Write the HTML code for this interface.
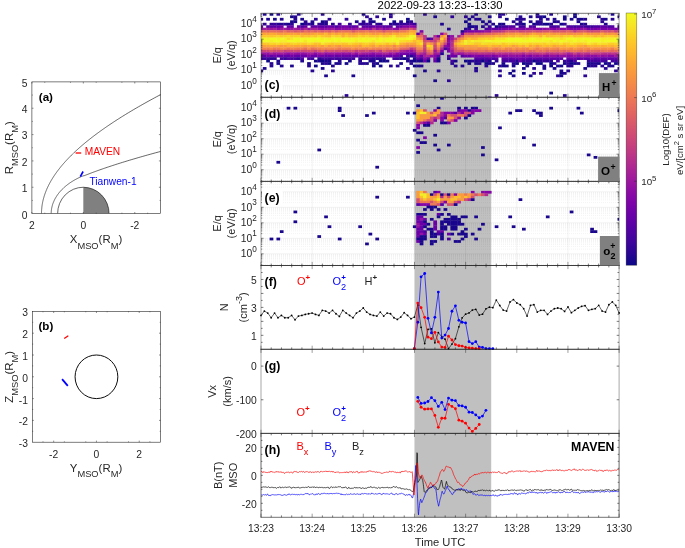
<!DOCTYPE html>
<html><head><meta charset="utf-8"><title>MAVEN 2022-09-23</title>
<style>html,body{margin:0;padding:0;background:#fff}body{width:685px;height:548px;overflow:hidden}svg{display:block}</style>
</head><body>
<svg width="685" height="548" viewBox="0 0 685 548" font-family='"Liberation Sans", Arial, Helvetica, sans-serif'>
<rect width="685" height="548" fill="#fff"/>
<rect x="414.47" y="13.3" width="76.74" height="504.00" fill="#c0c0c0"/>
<path d="M261.0 96.53H619.1M261.0 93.80H619.1M261.0 91.87H619.1M261.0 90.37H619.1M261.0 89.14H619.1M261.0 88.10H619.1M261.0 87.20H619.1M261.0 86.41H619.1M261.0 81.03H619.1M261.0 78.30H619.1M261.0 76.37H619.1M261.0 74.87H619.1M261.0 73.64H619.1M261.0 72.60H619.1M261.0 71.70H619.1M261.0 70.91H619.1M261.0 65.53H619.1M261.0 62.80H619.1M261.0 60.87H619.1M261.0 59.37H619.1M261.0 58.14H619.1M261.0 57.10H619.1M261.0 56.20H619.1M261.0 55.41H619.1M261.0 50.03H619.1M261.0 47.30H619.1M261.0 45.37H619.1M261.0 43.87H619.1M261.0 42.64H619.1M261.0 41.60H619.1M261.0 40.70H619.1M261.0 39.91H619.1M261.0 34.53H619.1M261.0 31.80H619.1M261.0 29.87H619.1M261.0 28.37H619.1M261.0 27.14H619.1M261.0 26.10H619.1M261.0 25.20H619.1M261.0 24.41H619.1M261.0 19.03H619.1M261.0 16.30H619.1M261.0 14.37H619.1" stroke="#000" stroke-opacity="0.10" stroke-width="0.6" stroke-dasharray="0.8 1.2" fill="none"/>
<path d="M312.16 13.3V97.3M363.31 13.3V97.3M414.47 13.3V97.3M465.63 13.3V97.3M516.79 13.3V97.3M567.94 13.3V97.3M261.0 85.70H619.1M261.0 70.20H619.1M261.0 54.70H619.1M261.0 39.20H619.1M261.0 23.70H619.1" stroke="#000" stroke-opacity="0.09" stroke-width="0.6" fill="none"/>
<g><rect x="262.80" y="13.30" width="3.71" height="2.40" fill="#20068f"/><rect x="269.62" y="13.30" width="3.71" height="2.40" fill="#100788"/><rect x="276.44" y="13.30" width="3.71" height="2.40" fill="#2a0593"/><rect x="296.90" y="13.30" width="3.71" height="2.40" fill="#240691"/><rect x="320.78" y="13.30" width="3.71" height="2.40" fill="#2a0593"/><rect x="361.70" y="13.30" width="3.71" height="2.40" fill="#20068f"/><rect x="388.99" y="13.30" width="3.71" height="2.40" fill="#280592"/><rect x="423.09" y="13.30" width="3.71" height="2.40" fill="#2e0595"/><rect x="474.25" y="13.30" width="3.71" height="2.40" fill="#240691"/><rect x="498.12" y="13.30" width="3.71" height="2.40" fill="#1b068d"/><rect x="501.53" y="13.30" width="3.71" height="2.40" fill="#2c0594"/><rect x="535.64" y="13.30" width="3.71" height="2.40" fill="#220690"/><rect x="549.28" y="13.30" width="3.71" height="2.40" fill="#220690"/><rect x="573.15" y="13.30" width="3.71" height="2.40" fill="#16078a"/><rect x="610.67" y="13.30" width="3.71" height="2.40" fill="#1d068e"/><rect x="290.08" y="15.40" width="3.71" height="2.76" fill="#16078a"/><rect x="293.49" y="15.40" width="3.71" height="2.76" fill="#280592"/><rect x="365.11" y="15.40" width="3.71" height="2.76" fill="#2e0595"/><rect x="375.35" y="15.40" width="3.71" height="2.76" fill="#2c0594"/><rect x="388.99" y="15.40" width="3.71" height="2.76" fill="#2e0595"/><rect x="433.32" y="15.40" width="3.71" height="2.76" fill="#1d068e"/><rect x="450.38" y="15.40" width="3.71" height="2.76" fill="#2e0595"/><rect x="464.02" y="15.40" width="3.71" height="2.76" fill="#2e0595"/><rect x="470.84" y="15.40" width="3.71" height="2.76" fill="#240691"/><rect x="487.89" y="15.40" width="3.71" height="2.76" fill="#19068c"/><rect x="498.12" y="15.40" width="3.71" height="2.76" fill="#2c0594"/><rect x="518.59" y="15.40" width="3.71" height="2.76" fill="#220690"/><rect x="528.82" y="15.40" width="3.71" height="2.76" fill="#1d068e"/><rect x="535.64" y="15.40" width="3.71" height="2.76" fill="#2a0593"/><rect x="539.05" y="15.40" width="3.71" height="2.76" fill="#20068f"/><rect x="542.46" y="15.40" width="3.71" height="2.76" fill="#100788"/><rect x="562.92" y="15.40" width="3.71" height="2.76" fill="#16078a"/><rect x="573.15" y="15.40" width="3.71" height="2.76" fill="#130789"/><rect x="597.03" y="15.40" width="3.71" height="2.76" fill="#260591"/><rect x="617.49" y="15.40" width="1.61" height="2.76" fill="#260591"/><rect x="261.00" y="17.86" width="2.10" height="2.76" fill="#2a0593"/><rect x="266.21" y="17.86" width="3.71" height="2.76" fill="#1d068e"/><rect x="273.03" y="17.86" width="3.71" height="2.76" fill="#19068c"/><rect x="279.85" y="17.86" width="3.71" height="2.76" fill="#220690"/><rect x="293.49" y="17.86" width="3.71" height="2.76" fill="#280592"/><rect x="300.32" y="17.86" width="3.71" height="2.76" fill="#1d068e"/><rect x="313.96" y="17.86" width="3.71" height="2.76" fill="#2a0593"/><rect x="327.60" y="17.86" width="3.71" height="2.76" fill="#2c0594"/><rect x="344.65" y="17.86" width="3.71" height="2.76" fill="#2e0595"/><rect x="368.52" y="17.86" width="3.71" height="2.76" fill="#220690"/><rect x="382.17" y="17.86" width="3.71" height="2.76" fill="#1b068d"/><rect x="406.04" y="17.86" width="3.71" height="2.76" fill="#100788"/><rect x="467.43" y="17.86" width="3.71" height="2.76" fill="#130789"/><rect x="474.25" y="17.86" width="3.71" height="2.76" fill="#2a0593"/><rect x="477.66" y="17.86" width="3.71" height="2.76" fill="#1d068e"/><rect x="504.94" y="17.86" width="3.71" height="2.76" fill="#100788"/><rect x="515.18" y="17.86" width="3.71" height="2.76" fill="#1d068e"/><rect x="518.59" y="17.86" width="3.71" height="2.76" fill="#2a0593"/><rect x="522.00" y="17.86" width="3.71" height="2.76" fill="#2c0594"/><rect x="539.05" y="17.86" width="3.71" height="2.76" fill="#240691"/><rect x="545.87" y="17.86" width="3.71" height="2.76" fill="#2e0595"/><rect x="552.69" y="17.86" width="3.71" height="2.76" fill="#20068f"/><rect x="562.92" y="17.86" width="3.71" height="2.76" fill="#16078a"/><rect x="569.74" y="17.86" width="3.71" height="2.76" fill="#19068c"/><rect x="576.56" y="17.86" width="3.71" height="2.76" fill="#1d068e"/><rect x="579.97" y="17.86" width="3.71" height="2.76" fill="#16078a"/><rect x="583.38" y="17.86" width="3.71" height="2.76" fill="#260591"/><rect x="600.44" y="17.86" width="3.71" height="2.76" fill="#260591"/><rect x="603.85" y="17.86" width="3.71" height="2.76" fill="#19068c"/><rect x="610.67" y="17.86" width="3.71" height="2.76" fill="#260591"/><rect x="290.08" y="20.32" width="3.71" height="2.76" fill="#19068c"/><rect x="293.49" y="20.32" width="3.71" height="2.76" fill="#1b068d"/><rect x="303.73" y="20.32" width="3.71" height="2.76" fill="#2a0593"/><rect x="310.55" y="20.32" width="3.71" height="2.76" fill="#20068f"/><rect x="320.78" y="20.32" width="3.71" height="2.76" fill="#16078a"/><rect x="324.19" y="20.32" width="3.71" height="2.76" fill="#280592"/><rect x="354.88" y="20.32" width="3.71" height="2.76" fill="#1b068d"/><rect x="361.70" y="20.32" width="3.71" height="2.76" fill="#2a0593"/><rect x="368.52" y="20.32" width="3.71" height="2.76" fill="#1d068e"/><rect x="371.94" y="20.32" width="3.71" height="2.76" fill="#16078a"/><rect x="392.40" y="20.32" width="3.71" height="2.76" fill="#100788"/><rect x="399.22" y="20.32" width="3.71" height="2.76" fill="#260591"/><rect x="406.04" y="20.32" width="3.71" height="2.76" fill="#19068c"/><rect x="409.45" y="20.32" width="3.71" height="2.76" fill="#280592"/><rect x="464.02" y="20.32" width="3.71" height="2.76" fill="#130789"/><rect x="481.07" y="20.32" width="3.71" height="2.76" fill="#16078a"/><rect x="487.89" y="20.32" width="3.71" height="2.76" fill="#20068f"/><rect x="511.76" y="20.32" width="3.71" height="2.76" fill="#240691"/><rect x="518.59" y="20.32" width="3.71" height="2.76" fill="#2a0593"/><rect x="528.82" y="20.32" width="3.71" height="2.76" fill="#20068f"/><rect x="535.64" y="20.32" width="3.71" height="2.76" fill="#240691"/><rect x="539.05" y="20.32" width="3.71" height="2.76" fill="#280592"/><rect x="552.69" y="20.32" width="3.71" height="2.76" fill="#1b068d"/><rect x="556.10" y="20.32" width="3.71" height="2.76" fill="#240691"/><rect x="576.56" y="20.32" width="3.71" height="2.76" fill="#1d068e"/><rect x="600.44" y="20.32" width="3.71" height="2.76" fill="#2a0593"/><rect x="262.80" y="22.78" width="3.71" height="2.76" fill="#330597"/><rect x="269.62" y="22.78" width="3.71" height="2.76" fill="#330597"/><rect x="273.03" y="22.78" width="3.71" height="2.76" fill="#3a049a"/><rect x="276.44" y="22.78" width="3.71" height="2.76" fill="#260591"/><rect x="279.85" y="22.78" width="3.71" height="2.76" fill="#240691"/><rect x="283.26" y="22.78" width="3.71" height="2.76" fill="#260591"/><rect x="286.67" y="22.78" width="3.71" height="2.76" fill="#19068c"/><rect x="290.08" y="22.78" width="3.71" height="2.76" fill="#2a0593"/><rect x="300.32" y="22.78" width="3.71" height="2.76" fill="#0d0887"/><rect x="303.73" y="22.78" width="3.71" height="2.76" fill="#2a0593"/><rect x="307.14" y="22.78" width="3.71" height="2.76" fill="#2f0596"/><rect x="310.55" y="22.78" width="3.71" height="2.76" fill="#1b068d"/><rect x="317.37" y="22.78" width="3.71" height="2.76" fill="#310597"/><rect x="320.78" y="22.78" width="3.71" height="2.76" fill="#240691"/><rect x="324.19" y="22.78" width="3.71" height="2.76" fill="#20068f"/><rect x="331.01" y="22.78" width="3.71" height="2.76" fill="#260591"/><rect x="337.83" y="22.78" width="3.71" height="2.76" fill="#44039e"/><rect x="348.06" y="22.78" width="3.71" height="2.76" fill="#310597"/><rect x="358.29" y="22.78" width="3.71" height="2.76" fill="#370499"/><rect x="361.70" y="22.78" width="3.71" height="2.76" fill="#2e0595"/><rect x="365.11" y="22.78" width="3.71" height="2.76" fill="#41049d"/><rect x="368.52" y="22.78" width="3.71" height="2.76" fill="#370499"/><rect x="375.35" y="22.78" width="3.71" height="2.76" fill="#2e0595"/><rect x="378.76" y="22.78" width="3.71" height="2.76" fill="#220690"/><rect x="388.99" y="22.78" width="3.71" height="2.76" fill="#260591"/><rect x="392.40" y="22.78" width="3.71" height="2.76" fill="#2a0593"/><rect x="395.81" y="22.78" width="3.71" height="2.76" fill="#280592"/><rect x="399.22" y="22.78" width="3.71" height="2.76" fill="#370499"/><rect x="402.63" y="22.78" width="3.71" height="2.76" fill="#370499"/><rect x="406.04" y="22.78" width="3.71" height="2.76" fill="#3f049c"/><rect x="409.45" y="22.78" width="3.71" height="2.76" fill="#5601a4"/><rect x="412.86" y="22.78" width="3.71" height="2.76" fill="#350498"/><rect x="440.14" y="22.78" width="3.71" height="2.76" fill="#20068f"/><rect x="467.43" y="22.78" width="3.71" height="2.76" fill="#19068c"/><rect x="484.48" y="22.78" width="3.71" height="2.76" fill="#280592"/><rect x="491.30" y="22.78" width="3.71" height="2.76" fill="#20068f"/><rect x="498.12" y="22.78" width="3.71" height="2.76" fill="#16078a"/><rect x="501.53" y="22.78" width="3.71" height="2.76" fill="#1b068d"/><rect x="515.18" y="22.78" width="3.71" height="2.76" fill="#220690"/><rect x="518.59" y="22.78" width="3.71" height="2.76" fill="#2c0594"/><rect x="522.00" y="22.78" width="3.71" height="2.76" fill="#130789"/><rect x="532.23" y="22.78" width="3.71" height="2.76" fill="#130789"/><rect x="535.64" y="22.78" width="3.71" height="2.76" fill="#260591"/><rect x="539.05" y="22.78" width="3.71" height="2.76" fill="#2a0593"/><rect x="542.46" y="22.78" width="3.71" height="2.76" fill="#16078a"/><rect x="545.87" y="22.78" width="3.71" height="2.76" fill="#100788"/><rect x="549.28" y="22.78" width="3.71" height="2.76" fill="#260591"/><rect x="559.51" y="22.78" width="3.71" height="2.76" fill="#130789"/><rect x="562.92" y="22.78" width="3.71" height="2.76" fill="#2e0595"/><rect x="579.97" y="22.78" width="3.71" height="2.76" fill="#1d068e"/><rect x="583.38" y="22.78" width="3.71" height="2.76" fill="#260591"/><rect x="603.85" y="22.78" width="3.71" height="2.76" fill="#20068f"/><rect x="261.00" y="25.24" width="2.10" height="2.76" fill="#5e01a6"/><rect x="266.21" y="25.24" width="3.71" height="2.76" fill="#4c02a1"/><rect x="269.62" y="25.24" width="3.71" height="2.76" fill="#5901a5"/><rect x="273.03" y="25.24" width="3.71" height="2.76" fill="#5302a3"/><rect x="276.44" y="25.24" width="3.71" height="2.76" fill="#5b01a5"/><rect x="279.85" y="25.24" width="3.71" height="2.76" fill="#7201a8"/><rect x="286.67" y="25.24" width="3.71" height="2.76" fill="#6400a7"/><rect x="290.08" y="25.24" width="3.71" height="2.76" fill="#5c01a6"/><rect x="296.90" y="25.24" width="3.71" height="2.76" fill="#6600a7"/><rect x="300.32" y="25.24" width="3.71" height="2.76" fill="#4e02a2"/><rect x="303.73" y="25.24" width="3.71" height="2.76" fill="#6600a7"/><rect x="310.55" y="25.24" width="3.71" height="2.76" fill="#5e01a6"/><rect x="313.96" y="25.24" width="3.71" height="2.76" fill="#6001a6"/><rect x="317.37" y="25.24" width="3.71" height="2.76" fill="#6001a6"/><rect x="320.78" y="25.24" width="3.71" height="2.76" fill="#5801a4"/><rect x="324.19" y="25.24" width="3.71" height="2.76" fill="#5b01a5"/><rect x="327.60" y="25.24" width="3.71" height="2.76" fill="#6c00a8"/><rect x="331.01" y="25.24" width="3.71" height="2.76" fill="#6100a7"/><rect x="334.42" y="25.24" width="3.71" height="2.76" fill="#4e02a2"/><rect x="337.83" y="25.24" width="3.71" height="2.76" fill="#6900a8"/><rect x="341.24" y="25.24" width="3.71" height="2.76" fill="#6a00a8"/><rect x="344.65" y="25.24" width="3.71" height="2.76" fill="#7401a8"/><rect x="348.06" y="25.24" width="3.71" height="2.76" fill="#5901a5"/><rect x="351.47" y="25.24" width="3.71" height="2.76" fill="#5601a4"/><rect x="354.88" y="25.24" width="3.71" height="2.76" fill="#6900a8"/><rect x="361.70" y="25.24" width="3.71" height="2.76" fill="#5b01a5"/><rect x="365.11" y="25.24" width="3.71" height="2.76" fill="#5302a3"/><rect x="368.52" y="25.24" width="3.71" height="2.76" fill="#5502a4"/><rect x="371.94" y="25.24" width="3.71" height="2.76" fill="#6600a7"/><rect x="375.35" y="25.24" width="3.71" height="2.76" fill="#6700a8"/><rect x="378.76" y="25.24" width="3.71" height="2.76" fill="#6e00a8"/><rect x="382.17" y="25.24" width="3.71" height="2.76" fill="#5302a3"/><rect x="385.58" y="25.24" width="3.71" height="2.76" fill="#5901a5"/><rect x="388.99" y="25.24" width="3.71" height="2.76" fill="#5901a5"/><rect x="395.81" y="25.24" width="3.71" height="2.76" fill="#5b01a5"/><rect x="399.22" y="25.24" width="3.71" height="2.76" fill="#6300a7"/><rect x="402.63" y="25.24" width="3.71" height="2.76" fill="#8305a7"/><rect x="406.04" y="25.24" width="3.71" height="2.76" fill="#7d03a8"/><rect x="409.45" y="25.24" width="3.71" height="2.76" fill="#8b0aa5"/><rect x="412.86" y="25.24" width="3.71" height="2.76" fill="#8004a8"/><rect x="467.43" y="25.24" width="3.71" height="2.76" fill="#100788"/><rect x="470.84" y="25.24" width="3.71" height="2.76" fill="#19068c"/><rect x="474.25" y="25.24" width="3.71" height="2.76" fill="#20068f"/><rect x="481.07" y="25.24" width="3.71" height="2.76" fill="#240691"/><rect x="487.89" y="25.24" width="3.71" height="2.76" fill="#370499"/><rect x="494.71" y="25.24" width="3.71" height="2.76" fill="#130789"/><rect x="498.12" y="25.24" width="3.71" height="2.76" fill="#310597"/><rect x="501.53" y="25.24" width="3.71" height="2.76" fill="#3e049c"/><rect x="504.94" y="25.24" width="3.71" height="2.76" fill="#41049d"/><rect x="508.35" y="25.24" width="3.71" height="2.76" fill="#5102a3"/><rect x="511.76" y="25.24" width="3.71" height="2.76" fill="#4b03a1"/><rect x="518.59" y="25.24" width="3.71" height="2.76" fill="#3e049c"/><rect x="522.00" y="25.24" width="3.71" height="2.76" fill="#48039f"/><rect x="528.82" y="25.24" width="3.71" height="2.76" fill="#4903a0"/><rect x="532.23" y="25.24" width="3.71" height="2.76" fill="#48039f"/><rect x="549.28" y="25.24" width="3.71" height="2.76" fill="#46039f"/><rect x="552.69" y="25.24" width="3.71" height="2.76" fill="#43039e"/><rect x="556.10" y="25.24" width="3.71" height="2.76" fill="#46039f"/><rect x="566.33" y="25.24" width="3.71" height="2.76" fill="#46039f"/><rect x="569.74" y="25.24" width="3.71" height="2.76" fill="#4e02a2"/><rect x="573.15" y="25.24" width="3.71" height="2.76" fill="#3c049b"/><rect x="576.56" y="25.24" width="3.71" height="2.76" fill="#4b03a1"/><rect x="579.97" y="25.24" width="3.71" height="2.76" fill="#4c02a1"/><rect x="583.38" y="25.24" width="3.71" height="2.76" fill="#41049d"/><rect x="586.80" y="25.24" width="3.71" height="2.76" fill="#370499"/><rect x="590.21" y="25.24" width="3.71" height="2.76" fill="#38049a"/><rect x="593.62" y="25.24" width="3.71" height="2.76" fill="#4c02a1"/><rect x="597.03" y="25.24" width="3.71" height="2.76" fill="#46039f"/><rect x="600.44" y="25.24" width="3.71" height="2.76" fill="#6001a6"/><rect x="603.85" y="25.24" width="3.71" height="2.76" fill="#6100a7"/><rect x="607.26" y="25.24" width="3.71" height="2.76" fill="#41049d"/><rect x="610.67" y="25.24" width="3.71" height="2.76" fill="#5102a3"/><rect x="617.49" y="25.24" width="1.61" height="2.76" fill="#46039f"/><rect x="261.00" y="27.70" width="2.10" height="2.76" fill="#910ea3"/><rect x="262.80" y="27.70" width="3.71" height="2.76" fill="#a31e9a"/><rect x="266.21" y="27.70" width="3.71" height="2.76" fill="#a01a9c"/><rect x="269.62" y="27.70" width="3.71" height="2.76" fill="#9a169f"/><rect x="273.03" y="27.70" width="3.71" height="2.76" fill="#a21d9a"/><rect x="276.44" y="27.70" width="3.71" height="2.76" fill="#8b0aa5"/><rect x="279.85" y="27.70" width="3.71" height="2.76" fill="#9a169f"/><rect x="283.26" y="27.70" width="3.71" height="2.76" fill="#a01a9c"/><rect x="286.67" y="27.70" width="3.71" height="2.76" fill="#910ea3"/><rect x="290.08" y="27.70" width="3.71" height="2.76" fill="#9511a1"/><rect x="293.49" y="27.70" width="3.71" height="2.76" fill="#a11b9b"/><rect x="296.90" y="27.70" width="3.71" height="2.76" fill="#99159f"/><rect x="300.32" y="27.70" width="3.71" height="2.76" fill="#9410a2"/><rect x="303.73" y="27.70" width="3.71" height="2.76" fill="#ae2892"/><rect x="307.14" y="27.70" width="3.71" height="2.76" fill="#9814a0"/><rect x="310.55" y="27.70" width="3.71" height="2.76" fill="#a51f99"/><rect x="313.96" y="27.70" width="3.71" height="2.76" fill="#a62098"/><rect x="317.37" y="27.70" width="3.71" height="2.76" fill="#9410a2"/><rect x="320.78" y="27.70" width="3.71" height="2.76" fill="#8808a6"/><rect x="324.19" y="27.70" width="3.71" height="2.76" fill="#920fa3"/><rect x="327.60" y="27.70" width="3.71" height="2.76" fill="#9511a1"/><rect x="331.01" y="27.70" width="3.71" height="2.76" fill="#9d189d"/><rect x="334.42" y="27.70" width="3.71" height="2.76" fill="#8606a6"/><rect x="337.83" y="27.70" width="3.71" height="2.76" fill="#8a09a5"/><rect x="341.24" y="27.70" width="3.71" height="2.76" fill="#8b0aa5"/><rect x="344.65" y="27.70" width="3.71" height="2.76" fill="#8b0aa5"/><rect x="348.06" y="27.70" width="3.71" height="2.76" fill="#8d0ba5"/><rect x="351.47" y="27.70" width="3.71" height="2.76" fill="#8f0da4"/><rect x="354.88" y="27.70" width="3.71" height="2.76" fill="#99159f"/><rect x="358.29" y="27.70" width="3.71" height="2.76" fill="#a01a9c"/><rect x="361.70" y="27.70" width="3.71" height="2.76" fill="#9511a1"/><rect x="365.11" y="27.70" width="3.71" height="2.76" fill="#99159f"/><rect x="368.52" y="27.70" width="3.71" height="2.76" fill="#8f0da4"/><rect x="371.94" y="27.70" width="3.71" height="2.76" fill="#b83289"/><rect x="375.35" y="27.70" width="3.71" height="2.76" fill="#920fa3"/><rect x="378.76" y="27.70" width="3.71" height="2.76" fill="#a31e9a"/><rect x="382.17" y="27.70" width="3.71" height="2.76" fill="#8707a6"/><rect x="385.58" y="27.70" width="3.71" height="2.76" fill="#8e0ca4"/><rect x="388.99" y="27.70" width="3.71" height="2.76" fill="#9e199d"/><rect x="392.40" y="27.70" width="3.71" height="2.76" fill="#910ea3"/><rect x="395.81" y="27.70" width="3.71" height="2.76" fill="#8b0aa5"/><rect x="399.22" y="27.70" width="3.71" height="2.76" fill="#b7318a"/><rect x="402.63" y="27.70" width="3.71" height="2.76" fill="#b83289"/><rect x="406.04" y="27.70" width="3.71" height="2.76" fill="#bd3786"/><rect x="409.45" y="27.70" width="3.71" height="2.76" fill="#d6556d"/><rect x="412.86" y="27.70" width="3.71" height="2.76" fill="#c23c81"/><rect x="446.97" y="27.70" width="3.71" height="2.76" fill="#240691"/><rect x="464.02" y="27.70" width="3.71" height="2.76" fill="#240691"/><rect x="467.43" y="27.70" width="3.71" height="2.76" fill="#38049a"/><rect x="474.25" y="27.70" width="3.71" height="2.76" fill="#3f049c"/><rect x="484.48" y="27.70" width="3.71" height="2.76" fill="#4b03a1"/><rect x="487.89" y="27.70" width="3.71" height="2.76" fill="#5901a5"/><rect x="491.30" y="27.70" width="3.71" height="2.76" fill="#6001a6"/><rect x="494.71" y="27.70" width="3.71" height="2.76" fill="#5c01a6"/><rect x="498.12" y="27.70" width="3.71" height="2.76" fill="#6700a8"/><rect x="501.53" y="27.70" width="3.71" height="2.76" fill="#7501a8"/><rect x="504.94" y="27.70" width="3.71" height="2.76" fill="#7e03a8"/><rect x="508.35" y="27.70" width="3.71" height="2.76" fill="#7e03a8"/><rect x="511.76" y="27.70" width="3.71" height="2.76" fill="#910ea3"/><rect x="515.18" y="27.70" width="3.71" height="2.76" fill="#7501a8"/><rect x="518.59" y="27.70" width="3.71" height="2.76" fill="#8305a7"/><rect x="522.00" y="27.70" width="3.71" height="2.76" fill="#7b02a8"/><rect x="525.41" y="27.70" width="3.71" height="2.76" fill="#8a09a5"/><rect x="528.82" y="27.70" width="3.71" height="2.76" fill="#9511a1"/><rect x="532.23" y="27.70" width="3.71" height="2.76" fill="#8606a6"/><rect x="535.64" y="27.70" width="3.71" height="2.76" fill="#7d03a8"/><rect x="539.05" y="27.70" width="3.71" height="2.76" fill="#7b02a8"/><rect x="542.46" y="27.70" width="3.71" height="2.76" fill="#8606a6"/><rect x="545.87" y="27.70" width="3.71" height="2.76" fill="#9410a2"/><rect x="549.28" y="27.70" width="3.71" height="2.76" fill="#8606a6"/><rect x="552.69" y="27.70" width="3.71" height="2.76" fill="#7a02a8"/><rect x="556.10" y="27.70" width="3.71" height="2.76" fill="#910ea3"/><rect x="559.51" y="27.70" width="3.71" height="2.76" fill="#8405a7"/><rect x="562.92" y="27.70" width="3.71" height="2.76" fill="#8707a6"/><rect x="566.33" y="27.70" width="3.71" height="2.76" fill="#8b0aa5"/><rect x="569.74" y="27.70" width="3.71" height="2.76" fill="#7b02a8"/><rect x="573.15" y="27.70" width="3.71" height="2.76" fill="#7701a8"/><rect x="576.56" y="27.70" width="3.71" height="2.76" fill="#7e03a8"/><rect x="579.97" y="27.70" width="3.71" height="2.76" fill="#8f0da4"/><rect x="583.38" y="27.70" width="3.71" height="2.76" fill="#9511a1"/><rect x="586.80" y="27.70" width="3.71" height="2.76" fill="#7201a8"/><rect x="590.21" y="27.70" width="3.71" height="2.76" fill="#7701a8"/><rect x="593.62" y="27.70" width="3.71" height="2.76" fill="#7701a8"/><rect x="597.03" y="27.70" width="3.71" height="2.76" fill="#8305a7"/><rect x="600.44" y="27.70" width="3.71" height="2.76" fill="#7801a8"/><rect x="603.85" y="27.70" width="3.71" height="2.76" fill="#7b02a8"/><rect x="607.26" y="27.70" width="3.71" height="2.76" fill="#8004a8"/><rect x="610.67" y="27.70" width="3.71" height="2.76" fill="#7b02a8"/><rect x="614.08" y="27.70" width="3.71" height="2.76" fill="#7501a8"/><rect x="617.49" y="27.70" width="1.61" height="2.76" fill="#7701a8"/><rect x="261.00" y="30.16" width="2.10" height="2.76" fill="#e4695e"/><rect x="262.80" y="30.16" width="3.71" height="2.76" fill="#e76f5a"/><rect x="266.21" y="30.16" width="3.71" height="2.76" fill="#e26660"/><rect x="269.62" y="30.16" width="3.71" height="2.76" fill="#e76e5b"/><rect x="273.03" y="30.16" width="3.71" height="2.76" fill="#e56b5d"/><rect x="276.44" y="30.16" width="3.71" height="2.76" fill="#e3685f"/><rect x="279.85" y="30.16" width="3.71" height="2.76" fill="#e16462"/><rect x="283.26" y="30.16" width="3.71" height="2.76" fill="#ea7457"/><rect x="286.67" y="30.16" width="3.71" height="2.76" fill="#de5f65"/><rect x="290.08" y="30.16" width="3.71" height="2.76" fill="#e26561"/><rect x="293.49" y="30.16" width="3.71" height="2.76" fill="#d8576b"/><rect x="296.90" y="30.16" width="3.71" height="2.76" fill="#df6263"/><rect x="300.32" y="30.16" width="3.71" height="2.76" fill="#d8576b"/><rect x="303.73" y="30.16" width="3.71" height="2.76" fill="#e76e5b"/><rect x="307.14" y="30.16" width="3.71" height="2.76" fill="#de6164"/><rect x="310.55" y="30.16" width="3.71" height="2.76" fill="#e56b5d"/><rect x="313.96" y="30.16" width="3.71" height="2.76" fill="#dc5d67"/><rect x="317.37" y="30.16" width="3.71" height="2.76" fill="#e3685f"/><rect x="320.78" y="30.16" width="3.71" height="2.76" fill="#db5c68"/><rect x="324.19" y="30.16" width="3.71" height="2.76" fill="#e26660"/><rect x="327.60" y="30.16" width="3.71" height="2.76" fill="#dc5d67"/><rect x="331.01" y="30.16" width="3.71" height="2.76" fill="#e97257"/><rect x="334.42" y="30.16" width="3.71" height="2.76" fill="#de5f65"/><rect x="337.83" y="30.16" width="3.71" height="2.76" fill="#e76e5b"/><rect x="341.24" y="30.16" width="3.71" height="2.76" fill="#ea7457"/><rect x="344.65" y="30.16" width="3.71" height="2.76" fill="#e87059"/><rect x="348.06" y="30.16" width="3.71" height="2.76" fill="#e97158"/><rect x="351.47" y="30.16" width="3.71" height="2.76" fill="#d8576b"/><rect x="354.88" y="30.16" width="3.71" height="2.76" fill="#e56b5d"/><rect x="358.29" y="30.16" width="3.71" height="2.76" fill="#e87059"/><rect x="361.70" y="30.16" width="3.71" height="2.76" fill="#e97257"/><rect x="365.11" y="30.16" width="3.71" height="2.76" fill="#ee7b51"/><rect x="368.52" y="30.16" width="3.71" height="2.76" fill="#e56b5d"/><rect x="371.94" y="30.16" width="3.71" height="2.76" fill="#e97158"/><rect x="375.35" y="30.16" width="3.71" height="2.76" fill="#e97257"/><rect x="378.76" y="30.16" width="3.71" height="2.76" fill="#e56a5d"/><rect x="382.17" y="30.16" width="3.71" height="2.76" fill="#d7566c"/><rect x="385.58" y="30.16" width="3.71" height="2.76" fill="#e56b5d"/><rect x="388.99" y="30.16" width="3.71" height="2.76" fill="#e56b5d"/><rect x="392.40" y="30.16" width="3.71" height="2.76" fill="#e97257"/><rect x="395.81" y="30.16" width="3.71" height="2.76" fill="#e4695e"/><rect x="399.22" y="30.16" width="3.71" height="2.76" fill="#ed7953"/><rect x="402.63" y="30.16" width="3.71" height="2.76" fill="#ed7953"/><rect x="406.04" y="30.16" width="3.71" height="2.76" fill="#f48849"/><rect x="409.45" y="30.16" width="3.71" height="2.76" fill="#fca537"/><rect x="412.86" y="30.16" width="3.71" height="2.76" fill="#fba139"/><rect x="419.68" y="30.16" width="3.71" height="2.76" fill="#7e03a8"/><rect x="460.61" y="30.16" width="3.71" height="2.76" fill="#260591"/><rect x="464.02" y="30.16" width="3.71" height="2.76" fill="#6600a7"/><rect x="467.43" y="30.16" width="3.71" height="2.76" fill="#7701a8"/><rect x="470.84" y="30.16" width="3.71" height="2.76" fill="#7b02a8"/><rect x="474.25" y="30.16" width="3.71" height="2.76" fill="#7a02a8"/><rect x="477.66" y="30.16" width="3.71" height="2.76" fill="#8405a7"/><rect x="481.07" y="30.16" width="3.71" height="2.76" fill="#8a09a5"/><rect x="484.48" y="30.16" width="3.71" height="2.76" fill="#9613a1"/><rect x="487.89" y="30.16" width="3.71" height="2.76" fill="#920fa3"/><rect x="491.30" y="30.16" width="3.71" height="2.76" fill="#bc3587"/><rect x="494.71" y="30.16" width="3.71" height="2.76" fill="#b52f8c"/><rect x="498.12" y="30.16" width="3.71" height="2.76" fill="#b42e8d"/><rect x="501.53" y="30.16" width="3.71" height="2.76" fill="#c03a83"/><rect x="504.94" y="30.16" width="3.71" height="2.76" fill="#d24f71"/><rect x="508.35" y="30.16" width="3.71" height="2.76" fill="#d35171"/><rect x="511.76" y="30.16" width="3.71" height="2.76" fill="#cf4c74"/><rect x="515.18" y="30.16" width="3.71" height="2.76" fill="#d5546e"/><rect x="518.59" y="30.16" width="3.71" height="2.76" fill="#c8437b"/><rect x="522.00" y="30.16" width="3.71" height="2.76" fill="#cc4977"/><rect x="525.41" y="30.16" width="3.71" height="2.76" fill="#cf4c74"/><rect x="528.82" y="30.16" width="3.71" height="2.76" fill="#cf4c74"/><rect x="532.23" y="30.16" width="3.71" height="2.76" fill="#d7566c"/><rect x="535.64" y="30.16" width="3.71" height="2.76" fill="#ce4b75"/><rect x="539.05" y="30.16" width="3.71" height="2.76" fill="#ce4b75"/><rect x="542.46" y="30.16" width="3.71" height="2.76" fill="#d6556d"/><rect x="545.87" y="30.16" width="3.71" height="2.76" fill="#d5546e"/><rect x="549.28" y="30.16" width="3.71" height="2.76" fill="#dd5e66"/><rect x="552.69" y="30.16" width="3.71" height="2.76" fill="#d14e72"/><rect x="556.10" y="30.16" width="3.71" height="2.76" fill="#d24f71"/><rect x="559.51" y="30.16" width="3.71" height="2.76" fill="#d9586a"/><rect x="562.92" y="30.16" width="3.71" height="2.76" fill="#d6556d"/><rect x="566.33" y="30.16" width="3.71" height="2.76" fill="#e16462"/><rect x="569.74" y="30.16" width="3.71" height="2.76" fill="#da5a6a"/><rect x="573.15" y="30.16" width="3.71" height="2.76" fill="#c13b82"/><rect x="576.56" y="30.16" width="3.71" height="2.76" fill="#d5546e"/><rect x="579.97" y="30.16" width="3.71" height="2.76" fill="#da5a6a"/><rect x="583.38" y="30.16" width="3.71" height="2.76" fill="#da5b69"/><rect x="586.80" y="30.16" width="3.71" height="2.76" fill="#cf4c74"/><rect x="590.21" y="30.16" width="3.71" height="2.76" fill="#c9447a"/><rect x="593.62" y="30.16" width="3.71" height="2.76" fill="#cf4c74"/><rect x="597.03" y="30.16" width="3.71" height="2.76" fill="#cd4a76"/><rect x="600.44" y="30.16" width="3.71" height="2.76" fill="#dd5e66"/><rect x="603.85" y="30.16" width="3.71" height="2.76" fill="#d35171"/><rect x="607.26" y="30.16" width="3.71" height="2.76" fill="#cf4c74"/><rect x="610.67" y="30.16" width="3.71" height="2.76" fill="#d9586a"/><rect x="614.08" y="30.16" width="3.71" height="2.76" fill="#c33d80"/><rect x="617.49" y="30.16" width="1.61" height="2.76" fill="#cd4a76"/><rect x="261.00" y="32.62" width="2.10" height="2.76" fill="#fdab33"/><rect x="262.80" y="32.62" width="3.71" height="2.76" fill="#fca338"/><rect x="266.21" y="32.62" width="3.71" height="2.76" fill="#fba139"/><rect x="269.62" y="32.62" width="3.71" height="2.76" fill="#fdac33"/><rect x="273.03" y="32.62" width="3.71" height="2.76" fill="#fca636"/><rect x="276.44" y="32.62" width="3.71" height="2.76" fill="#fa9e3b"/><rect x="279.85" y="32.62" width="3.71" height="2.76" fill="#fa9b3d"/><rect x="283.26" y="32.62" width="3.71" height="2.76" fill="#fa9b3d"/><rect x="286.67" y="32.62" width="3.71" height="2.76" fill="#fba238"/><rect x="290.08" y="32.62" width="3.71" height="2.76" fill="#fb9f3a"/><rect x="293.49" y="32.62" width="3.71" height="2.76" fill="#fca537"/><rect x="296.90" y="32.62" width="3.71" height="2.76" fill="#fa9b3d"/><rect x="300.32" y="32.62" width="3.71" height="2.76" fill="#fca537"/><rect x="303.73" y="32.62" width="3.71" height="2.76" fill="#fa9c3c"/><rect x="307.14" y="32.62" width="3.71" height="2.76" fill="#f9983e"/><rect x="310.55" y="32.62" width="3.71" height="2.76" fill="#fba139"/><rect x="313.96" y="32.62" width="3.71" height="2.76" fill="#fdac33"/><rect x="317.37" y="32.62" width="3.71" height="2.76" fill="#fca934"/><rect x="320.78" y="32.62" width="3.71" height="2.76" fill="#fca537"/><rect x="324.19" y="32.62" width="3.71" height="2.76" fill="#feb72d"/><rect x="327.60" y="32.62" width="3.71" height="2.76" fill="#fa9e3b"/><rect x="331.01" y="32.62" width="3.71" height="2.76" fill="#fdaf31"/><rect x="334.42" y="32.62" width="3.71" height="2.76" fill="#fba238"/><rect x="337.83" y="32.62" width="3.71" height="2.76" fill="#fdaf31"/><rect x="341.24" y="32.62" width="3.71" height="2.76" fill="#fb9f3a"/><rect x="344.65" y="32.62" width="3.71" height="2.76" fill="#fdb42f"/><rect x="348.06" y="32.62" width="3.71" height="2.76" fill="#fba139"/><rect x="351.47" y="32.62" width="3.71" height="2.76" fill="#fa9b3d"/><rect x="354.88" y="32.62" width="3.71" height="2.76" fill="#fca537"/><rect x="358.29" y="32.62" width="3.71" height="2.76" fill="#fdac33"/><rect x="361.70" y="32.62" width="3.71" height="2.76" fill="#fb9f3a"/><rect x="365.11" y="32.62" width="3.71" height="2.76" fill="#fca835"/><rect x="368.52" y="32.62" width="3.71" height="2.76" fill="#fca537"/><rect x="371.94" y="32.62" width="3.71" height="2.76" fill="#f9983e"/><rect x="375.35" y="32.62" width="3.71" height="2.76" fill="#fa9b3d"/><rect x="378.76" y="32.62" width="3.71" height="2.76" fill="#fca835"/><rect x="382.17" y="32.62" width="3.71" height="2.76" fill="#f9983e"/><rect x="385.58" y="32.62" width="3.71" height="2.76" fill="#fca835"/><rect x="388.99" y="32.62" width="3.71" height="2.76" fill="#fa9b3d"/><rect x="392.40" y="32.62" width="3.71" height="2.76" fill="#fdb130"/><rect x="395.81" y="32.62" width="3.71" height="2.76" fill="#fca636"/><rect x="399.22" y="32.62" width="3.71" height="2.76" fill="#fdb130"/><rect x="402.63" y="32.62" width="3.71" height="2.76" fill="#fdb22f"/><rect x="406.04" y="32.62" width="3.71" height="2.76" fill="#fdb22f"/><rect x="409.45" y="32.62" width="3.71" height="2.76" fill="#fdc527"/><rect x="412.86" y="32.62" width="3.71" height="2.76" fill="#feb72d"/><rect x="416.27" y="32.62" width="3.71" height="2.76" fill="#6100a7"/><rect x="419.68" y="32.62" width="3.71" height="2.76" fill="#cd4a76"/><rect x="440.14" y="32.62" width="3.71" height="2.76" fill="#8707a6"/><rect x="443.56" y="32.62" width="3.71" height="2.76" fill="#d9586a"/><rect x="460.61" y="32.62" width="3.71" height="2.76" fill="#7d03a8"/><rect x="464.02" y="32.62" width="3.71" height="2.76" fill="#d6556d"/><rect x="467.43" y="32.62" width="3.71" height="2.76" fill="#d35171"/><rect x="470.84" y="32.62" width="3.71" height="2.76" fill="#ce4b75"/><rect x="474.25" y="32.62" width="3.71" height="2.76" fill="#e16462"/><rect x="477.66" y="32.62" width="3.71" height="2.76" fill="#d7566c"/><rect x="481.07" y="32.62" width="3.71" height="2.76" fill="#db5c68"/><rect x="484.48" y="32.62" width="3.71" height="2.76" fill="#e56a5d"/><rect x="487.89" y="32.62" width="3.71" height="2.76" fill="#e3685f"/><rect x="491.30" y="32.62" width="3.71" height="2.76" fill="#e76f5a"/><rect x="494.71" y="32.62" width="3.71" height="2.76" fill="#ef7c51"/><rect x="498.12" y="32.62" width="3.71" height="2.76" fill="#ef7e50"/><rect x="501.53" y="32.62" width="3.71" height="2.76" fill="#f0804e"/><rect x="504.94" y="32.62" width="3.71" height="2.76" fill="#f9973f"/><rect x="508.35" y="32.62" width="3.71" height="2.76" fill="#f79342"/><rect x="511.76" y="32.62" width="3.71" height="2.76" fill="#f89540"/><rect x="515.18" y="32.62" width="3.71" height="2.76" fill="#fa9e3b"/><rect x="518.59" y="32.62" width="3.71" height="2.76" fill="#f99a3e"/><rect x="522.00" y="32.62" width="3.71" height="2.76" fill="#f68d45"/><rect x="525.41" y="32.62" width="3.71" height="2.76" fill="#f48948"/><rect x="528.82" y="32.62" width="3.71" height="2.76" fill="#fa9b3d"/><rect x="532.23" y="32.62" width="3.71" height="2.76" fill="#fca934"/><rect x="535.64" y="32.62" width="3.71" height="2.76" fill="#fa9c3c"/><rect x="539.05" y="32.62" width="3.71" height="2.76" fill="#f9983e"/><rect x="542.46" y="32.62" width="3.71" height="2.76" fill="#fa9c3c"/><rect x="545.87" y="32.62" width="3.71" height="2.76" fill="#fca934"/><rect x="549.28" y="32.62" width="3.71" height="2.76" fill="#fa9b3d"/><rect x="552.69" y="32.62" width="3.71" height="2.76" fill="#f89540"/><rect x="556.10" y="32.62" width="3.71" height="2.76" fill="#fa9b3d"/><rect x="559.51" y="32.62" width="3.71" height="2.76" fill="#f79143"/><rect x="562.92" y="32.62" width="3.71" height="2.76" fill="#f79143"/><rect x="566.33" y="32.62" width="3.71" height="2.76" fill="#f79044"/><rect x="569.74" y="32.62" width="3.71" height="2.76" fill="#f79044"/><rect x="573.15" y="32.62" width="3.71" height="2.76" fill="#f79044"/><rect x="576.56" y="32.62" width="3.71" height="2.76" fill="#f89540"/><rect x="579.97" y="32.62" width="3.71" height="2.76" fill="#f9973f"/><rect x="583.38" y="32.62" width="3.71" height="2.76" fill="#fdab33"/><rect x="586.80" y="32.62" width="3.71" height="2.76" fill="#f9973f"/><rect x="590.21" y="32.62" width="3.71" height="2.76" fill="#f89540"/><rect x="593.62" y="32.62" width="3.71" height="2.76" fill="#f9983e"/><rect x="597.03" y="32.62" width="3.71" height="2.76" fill="#f79342"/><rect x="600.44" y="32.62" width="3.71" height="2.76" fill="#fca636"/><rect x="603.85" y="32.62" width="3.71" height="2.76" fill="#f79143"/><rect x="607.26" y="32.62" width="3.71" height="2.76" fill="#f79342"/><rect x="610.67" y="32.62" width="3.71" height="2.76" fill="#f99a3e"/><rect x="614.08" y="32.62" width="3.71" height="2.76" fill="#f89441"/><rect x="617.49" y="32.62" width="1.61" height="2.76" fill="#f3874a"/><rect x="261.00" y="35.08" width="2.10" height="2.76" fill="#febb2b"/><rect x="262.80" y="35.08" width="3.71" height="2.76" fill="#fdc627"/><rect x="266.21" y="35.08" width="3.71" height="2.76" fill="#fdc527"/><rect x="269.62" y="35.08" width="3.71" height="2.76" fill="#fdc328"/><rect x="273.03" y="35.08" width="3.71" height="2.76" fill="#fdc827"/><rect x="276.44" y="35.08" width="3.71" height="2.76" fill="#fcd025"/><rect x="279.85" y="35.08" width="3.71" height="2.76" fill="#fdc827"/><rect x="283.26" y="35.08" width="3.71" height="2.76" fill="#fccd25"/><rect x="286.67" y="35.08" width="3.71" height="2.76" fill="#fbd724"/><rect x="290.08" y="35.08" width="3.71" height="2.76" fill="#fdcb26"/><rect x="293.49" y="35.08" width="3.71" height="2.76" fill="#fcce25"/><rect x="296.90" y="35.08" width="3.71" height="2.76" fill="#fcd225"/><rect x="300.32" y="35.08" width="3.71" height="2.76" fill="#feb82c"/><rect x="303.73" y="35.08" width="3.71" height="2.76" fill="#fdc627"/><rect x="307.14" y="35.08" width="3.71" height="2.76" fill="#febe2a"/><rect x="310.55" y="35.08" width="3.71" height="2.76" fill="#fdcb26"/><rect x="313.96" y="35.08" width="3.71" height="2.76" fill="#fdc229"/><rect x="317.37" y="35.08" width="3.71" height="2.76" fill="#fad824"/><rect x="320.78" y="35.08" width="3.71" height="2.76" fill="#fdc627"/><rect x="324.19" y="35.08" width="3.71" height="2.76" fill="#febe2a"/><rect x="327.60" y="35.08" width="3.71" height="2.76" fill="#feba2c"/><rect x="331.01" y="35.08" width="3.71" height="2.76" fill="#fad824"/><rect x="334.42" y="35.08" width="3.71" height="2.76" fill="#fccd25"/><rect x="337.83" y="35.08" width="3.71" height="2.76" fill="#fbd324"/><rect x="341.24" y="35.08" width="3.71" height="2.76" fill="#fdae32"/><rect x="344.65" y="35.08" width="3.71" height="2.76" fill="#fdcb26"/><rect x="348.06" y="35.08" width="3.71" height="2.76" fill="#feba2c"/><rect x="351.47" y="35.08" width="3.71" height="2.76" fill="#feba2c"/><rect x="354.88" y="35.08" width="3.71" height="2.76" fill="#fdc328"/><rect x="358.29" y="35.08" width="3.71" height="2.76" fill="#fbd324"/><rect x="361.70" y="35.08" width="3.71" height="2.76" fill="#fdc627"/><rect x="365.11" y="35.08" width="3.71" height="2.76" fill="#fbd324"/><rect x="368.52" y="35.08" width="3.71" height="2.76" fill="#fdc627"/><rect x="371.94" y="35.08" width="3.71" height="2.76" fill="#fdc827"/><rect x="375.35" y="35.08" width="3.71" height="2.76" fill="#fdc328"/><rect x="378.76" y="35.08" width="3.71" height="2.76" fill="#fbd324"/><rect x="382.17" y="35.08" width="3.71" height="2.76" fill="#fdc328"/><rect x="385.58" y="35.08" width="3.71" height="2.76" fill="#fdc527"/><rect x="388.99" y="35.08" width="3.71" height="2.76" fill="#fbd524"/><rect x="392.40" y="35.08" width="3.71" height="2.76" fill="#f6e626"/><rect x="395.81" y="35.08" width="3.71" height="2.76" fill="#fdc527"/><rect x="399.22" y="35.08" width="3.71" height="2.76" fill="#fdc229"/><rect x="402.63" y="35.08" width="3.71" height="2.76" fill="#fdc827"/><rect x="406.04" y="35.08" width="3.71" height="2.76" fill="#fbd724"/><rect x="409.45" y="35.08" width="3.71" height="2.76" fill="#f1f426"/><rect x="412.86" y="35.08" width="3.71" height="2.76" fill="#f0f921"/><rect x="416.27" y="35.08" width="3.71" height="2.76" fill="#e66c5c"/><rect x="419.68" y="35.08" width="3.71" height="2.76" fill="#e66c5c"/><rect x="423.09" y="35.08" width="3.71" height="2.76" fill="#bb3488"/><rect x="433.32" y="35.08" width="3.71" height="2.76" fill="#b02991"/><rect x="436.73" y="35.08" width="3.71" height="2.76" fill="#6c00a8"/><rect x="440.14" y="35.08" width="3.71" height="2.76" fill="#f89441"/><rect x="443.56" y="35.08" width="3.71" height="2.76" fill="#feb72d"/><rect x="446.97" y="35.08" width="3.71" height="2.76" fill="#6400a7"/><rect x="450.38" y="35.08" width="3.71" height="2.76" fill="#9410a2"/><rect x="457.20" y="35.08" width="3.71" height="2.76" fill="#a62098"/><rect x="460.61" y="35.08" width="3.71" height="2.76" fill="#da5a6a"/><rect x="464.02" y="35.08" width="3.71" height="2.76" fill="#f68f44"/><rect x="467.43" y="35.08" width="3.71" height="2.76" fill="#f58c46"/><rect x="470.84" y="35.08" width="3.71" height="2.76" fill="#f68f44"/><rect x="474.25" y="35.08" width="3.71" height="2.76" fill="#f79342"/><rect x="477.66" y="35.08" width="3.71" height="2.76" fill="#f9973f"/><rect x="481.07" y="35.08" width="3.71" height="2.76" fill="#f99a3e"/><rect x="484.48" y="35.08" width="3.71" height="2.76" fill="#fca338"/><rect x="487.89" y="35.08" width="3.71" height="2.76" fill="#fca537"/><rect x="491.30" y="35.08" width="3.71" height="2.76" fill="#fba139"/><rect x="494.71" y="35.08" width="3.71" height="2.76" fill="#fdb22f"/><rect x="498.12" y="35.08" width="3.71" height="2.76" fill="#fca537"/><rect x="501.53" y="35.08" width="3.71" height="2.76" fill="#fdae32"/><rect x="504.94" y="35.08" width="3.71" height="2.76" fill="#fdaf31"/><rect x="508.35" y="35.08" width="3.71" height="2.76" fill="#feba2c"/><rect x="511.76" y="35.08" width="3.71" height="2.76" fill="#fdb130"/><rect x="515.18" y="35.08" width="3.71" height="2.76" fill="#fec029"/><rect x="518.59" y="35.08" width="3.71" height="2.76" fill="#fdb52e"/><rect x="522.00" y="35.08" width="3.71" height="2.76" fill="#febd2a"/><rect x="525.41" y="35.08" width="3.71" height="2.76" fill="#febb2b"/><rect x="528.82" y="35.08" width="3.71" height="2.76" fill="#fccd25"/><rect x="532.23" y="35.08" width="3.71" height="2.76" fill="#fcce25"/><rect x="535.64" y="35.08" width="3.71" height="2.76" fill="#fdcb26"/><rect x="539.05" y="35.08" width="3.71" height="2.76" fill="#fdb22f"/><rect x="542.46" y="35.08" width="3.71" height="2.76" fill="#fbd724"/><rect x="545.87" y="35.08" width="3.71" height="2.76" fill="#feba2c"/><rect x="549.28" y="35.08" width="3.71" height="2.76" fill="#febd2a"/><rect x="552.69" y="35.08" width="3.71" height="2.76" fill="#fdc328"/><rect x="556.10" y="35.08" width="3.71" height="2.76" fill="#fdc527"/><rect x="559.51" y="35.08" width="3.71" height="2.76" fill="#febb2b"/><rect x="562.92" y="35.08" width="3.71" height="2.76" fill="#fcce25"/><rect x="566.33" y="35.08" width="3.71" height="2.76" fill="#fdc827"/><rect x="569.74" y="35.08" width="3.71" height="2.76" fill="#fbd524"/><rect x="573.15" y="35.08" width="3.71" height="2.76" fill="#febb2b"/><rect x="576.56" y="35.08" width="3.71" height="2.76" fill="#fdc527"/><rect x="579.97" y="35.08" width="3.71" height="2.76" fill="#fdcb26"/><rect x="583.38" y="35.08" width="3.71" height="2.76" fill="#fdca26"/><rect x="586.80" y="35.08" width="3.71" height="2.76" fill="#fdc527"/><rect x="590.21" y="35.08" width="3.71" height="2.76" fill="#fdc328"/><rect x="593.62" y="35.08" width="3.71" height="2.76" fill="#fdb42f"/><rect x="597.03" y="35.08" width="3.71" height="2.76" fill="#fdc229"/><rect x="600.44" y="35.08" width="3.71" height="2.76" fill="#fdb52e"/><rect x="603.85" y="35.08" width="3.71" height="2.76" fill="#fdc627"/><rect x="607.26" y="35.08" width="3.71" height="2.76" fill="#fdca26"/><rect x="610.67" y="35.08" width="3.71" height="2.76" fill="#fdca26"/><rect x="614.08" y="35.08" width="3.71" height="2.76" fill="#febe2a"/><rect x="617.49" y="35.08" width="1.61" height="2.76" fill="#febd2a"/><rect x="261.00" y="37.54" width="2.10" height="2.76" fill="#f1f525"/><rect x="262.80" y="37.54" width="3.71" height="2.76" fill="#f0f724"/><rect x="266.21" y="37.54" width="3.71" height="2.76" fill="#f3ee27"/><rect x="269.62" y="37.54" width="3.71" height="2.76" fill="#f0f921"/><rect x="273.03" y="37.54" width="3.71" height="2.76" fill="#f0f921"/><rect x="276.44" y="37.54" width="3.71" height="2.76" fill="#f2f227"/><rect x="279.85" y="37.54" width="3.71" height="2.76" fill="#f0f921"/><rect x="283.26" y="37.54" width="3.71" height="2.76" fill="#f1f525"/><rect x="286.67" y="37.54" width="3.71" height="2.76" fill="#f9dd25"/><rect x="290.08" y="37.54" width="3.71" height="2.76" fill="#f6e826"/><rect x="293.49" y="37.54" width="3.71" height="2.76" fill="#f0f921"/><rect x="296.90" y="37.54" width="3.71" height="2.76" fill="#f1f426"/><rect x="300.32" y="37.54" width="3.71" height="2.76" fill="#f0f921"/><rect x="303.73" y="37.54" width="3.71" height="2.76" fill="#f1f426"/><rect x="307.14" y="37.54" width="3.71" height="2.76" fill="#f0f921"/><rect x="310.55" y="37.54" width="3.71" height="2.76" fill="#f0f921"/><rect x="313.96" y="37.54" width="3.71" height="2.76" fill="#f0f921"/><rect x="317.37" y="37.54" width="3.71" height="2.76" fill="#f0f921"/><rect x="320.78" y="37.54" width="3.71" height="2.76" fill="#f4ed27"/><rect x="324.19" y="37.54" width="3.71" height="2.76" fill="#f1f525"/><rect x="327.60" y="37.54" width="3.71" height="2.76" fill="#f4ed27"/><rect x="331.01" y="37.54" width="3.71" height="2.76" fill="#f0f921"/><rect x="334.42" y="37.54" width="3.71" height="2.76" fill="#f0f921"/><rect x="337.83" y="37.54" width="3.71" height="2.76" fill="#f1f525"/><rect x="341.24" y="37.54" width="3.71" height="2.76" fill="#f0f921"/><rect x="344.65" y="37.54" width="3.71" height="2.76" fill="#f0f921"/><rect x="348.06" y="37.54" width="3.71" height="2.76" fill="#f3f027"/><rect x="351.47" y="37.54" width="3.71" height="2.76" fill="#f1f525"/><rect x="354.88" y="37.54" width="3.71" height="2.76" fill="#f3ee27"/><rect x="358.29" y="37.54" width="3.71" height="2.76" fill="#f3f027"/><rect x="361.70" y="37.54" width="3.71" height="2.76" fill="#f0f921"/><rect x="365.11" y="37.54" width="3.71" height="2.76" fill="#f3f027"/><rect x="368.52" y="37.54" width="3.71" height="2.76" fill="#f1f426"/><rect x="371.94" y="37.54" width="3.71" height="2.76" fill="#f0f921"/><rect x="375.35" y="37.54" width="3.71" height="2.76" fill="#f5e926"/><rect x="378.76" y="37.54" width="3.71" height="2.76" fill="#f0f921"/><rect x="382.17" y="37.54" width="3.71" height="2.76" fill="#f2f227"/><rect x="385.58" y="37.54" width="3.71" height="2.76" fill="#f1f426"/><rect x="388.99" y="37.54" width="3.71" height="2.76" fill="#f0f921"/><rect x="392.40" y="37.54" width="3.71" height="2.76" fill="#f0f921"/><rect x="395.81" y="37.54" width="3.71" height="2.76" fill="#f3f027"/><rect x="399.22" y="37.54" width="3.71" height="2.76" fill="#f1f525"/><rect x="402.63" y="37.54" width="3.71" height="2.76" fill="#f2f227"/><rect x="406.04" y="37.54" width="3.71" height="2.76" fill="#f0f921"/><rect x="409.45" y="37.54" width="3.71" height="2.76" fill="#f0f921"/><rect x="412.86" y="37.54" width="3.71" height="2.76" fill="#f6e626"/><rect x="416.27" y="37.54" width="3.71" height="2.76" fill="#fba139"/><rect x="419.68" y="37.54" width="3.71" height="2.76" fill="#f68d45"/><rect x="423.09" y="37.54" width="3.71" height="2.76" fill="#bd3786"/><rect x="426.50" y="37.54" width="3.71" height="2.76" fill="#3c049b"/><rect x="429.91" y="37.54" width="3.71" height="2.76" fill="#5e01a6"/><rect x="433.32" y="37.54" width="3.71" height="2.76" fill="#cb4679"/><rect x="436.73" y="37.54" width="3.71" height="2.76" fill="#ca457a"/><rect x="440.14" y="37.54" width="3.71" height="2.76" fill="#fcd025"/><rect x="443.56" y="37.54" width="3.71" height="2.76" fill="#f48948"/><rect x="446.97" y="37.54" width="3.71" height="2.76" fill="#7d03a8"/><rect x="450.38" y="37.54" width="3.71" height="2.76" fill="#9c179e"/><rect x="453.79" y="37.54" width="3.71" height="2.76" fill="#c7427c"/><rect x="457.20" y="37.54" width="3.71" height="2.76" fill="#f07f4f"/><rect x="460.61" y="37.54" width="3.71" height="2.76" fill="#f79143"/><rect x="464.02" y="37.54" width="3.71" height="2.76" fill="#fdae32"/><rect x="467.43" y="37.54" width="3.71" height="2.76" fill="#fdc527"/><rect x="470.84" y="37.54" width="3.71" height="2.76" fill="#fdb42f"/><rect x="474.25" y="37.54" width="3.71" height="2.76" fill="#fdb42f"/><rect x="477.66" y="37.54" width="3.71" height="2.76" fill="#fcce25"/><rect x="481.07" y="37.54" width="3.71" height="2.76" fill="#fcd025"/><rect x="484.48" y="37.54" width="3.71" height="2.76" fill="#fbd724"/><rect x="487.89" y="37.54" width="3.71" height="2.76" fill="#fcce25"/><rect x="491.30" y="37.54" width="3.71" height="2.76" fill="#fbd324"/><rect x="494.71" y="37.54" width="3.71" height="2.76" fill="#f6e826"/><rect x="498.12" y="37.54" width="3.71" height="2.76" fill="#f7e425"/><rect x="501.53" y="37.54" width="3.71" height="2.76" fill="#f7e425"/><rect x="504.94" y="37.54" width="3.71" height="2.76" fill="#f2f227"/><rect x="508.35" y="37.54" width="3.71" height="2.76" fill="#f0f921"/><rect x="511.76" y="37.54" width="3.71" height="2.76" fill="#f0f921"/><rect x="515.18" y="37.54" width="3.71" height="2.76" fill="#f0f921"/><rect x="518.59" y="37.54" width="3.71" height="2.76" fill="#f0f921"/><rect x="522.00" y="37.54" width="3.71" height="2.76" fill="#f3ee27"/><rect x="525.41" y="37.54" width="3.71" height="2.76" fill="#f5eb27"/><rect x="528.82" y="37.54" width="3.71" height="2.76" fill="#f0f921"/><rect x="532.23" y="37.54" width="3.71" height="2.76" fill="#f0f921"/><rect x="535.64" y="37.54" width="3.71" height="2.76" fill="#f3ee27"/><rect x="539.05" y="37.54" width="3.71" height="2.76" fill="#f4ed27"/><rect x="542.46" y="37.54" width="3.71" height="2.76" fill="#f0f921"/><rect x="545.87" y="37.54" width="3.71" height="2.76" fill="#f0f921"/><rect x="549.28" y="37.54" width="3.71" height="2.76" fill="#f0f921"/><rect x="552.69" y="37.54" width="3.71" height="2.76" fill="#f3ee27"/><rect x="556.10" y="37.54" width="3.71" height="2.76" fill="#f3ee27"/><rect x="559.51" y="37.54" width="3.71" height="2.76" fill="#f7e225"/><rect x="562.92" y="37.54" width="3.71" height="2.76" fill="#f5eb27"/><rect x="566.33" y="37.54" width="3.71" height="2.76" fill="#f0f921"/><rect x="569.74" y="37.54" width="3.71" height="2.76" fill="#f0f921"/><rect x="573.15" y="37.54" width="3.71" height="2.76" fill="#f0f921"/><rect x="576.56" y="37.54" width="3.71" height="2.76" fill="#f2f227"/><rect x="579.97" y="37.54" width="3.71" height="2.76" fill="#f0f921"/><rect x="583.38" y="37.54" width="3.71" height="2.76" fill="#f0f921"/><rect x="586.80" y="37.54" width="3.71" height="2.76" fill="#f0f921"/><rect x="590.21" y="37.54" width="3.71" height="2.76" fill="#f1f426"/><rect x="593.62" y="37.54" width="3.71" height="2.76" fill="#f0f921"/><rect x="597.03" y="37.54" width="3.71" height="2.76" fill="#f0f921"/><rect x="600.44" y="37.54" width="3.71" height="2.76" fill="#f4ed27"/><rect x="603.85" y="37.54" width="3.71" height="2.76" fill="#f4ed27"/><rect x="607.26" y="37.54" width="3.71" height="2.76" fill="#f4ed27"/><rect x="610.67" y="37.54" width="3.71" height="2.76" fill="#f3f027"/><rect x="614.08" y="37.54" width="3.71" height="2.76" fill="#f0f921"/><rect x="617.49" y="37.54" width="1.61" height="2.76" fill="#f0f921"/><rect x="261.00" y="40.00" width="2.10" height="2.76" fill="#f6e626"/><rect x="262.80" y="40.00" width="3.71" height="2.76" fill="#f0f921"/><rect x="266.21" y="40.00" width="3.71" height="2.76" fill="#f0f921"/><rect x="269.62" y="40.00" width="3.71" height="2.76" fill="#f3ee27"/><rect x="273.03" y="40.00" width="3.71" height="2.76" fill="#f0f921"/><rect x="276.44" y="40.00" width="3.71" height="2.76" fill="#f0f921"/><rect x="279.85" y="40.00" width="3.71" height="2.76" fill="#f3ee27"/><rect x="283.26" y="40.00" width="3.71" height="2.76" fill="#f4ed27"/><rect x="286.67" y="40.00" width="3.71" height="2.76" fill="#f0f921"/><rect x="290.08" y="40.00" width="3.71" height="2.76" fill="#f0f921"/><rect x="293.49" y="40.00" width="3.71" height="2.76" fill="#f0f921"/><rect x="296.90" y="40.00" width="3.71" height="2.76" fill="#f1f525"/><rect x="300.32" y="40.00" width="3.71" height="2.76" fill="#f0f921"/><rect x="303.73" y="40.00" width="3.71" height="2.76" fill="#f5e926"/><rect x="307.14" y="40.00" width="3.71" height="2.76" fill="#f0f921"/><rect x="310.55" y="40.00" width="3.71" height="2.76" fill="#f0f921"/><rect x="313.96" y="40.00" width="3.71" height="2.76" fill="#f1f525"/><rect x="317.37" y="40.00" width="3.71" height="2.76" fill="#f0f921"/><rect x="320.78" y="40.00" width="3.71" height="2.76" fill="#f0f921"/><rect x="324.19" y="40.00" width="3.71" height="2.76" fill="#f0f921"/><rect x="327.60" y="40.00" width="3.71" height="2.76" fill="#f0f921"/><rect x="331.01" y="40.00" width="3.71" height="2.76" fill="#f2f227"/><rect x="334.42" y="40.00" width="3.71" height="2.76" fill="#f0f921"/><rect x="337.83" y="40.00" width="3.71" height="2.76" fill="#f3f027"/><rect x="341.24" y="40.00" width="3.71" height="2.76" fill="#f0f921"/><rect x="344.65" y="40.00" width="3.71" height="2.76" fill="#f0f921"/><rect x="348.06" y="40.00" width="3.71" height="2.76" fill="#f0f921"/><rect x="351.47" y="40.00" width="3.71" height="2.76" fill="#f0f921"/><rect x="354.88" y="40.00" width="3.71" height="2.76" fill="#f5eb27"/><rect x="358.29" y="40.00" width="3.71" height="2.76" fill="#f0f921"/><rect x="361.70" y="40.00" width="3.71" height="2.76" fill="#f0f921"/><rect x="365.11" y="40.00" width="3.71" height="2.76" fill="#f0f921"/><rect x="368.52" y="40.00" width="3.71" height="2.76" fill="#f1f525"/><rect x="371.94" y="40.00" width="3.71" height="2.76" fill="#f6e826"/><rect x="375.35" y="40.00" width="3.71" height="2.76" fill="#f0f724"/><rect x="378.76" y="40.00" width="3.71" height="2.76" fill="#f0f921"/><rect x="382.17" y="40.00" width="3.71" height="2.76" fill="#f3ee27"/><rect x="385.58" y="40.00" width="3.71" height="2.76" fill="#f0f921"/><rect x="388.99" y="40.00" width="3.71" height="2.76" fill="#f1f426"/><rect x="392.40" y="40.00" width="3.71" height="2.76" fill="#f1f426"/><rect x="395.81" y="40.00" width="3.71" height="2.76" fill="#f0f921"/><rect x="399.22" y="40.00" width="3.71" height="2.76" fill="#f8df25"/><rect x="402.63" y="40.00" width="3.71" height="2.76" fill="#f9dc24"/><rect x="406.04" y="40.00" width="3.71" height="2.76" fill="#fbd524"/><rect x="409.45" y="40.00" width="3.71" height="2.76" fill="#fbd524"/><rect x="412.86" y="40.00" width="3.71" height="2.76" fill="#feba2c"/><rect x="416.27" y="40.00" width="3.71" height="2.76" fill="#fcd025"/><rect x="419.68" y="40.00" width="3.71" height="2.76" fill="#fdc527"/><rect x="423.09" y="40.00" width="3.71" height="2.76" fill="#cf4c74"/><rect x="426.50" y="40.00" width="3.71" height="2.76" fill="#d45270"/><rect x="429.91" y="40.00" width="3.71" height="2.76" fill="#c6417d"/><rect x="433.32" y="40.00" width="3.71" height="2.76" fill="#c5407e"/><rect x="436.73" y="40.00" width="3.71" height="2.76" fill="#ea7457"/><rect x="440.14" y="40.00" width="3.71" height="2.76" fill="#fba238"/><rect x="443.56" y="40.00" width="3.71" height="2.76" fill="#e76f5a"/><rect x="446.97" y="40.00" width="3.71" height="2.76" fill="#8d0ba5"/><rect x="450.38" y="40.00" width="3.71" height="2.76" fill="#b02991"/><rect x="453.79" y="40.00" width="3.71" height="2.76" fill="#ee7b51"/><rect x="457.20" y="40.00" width="3.71" height="2.76" fill="#fca338"/><rect x="460.61" y="40.00" width="3.71" height="2.76" fill="#fdcb26"/><rect x="464.02" y="40.00" width="3.71" height="2.76" fill="#f2f227"/><rect x="467.43" y="40.00" width="3.71" height="2.76" fill="#f8e125"/><rect x="470.84" y="40.00" width="3.71" height="2.76" fill="#f2f227"/><rect x="474.25" y="40.00" width="3.71" height="2.76" fill="#f6e826"/><rect x="477.66" y="40.00" width="3.71" height="2.76" fill="#f6e826"/><rect x="481.07" y="40.00" width="3.71" height="2.76" fill="#f3ee27"/><rect x="484.48" y="40.00" width="3.71" height="2.76" fill="#f0f921"/><rect x="487.89" y="40.00" width="3.71" height="2.76" fill="#f0f921"/><rect x="491.30" y="40.00" width="3.71" height="2.76" fill="#f2f227"/><rect x="494.71" y="40.00" width="3.71" height="2.76" fill="#f0f724"/><rect x="498.12" y="40.00" width="3.71" height="2.76" fill="#f1f525"/><rect x="501.53" y="40.00" width="3.71" height="2.76" fill="#f0f921"/><rect x="504.94" y="40.00" width="3.71" height="2.76" fill="#f0f921"/><rect x="508.35" y="40.00" width="3.71" height="2.76" fill="#f0f921"/><rect x="511.76" y="40.00" width="3.71" height="2.76" fill="#f0f921"/><rect x="515.18" y="40.00" width="3.71" height="2.76" fill="#f0f921"/><rect x="518.59" y="40.00" width="3.71" height="2.76" fill="#f0f921"/><rect x="522.00" y="40.00" width="3.71" height="2.76" fill="#f0f921"/><rect x="525.41" y="40.00" width="3.71" height="2.76" fill="#f0f921"/><rect x="528.82" y="40.00" width="3.71" height="2.76" fill="#f0f921"/><rect x="532.23" y="40.00" width="3.71" height="2.76" fill="#f0f724"/><rect x="535.64" y="40.00" width="3.71" height="2.76" fill="#f0f921"/><rect x="539.05" y="40.00" width="3.71" height="2.76" fill="#f1f426"/><rect x="542.46" y="40.00" width="3.71" height="2.76" fill="#f1f426"/><rect x="545.87" y="40.00" width="3.71" height="2.76" fill="#f2f227"/><rect x="549.28" y="40.00" width="3.71" height="2.76" fill="#f7e425"/><rect x="552.69" y="40.00" width="3.71" height="2.76" fill="#f0f921"/><rect x="556.10" y="40.00" width="3.71" height="2.76" fill="#f3ee27"/><rect x="559.51" y="40.00" width="3.71" height="2.76" fill="#f0f921"/><rect x="562.92" y="40.00" width="3.71" height="2.76" fill="#f1f525"/><rect x="566.33" y="40.00" width="3.71" height="2.76" fill="#f4ed27"/><rect x="569.74" y="40.00" width="3.71" height="2.76" fill="#f3ee27"/><rect x="573.15" y="40.00" width="3.71" height="2.76" fill="#f0f921"/><rect x="576.56" y="40.00" width="3.71" height="2.76" fill="#f4ed27"/><rect x="579.97" y="40.00" width="3.71" height="2.76" fill="#f1f426"/><rect x="583.38" y="40.00" width="3.71" height="2.76" fill="#f4ed27"/><rect x="586.80" y="40.00" width="3.71" height="2.76" fill="#f0f921"/><rect x="590.21" y="40.00" width="3.71" height="2.76" fill="#f0f921"/><rect x="593.62" y="40.00" width="3.71" height="2.76" fill="#f0f921"/><rect x="597.03" y="40.00" width="3.71" height="2.76" fill="#f0f921"/><rect x="600.44" y="40.00" width="3.71" height="2.76" fill="#f2f227"/><rect x="603.85" y="40.00" width="3.71" height="2.76" fill="#f0f921"/><rect x="607.26" y="40.00" width="3.71" height="2.76" fill="#f0f921"/><rect x="610.67" y="40.00" width="3.71" height="2.76" fill="#f0f921"/><rect x="614.08" y="40.00" width="3.71" height="2.76" fill="#f0f921"/><rect x="617.49" y="40.00" width="1.61" height="2.76" fill="#f0f921"/><rect x="261.00" y="42.46" width="2.10" height="2.76" fill="#fec029"/><rect x="262.80" y="42.46" width="3.71" height="2.76" fill="#fdc627"/><rect x="266.21" y="42.46" width="3.71" height="2.76" fill="#fdc827"/><rect x="269.62" y="42.46" width="3.71" height="2.76" fill="#fbd524"/><rect x="273.03" y="42.46" width="3.71" height="2.76" fill="#fcd025"/><rect x="276.44" y="42.46" width="3.71" height="2.76" fill="#fada24"/><rect x="279.85" y="42.46" width="3.71" height="2.76" fill="#fccd25"/><rect x="283.26" y="42.46" width="3.71" height="2.76" fill="#fcd025"/><rect x="286.67" y="42.46" width="3.71" height="2.76" fill="#fdc229"/><rect x="290.08" y="42.46" width="3.71" height="2.76" fill="#fcd025"/><rect x="293.49" y="42.46" width="3.71" height="2.76" fill="#fbd524"/><rect x="296.90" y="42.46" width="3.71" height="2.76" fill="#fdcb26"/><rect x="300.32" y="42.46" width="3.71" height="2.76" fill="#fdcb26"/><rect x="303.73" y="42.46" width="3.71" height="2.76" fill="#fdcb26"/><rect x="307.14" y="42.46" width="3.71" height="2.76" fill="#fada24"/><rect x="310.55" y="42.46" width="3.71" height="2.76" fill="#fcd025"/><rect x="313.96" y="42.46" width="3.71" height="2.76" fill="#fec029"/><rect x="317.37" y="42.46" width="3.71" height="2.76" fill="#fdc328"/><rect x="320.78" y="42.46" width="3.71" height="2.76" fill="#f6e826"/><rect x="324.19" y="42.46" width="3.71" height="2.76" fill="#fcd225"/><rect x="327.60" y="42.46" width="3.71" height="2.76" fill="#fcce25"/><rect x="331.01" y="42.46" width="3.71" height="2.76" fill="#fdc328"/><rect x="334.42" y="42.46" width="3.71" height="2.76" fill="#fdca26"/><rect x="337.83" y="42.46" width="3.71" height="2.76" fill="#fcce25"/><rect x="341.24" y="42.46" width="3.71" height="2.76" fill="#fdc229"/><rect x="344.65" y="42.46" width="3.71" height="2.76" fill="#fdc627"/><rect x="348.06" y="42.46" width="3.71" height="2.76" fill="#fbd724"/><rect x="351.47" y="42.46" width="3.71" height="2.76" fill="#fdcb26"/><rect x="354.88" y="42.46" width="3.71" height="2.76" fill="#fdc627"/><rect x="358.29" y="42.46" width="3.71" height="2.76" fill="#febe2a"/><rect x="361.70" y="42.46" width="3.71" height="2.76" fill="#fdcb26"/><rect x="365.11" y="42.46" width="3.71" height="2.76" fill="#fcd025"/><rect x="368.52" y="42.46" width="3.71" height="2.76" fill="#fdc328"/><rect x="371.94" y="42.46" width="3.71" height="2.76" fill="#febd2a"/><rect x="375.35" y="42.46" width="3.71" height="2.76" fill="#fbd324"/><rect x="378.76" y="42.46" width="3.71" height="2.76" fill="#fcd025"/><rect x="382.17" y="42.46" width="3.71" height="2.76" fill="#fcd025"/><rect x="385.58" y="42.46" width="3.71" height="2.76" fill="#febe2a"/><rect x="388.99" y="42.46" width="3.71" height="2.76" fill="#fbd324"/><rect x="392.40" y="42.46" width="3.71" height="2.76" fill="#fdc229"/><rect x="395.81" y="42.46" width="3.71" height="2.76" fill="#f6e626"/><rect x="399.22" y="42.46" width="3.71" height="2.76" fill="#fdb52e"/><rect x="402.63" y="42.46" width="3.71" height="2.76" fill="#fdae32"/><rect x="406.04" y="42.46" width="3.71" height="2.76" fill="#fb9f3a"/><rect x="409.45" y="42.46" width="3.71" height="2.76" fill="#fca537"/><rect x="412.86" y="42.46" width="3.71" height="2.76" fill="#fca537"/><rect x="416.27" y="42.46" width="3.71" height="2.76" fill="#fdc527"/><rect x="419.68" y="42.46" width="3.71" height="2.76" fill="#f8df25"/><rect x="423.09" y="42.46" width="3.71" height="2.76" fill="#db5c68"/><rect x="426.50" y="42.46" width="3.71" height="2.76" fill="#fca338"/><rect x="429.91" y="42.46" width="3.71" height="2.76" fill="#f79044"/><rect x="433.32" y="42.46" width="3.71" height="2.76" fill="#dc5d67"/><rect x="436.73" y="42.46" width="3.71" height="2.76" fill="#fdb130"/><rect x="440.14" y="42.46" width="3.71" height="2.76" fill="#f0804e"/><rect x="443.56" y="42.46" width="3.71" height="2.76" fill="#ca457a"/><rect x="446.97" y="42.46" width="3.71" height="2.76" fill="#7e03a8"/><rect x="450.38" y="42.46" width="3.71" height="2.76" fill="#b52f8c"/><rect x="453.79" y="42.46" width="3.71" height="2.76" fill="#fca934"/><rect x="457.20" y="42.46" width="3.71" height="2.76" fill="#fdc627"/><rect x="460.61" y="42.46" width="3.71" height="2.76" fill="#fbd524"/><rect x="464.02" y="42.46" width="3.71" height="2.76" fill="#f5eb27"/><rect x="467.43" y="42.46" width="3.71" height="2.76" fill="#f9dd25"/><rect x="470.84" y="42.46" width="3.71" height="2.76" fill="#fad824"/><rect x="474.25" y="42.46" width="3.71" height="2.76" fill="#fdc827"/><rect x="477.66" y="42.46" width="3.71" height="2.76" fill="#fdcb26"/><rect x="481.07" y="42.46" width="3.71" height="2.76" fill="#f7e225"/><rect x="484.48" y="42.46" width="3.71" height="2.76" fill="#f9dc24"/><rect x="487.89" y="42.46" width="3.71" height="2.76" fill="#fbd724"/><rect x="491.30" y="42.46" width="3.71" height="2.76" fill="#fbd324"/><rect x="494.71" y="42.46" width="3.71" height="2.76" fill="#fada24"/><rect x="498.12" y="42.46" width="3.71" height="2.76" fill="#f9dc24"/><rect x="501.53" y="42.46" width="3.71" height="2.76" fill="#fdc627"/><rect x="504.94" y="42.46" width="3.71" height="2.76" fill="#fbd524"/><rect x="508.35" y="42.46" width="3.71" height="2.76" fill="#fad824"/><rect x="511.76" y="42.46" width="3.71" height="2.76" fill="#fbd324"/><rect x="515.18" y="42.46" width="3.71" height="2.76" fill="#fbd524"/><rect x="518.59" y="42.46" width="3.71" height="2.76" fill="#f8df25"/><rect x="522.00" y="42.46" width="3.71" height="2.76" fill="#fada24"/><rect x="525.41" y="42.46" width="3.71" height="2.76" fill="#fada24"/><rect x="528.82" y="42.46" width="3.71" height="2.76" fill="#fccd25"/><rect x="532.23" y="42.46" width="3.71" height="2.76" fill="#fbd324"/><rect x="535.64" y="42.46" width="3.71" height="2.76" fill="#fcce25"/><rect x="539.05" y="42.46" width="3.71" height="2.76" fill="#fbd324"/><rect x="542.46" y="42.46" width="3.71" height="2.76" fill="#fdcb26"/><rect x="545.87" y="42.46" width="3.71" height="2.76" fill="#fada24"/><rect x="549.28" y="42.46" width="3.71" height="2.76" fill="#fcd225"/><rect x="552.69" y="42.46" width="3.71" height="2.76" fill="#fcce25"/><rect x="556.10" y="42.46" width="3.71" height="2.76" fill="#fcd025"/><rect x="559.51" y="42.46" width="3.71" height="2.76" fill="#f8df25"/><rect x="562.92" y="42.46" width="3.71" height="2.76" fill="#fdca26"/><rect x="566.33" y="42.46" width="3.71" height="2.76" fill="#fcd025"/><rect x="569.74" y="42.46" width="3.71" height="2.76" fill="#f8df25"/><rect x="573.15" y="42.46" width="3.71" height="2.76" fill="#fbd524"/><rect x="576.56" y="42.46" width="3.71" height="2.76" fill="#fccd25"/><rect x="579.97" y="42.46" width="3.71" height="2.76" fill="#fccd25"/><rect x="583.38" y="42.46" width="3.71" height="2.76" fill="#fcd225"/><rect x="586.80" y="42.46" width="3.71" height="2.76" fill="#f5e926"/><rect x="590.21" y="42.46" width="3.71" height="2.76" fill="#f9dc24"/><rect x="593.62" y="42.46" width="3.71" height="2.76" fill="#fcd025"/><rect x="597.03" y="42.46" width="3.71" height="2.76" fill="#f7e225"/><rect x="600.44" y="42.46" width="3.71" height="2.76" fill="#f9dc24"/><rect x="603.85" y="42.46" width="3.71" height="2.76" fill="#f9dd25"/><rect x="607.26" y="42.46" width="3.71" height="2.76" fill="#fcce25"/><rect x="610.67" y="42.46" width="3.71" height="2.76" fill="#fdcb26"/><rect x="614.08" y="42.46" width="3.71" height="2.76" fill="#fbd324"/><rect x="617.49" y="42.46" width="1.61" height="2.76" fill="#fbd324"/><rect x="261.00" y="44.92" width="2.10" height="2.76" fill="#f89441"/><rect x="262.80" y="44.92" width="3.71" height="2.76" fill="#fba139"/><rect x="266.21" y="44.92" width="3.71" height="2.76" fill="#fca537"/><rect x="269.62" y="44.92" width="3.71" height="2.76" fill="#fca934"/><rect x="273.03" y="44.92" width="3.71" height="2.76" fill="#fca636"/><rect x="276.44" y="44.92" width="3.71" height="2.76" fill="#fba238"/><rect x="279.85" y="44.92" width="3.71" height="2.76" fill="#f99a3e"/><rect x="283.26" y="44.92" width="3.71" height="2.76" fill="#fa9c3c"/><rect x="286.67" y="44.92" width="3.71" height="2.76" fill="#fdae32"/><rect x="290.08" y="44.92" width="3.71" height="2.76" fill="#fca835"/><rect x="293.49" y="44.92" width="3.71" height="2.76" fill="#fca636"/><rect x="296.90" y="44.92" width="3.71" height="2.76" fill="#fca636"/><rect x="300.32" y="44.92" width="3.71" height="2.76" fill="#fca537"/><rect x="303.73" y="44.92" width="3.71" height="2.76" fill="#fa9b3d"/><rect x="307.14" y="44.92" width="3.71" height="2.76" fill="#fba238"/><rect x="310.55" y="44.92" width="3.71" height="2.76" fill="#fb9f3a"/><rect x="313.96" y="44.92" width="3.71" height="2.76" fill="#fca537"/><rect x="317.37" y="44.92" width="3.71" height="2.76" fill="#fca934"/><rect x="320.78" y="44.92" width="3.71" height="2.76" fill="#fa9c3c"/><rect x="324.19" y="44.92" width="3.71" height="2.76" fill="#fdaf31"/><rect x="327.60" y="44.92" width="3.71" height="2.76" fill="#f9983e"/><rect x="331.01" y="44.92" width="3.71" height="2.76" fill="#fca636"/><rect x="334.42" y="44.92" width="3.71" height="2.76" fill="#fa9c3c"/><rect x="337.83" y="44.92" width="3.71" height="2.76" fill="#f89441"/><rect x="341.24" y="44.92" width="3.71" height="2.76" fill="#fca636"/><rect x="344.65" y="44.92" width="3.71" height="2.76" fill="#fca934"/><rect x="348.06" y="44.92" width="3.71" height="2.76" fill="#fca636"/><rect x="351.47" y="44.92" width="3.71" height="2.76" fill="#fca934"/><rect x="354.88" y="44.92" width="3.71" height="2.76" fill="#fca537"/><rect x="358.29" y="44.92" width="3.71" height="2.76" fill="#f9983e"/><rect x="361.70" y="44.92" width="3.71" height="2.76" fill="#feb72d"/><rect x="365.11" y="44.92" width="3.71" height="2.76" fill="#fdb22f"/><rect x="368.52" y="44.92" width="3.71" height="2.76" fill="#fca835"/><rect x="371.94" y="44.92" width="3.71" height="2.76" fill="#fa9c3c"/><rect x="375.35" y="44.92" width="3.71" height="2.76" fill="#fdb42f"/><rect x="378.76" y="44.92" width="3.71" height="2.76" fill="#fa9b3d"/><rect x="382.17" y="44.92" width="3.71" height="2.76" fill="#fba238"/><rect x="385.58" y="44.92" width="3.71" height="2.76" fill="#f99a3e"/><rect x="388.99" y="44.92" width="3.71" height="2.76" fill="#fa9e3b"/><rect x="392.40" y="44.92" width="3.71" height="2.76" fill="#f3874a"/><rect x="395.81" y="44.92" width="3.71" height="2.76" fill="#fca338"/><rect x="399.22" y="44.92" width="3.71" height="2.76" fill="#f58b47"/><rect x="402.63" y="44.92" width="3.71" height="2.76" fill="#f68d45"/><rect x="406.04" y="44.92" width="3.71" height="2.76" fill="#f0804e"/><rect x="409.45" y="44.92" width="3.71" height="2.76" fill="#f2844b"/><rect x="412.86" y="44.92" width="3.71" height="2.76" fill="#f48948"/><rect x="416.27" y="44.92" width="3.71" height="2.76" fill="#fba139"/><rect x="419.68" y="44.92" width="3.71" height="2.76" fill="#fdae32"/><rect x="423.09" y="44.92" width="3.71" height="2.76" fill="#cc4778"/><rect x="426.50" y="44.92" width="3.71" height="2.76" fill="#fad824"/><rect x="429.91" y="44.92" width="3.71" height="2.76" fill="#fdca26"/><rect x="433.32" y="44.92" width="3.71" height="2.76" fill="#cb4679"/><rect x="436.73" y="44.92" width="3.71" height="2.76" fill="#f89540"/><rect x="440.14" y="44.92" width="3.71" height="2.76" fill="#db5c68"/><rect x="443.56" y="44.92" width="3.71" height="2.76" fill="#8f0da4"/><rect x="446.97" y="44.92" width="3.71" height="2.76" fill="#8004a8"/><rect x="450.38" y="44.92" width="3.71" height="2.76" fill="#b7318a"/><rect x="453.79" y="44.92" width="3.71" height="2.76" fill="#f3854b"/><rect x="457.20" y="44.92" width="3.71" height="2.76" fill="#fca636"/><rect x="460.61" y="44.92" width="3.71" height="2.76" fill="#fca934"/><rect x="464.02" y="44.92" width="3.71" height="2.76" fill="#fba139"/><rect x="467.43" y="44.92" width="3.71" height="2.76" fill="#fb9f3a"/><rect x="470.84" y="44.92" width="3.71" height="2.76" fill="#fba238"/><rect x="474.25" y="44.92" width="3.71" height="2.76" fill="#fba238"/><rect x="477.66" y="44.92" width="3.71" height="2.76" fill="#fdb52e"/><rect x="481.07" y="44.92" width="3.71" height="2.76" fill="#fdb22f"/><rect x="484.48" y="44.92" width="3.71" height="2.76" fill="#fdb22f"/><rect x="487.89" y="44.92" width="3.71" height="2.76" fill="#fec029"/><rect x="491.30" y="44.92" width="3.71" height="2.76" fill="#fdab33"/><rect x="494.71" y="44.92" width="3.71" height="2.76" fill="#fdb130"/><rect x="498.12" y="44.92" width="3.71" height="2.76" fill="#fca636"/><rect x="501.53" y="44.92" width="3.71" height="2.76" fill="#feba2c"/><rect x="504.94" y="44.92" width="3.71" height="2.76" fill="#feb72d"/><rect x="508.35" y="44.92" width="3.71" height="2.76" fill="#fdb42f"/><rect x="511.76" y="44.92" width="3.71" height="2.76" fill="#fa9e3b"/><rect x="515.18" y="44.92" width="3.71" height="2.76" fill="#fca636"/><rect x="518.59" y="44.92" width="3.71" height="2.76" fill="#feb82c"/><rect x="522.00" y="44.92" width="3.71" height="2.76" fill="#fdac33"/><rect x="525.41" y="44.92" width="3.71" height="2.76" fill="#fdc827"/><rect x="528.82" y="44.92" width="3.71" height="2.76" fill="#fca636"/><rect x="532.23" y="44.92" width="3.71" height="2.76" fill="#fdb22f"/><rect x="535.64" y="44.92" width="3.71" height="2.76" fill="#fa9e3b"/><rect x="539.05" y="44.92" width="3.71" height="2.76" fill="#fdaf31"/><rect x="542.46" y="44.92" width="3.71" height="2.76" fill="#febd2a"/><rect x="545.87" y="44.92" width="3.71" height="2.76" fill="#fdb52e"/><rect x="549.28" y="44.92" width="3.71" height="2.76" fill="#feb72d"/><rect x="552.69" y="44.92" width="3.71" height="2.76" fill="#fca338"/><rect x="556.10" y="44.92" width="3.71" height="2.76" fill="#fdab33"/><rect x="559.51" y="44.92" width="3.71" height="2.76" fill="#fdaf31"/><rect x="562.92" y="44.92" width="3.71" height="2.76" fill="#fdab33"/><rect x="566.33" y="44.92" width="3.71" height="2.76" fill="#febd2a"/><rect x="569.74" y="44.92" width="3.71" height="2.76" fill="#feb72d"/><rect x="573.15" y="44.92" width="3.71" height="2.76" fill="#febb2b"/><rect x="576.56" y="44.92" width="3.71" height="2.76" fill="#fdab33"/><rect x="579.97" y="44.92" width="3.71" height="2.76" fill="#fca934"/><rect x="583.38" y="44.92" width="3.71" height="2.76" fill="#fa9b3d"/><rect x="586.80" y="44.92" width="3.71" height="2.76" fill="#fdb22f"/><rect x="590.21" y="44.92" width="3.71" height="2.76" fill="#fdb42f"/><rect x="593.62" y="44.92" width="3.71" height="2.76" fill="#fdb22f"/><rect x="597.03" y="44.92" width="3.71" height="2.76" fill="#fdb52e"/><rect x="600.44" y="44.92" width="3.71" height="2.76" fill="#fdab33"/><rect x="603.85" y="44.92" width="3.71" height="2.76" fill="#fdb130"/><rect x="607.26" y="44.92" width="3.71" height="2.76" fill="#fdb42f"/><rect x="610.67" y="44.92" width="3.71" height="2.76" fill="#fdaf31"/><rect x="614.08" y="44.92" width="3.71" height="2.76" fill="#feba2c"/><rect x="617.49" y="44.92" width="1.61" height="2.76" fill="#fdaf31"/><rect x="261.00" y="47.38" width="2.10" height="2.76" fill="#f1814d"/><rect x="262.80" y="47.38" width="3.71" height="2.76" fill="#f3854b"/><rect x="266.21" y="47.38" width="3.71" height="2.76" fill="#f07f4f"/><rect x="269.62" y="47.38" width="3.71" height="2.76" fill="#f58b47"/><rect x="273.03" y="47.38" width="3.71" height="2.76" fill="#ee7b51"/><rect x="276.44" y="47.38" width="3.71" height="2.76" fill="#f07f4f"/><rect x="279.85" y="47.38" width="3.71" height="2.76" fill="#f58c46"/><rect x="283.26" y="47.38" width="3.71" height="2.76" fill="#f58c46"/><rect x="286.67" y="47.38" width="3.71" height="2.76" fill="#ee7b51"/><rect x="290.08" y="47.38" width="3.71" height="2.76" fill="#f48849"/><rect x="293.49" y="47.38" width="3.71" height="2.76" fill="#f2844b"/><rect x="296.90" y="47.38" width="3.71" height="2.76" fill="#f07f4f"/><rect x="300.32" y="47.38" width="3.71" height="2.76" fill="#f0804e"/><rect x="303.73" y="47.38" width="3.71" height="2.76" fill="#e97158"/><rect x="307.14" y="47.38" width="3.71" height="2.76" fill="#f68d45"/><rect x="310.55" y="47.38" width="3.71" height="2.76" fill="#e97257"/><rect x="313.96" y="47.38" width="3.71" height="2.76" fill="#ed7a52"/><rect x="317.37" y="47.38" width="3.71" height="2.76" fill="#f1814d"/><rect x="320.78" y="47.38" width="3.71" height="2.76" fill="#f48948"/><rect x="324.19" y="47.38" width="3.71" height="2.76" fill="#f1814d"/><rect x="327.60" y="47.38" width="3.71" height="2.76" fill="#f48948"/><rect x="331.01" y="47.38" width="3.71" height="2.76" fill="#f3854b"/><rect x="334.42" y="47.38" width="3.71" height="2.76" fill="#f3874a"/><rect x="337.83" y="47.38" width="3.71" height="2.76" fill="#ed7953"/><rect x="341.24" y="47.38" width="3.71" height="2.76" fill="#f1814d"/><rect x="344.65" y="47.38" width="3.71" height="2.76" fill="#ef7e50"/><rect x="348.06" y="47.38" width="3.71" height="2.76" fill="#f0804e"/><rect x="351.47" y="47.38" width="3.71" height="2.76" fill="#f79143"/><rect x="354.88" y="47.38" width="3.71" height="2.76" fill="#f2844b"/><rect x="358.29" y="47.38" width="3.71" height="2.76" fill="#f58c46"/><rect x="361.70" y="47.38" width="3.71" height="2.76" fill="#f3854b"/><rect x="365.11" y="47.38" width="3.71" height="2.76" fill="#ef7c51"/><rect x="368.52" y="47.38" width="3.71" height="2.76" fill="#f68f44"/><rect x="371.94" y="47.38" width="3.71" height="2.76" fill="#f1814d"/><rect x="375.35" y="47.38" width="3.71" height="2.76" fill="#f0804e"/><rect x="378.76" y="47.38" width="3.71" height="2.76" fill="#f1814d"/><rect x="382.17" y="47.38" width="3.71" height="2.76" fill="#f48948"/><rect x="385.58" y="47.38" width="3.71" height="2.76" fill="#ee7b51"/><rect x="388.99" y="47.38" width="3.71" height="2.76" fill="#f58c46"/><rect x="392.40" y="47.38" width="3.71" height="2.76" fill="#ef7e50"/><rect x="395.81" y="47.38" width="3.71" height="2.76" fill="#f3874a"/><rect x="399.22" y="47.38" width="3.71" height="2.76" fill="#e4695e"/><rect x="402.63" y="47.38" width="3.71" height="2.76" fill="#e26561"/><rect x="406.04" y="47.38" width="3.71" height="2.76" fill="#de6164"/><rect x="409.45" y="47.38" width="3.71" height="2.76" fill="#be3885"/><rect x="412.86" y="47.38" width="3.71" height="2.76" fill="#cf4c74"/><rect x="416.27" y="47.38" width="3.71" height="2.76" fill="#f3874a"/><rect x="419.68" y="47.38" width="3.71" height="2.76" fill="#f58b47"/><rect x="423.09" y="47.38" width="3.71" height="2.76" fill="#c5407e"/><rect x="426.50" y="47.38" width="3.71" height="2.76" fill="#fca835"/><rect x="429.91" y="47.38" width="3.71" height="2.76" fill="#febd2a"/><rect x="433.32" y="47.38" width="3.71" height="2.76" fill="#c23c81"/><rect x="436.73" y="47.38" width="3.71" height="2.76" fill="#ec7754"/><rect x="440.14" y="47.38" width="3.71" height="2.76" fill="#b32c8e"/><rect x="443.56" y="47.38" width="3.71" height="2.76" fill="#48039f"/><rect x="446.97" y="47.38" width="3.71" height="2.76" fill="#7701a8"/><rect x="450.38" y="47.38" width="3.71" height="2.76" fill="#b6308b"/><rect x="453.79" y="47.38" width="3.71" height="2.76" fill="#de6164"/><rect x="457.20" y="47.38" width="3.71" height="2.76" fill="#ef7e50"/><rect x="460.61" y="47.38" width="3.71" height="2.76" fill="#ef7e50"/><rect x="464.02" y="47.38" width="3.71" height="2.76" fill="#f89441"/><rect x="467.43" y="47.38" width="3.71" height="2.76" fill="#f79044"/><rect x="470.84" y="47.38" width="3.71" height="2.76" fill="#f79143"/><rect x="474.25" y="47.38" width="3.71" height="2.76" fill="#f79342"/><rect x="477.66" y="47.38" width="3.71" height="2.76" fill="#f3854b"/><rect x="481.07" y="47.38" width="3.71" height="2.76" fill="#f68f44"/><rect x="484.48" y="47.38" width="3.71" height="2.76" fill="#f48948"/><rect x="487.89" y="47.38" width="3.71" height="2.76" fill="#fa9b3d"/><rect x="491.30" y="47.38" width="3.71" height="2.76" fill="#f58b47"/><rect x="494.71" y="47.38" width="3.71" height="2.76" fill="#ef7e50"/><rect x="498.12" y="47.38" width="3.71" height="2.76" fill="#f58c46"/><rect x="501.53" y="47.38" width="3.71" height="2.76" fill="#f99a3e"/><rect x="504.94" y="47.38" width="3.71" height="2.76" fill="#f1834c"/><rect x="508.35" y="47.38" width="3.71" height="2.76" fill="#f1834c"/><rect x="511.76" y="47.38" width="3.71" height="2.76" fill="#f9983e"/><rect x="515.18" y="47.38" width="3.71" height="2.76" fill="#f1834c"/><rect x="518.59" y="47.38" width="3.71" height="2.76" fill="#f79044"/><rect x="522.00" y="47.38" width="3.71" height="2.76" fill="#f3874a"/><rect x="525.41" y="47.38" width="3.71" height="2.76" fill="#f2844b"/><rect x="528.82" y="47.38" width="3.71" height="2.76" fill="#fa9e3b"/><rect x="532.23" y="47.38" width="3.71" height="2.76" fill="#f79342"/><rect x="535.64" y="47.38" width="3.71" height="2.76" fill="#ef7e50"/><rect x="539.05" y="47.38" width="3.71" height="2.76" fill="#f79044"/><rect x="542.46" y="47.38" width="3.71" height="2.76" fill="#f58c46"/><rect x="545.87" y="47.38" width="3.71" height="2.76" fill="#f1834c"/><rect x="549.28" y="47.38" width="3.71" height="2.76" fill="#f79044"/><rect x="552.69" y="47.38" width="3.71" height="2.76" fill="#f48948"/><rect x="556.10" y="47.38" width="3.71" height="2.76" fill="#f0804e"/><rect x="559.51" y="47.38" width="3.71" height="2.76" fill="#fa9b3d"/><rect x="562.92" y="47.38" width="3.71" height="2.76" fill="#f89540"/><rect x="566.33" y="47.38" width="3.71" height="2.76" fill="#f9983e"/><rect x="569.74" y="47.38" width="3.71" height="2.76" fill="#f48948"/><rect x="573.15" y="47.38" width="3.71" height="2.76" fill="#fa9c3c"/><rect x="576.56" y="47.38" width="3.71" height="2.76" fill="#f79044"/><rect x="579.97" y="47.38" width="3.71" height="2.76" fill="#f48948"/><rect x="583.38" y="47.38" width="3.71" height="2.76" fill="#f68d45"/><rect x="586.80" y="47.38" width="3.71" height="2.76" fill="#f3854b"/><rect x="590.21" y="47.38" width="3.71" height="2.76" fill="#f9983e"/><rect x="593.62" y="47.38" width="3.71" height="2.76" fill="#f68f44"/><rect x="597.03" y="47.38" width="3.71" height="2.76" fill="#f79044"/><rect x="600.44" y="47.38" width="3.71" height="2.76" fill="#f68d45"/><rect x="603.85" y="47.38" width="3.71" height="2.76" fill="#f68d45"/><rect x="607.26" y="47.38" width="3.71" height="2.76" fill="#f79143"/><rect x="610.67" y="47.38" width="3.71" height="2.76" fill="#f1814d"/><rect x="614.08" y="47.38" width="3.71" height="2.76" fill="#f99a3e"/><rect x="617.49" y="47.38" width="1.61" height="2.76" fill="#f89540"/><rect x="261.00" y="49.84" width="2.10" height="2.76" fill="#c6417d"/><rect x="262.80" y="49.84" width="3.71" height="2.76" fill="#cc4778"/><rect x="266.21" y="49.84" width="3.71" height="2.76" fill="#cc4778"/><rect x="269.62" y="49.84" width="3.71" height="2.76" fill="#d9586a"/><rect x="273.03" y="49.84" width="3.71" height="2.76" fill="#cf4c74"/><rect x="276.44" y="49.84" width="3.71" height="2.76" fill="#ce4b75"/><rect x="279.85" y="49.84" width="3.71" height="2.76" fill="#d35171"/><rect x="283.26" y="49.84" width="3.71" height="2.76" fill="#c5407e"/><rect x="286.67" y="49.84" width="3.71" height="2.76" fill="#cc4778"/><rect x="290.08" y="49.84" width="3.71" height="2.76" fill="#cc4778"/><rect x="293.49" y="49.84" width="3.71" height="2.76" fill="#d04d73"/><rect x="296.90" y="49.84" width="3.71" height="2.76" fill="#cc4977"/><rect x="300.32" y="49.84" width="3.71" height="2.76" fill="#cc4977"/><rect x="303.73" y="49.84" width="3.71" height="2.76" fill="#cc4778"/><rect x="307.14" y="49.84" width="3.71" height="2.76" fill="#cd4a76"/><rect x="310.55" y="49.84" width="3.71" height="2.76" fill="#d14e72"/><rect x="313.96" y="49.84" width="3.71" height="2.76" fill="#c5407e"/><rect x="317.37" y="49.84" width="3.71" height="2.76" fill="#d35171"/><rect x="320.78" y="49.84" width="3.71" height="2.76" fill="#df6263"/><rect x="324.19" y="49.84" width="3.71" height="2.76" fill="#cc4778"/><rect x="327.60" y="49.84" width="3.71" height="2.76" fill="#d5546e"/><rect x="331.01" y="49.84" width="3.71" height="2.76" fill="#d24f71"/><rect x="334.42" y="49.84" width="3.71" height="2.76" fill="#ce4b75"/><rect x="337.83" y="49.84" width="3.71" height="2.76" fill="#d24f71"/><rect x="341.24" y="49.84" width="3.71" height="2.76" fill="#ce4b75"/><rect x="344.65" y="49.84" width="3.71" height="2.76" fill="#cb4679"/><rect x="348.06" y="49.84" width="3.71" height="2.76" fill="#d24f71"/><rect x="351.47" y="49.84" width="3.71" height="2.76" fill="#d35171"/><rect x="354.88" y="49.84" width="3.71" height="2.76" fill="#c13b82"/><rect x="358.29" y="49.84" width="3.71" height="2.76" fill="#cb4679"/><rect x="361.70" y="49.84" width="3.71" height="2.76" fill="#c7427c"/><rect x="365.11" y="49.84" width="3.71" height="2.76" fill="#cf4c74"/><rect x="368.52" y="49.84" width="3.71" height="2.76" fill="#c13b82"/><rect x="371.94" y="49.84" width="3.71" height="2.76" fill="#c5407e"/><rect x="375.35" y="49.84" width="3.71" height="2.76" fill="#d04d73"/><rect x="378.76" y="49.84" width="3.71" height="2.76" fill="#be3885"/><rect x="382.17" y="49.84" width="3.71" height="2.76" fill="#de5f65"/><rect x="385.58" y="49.84" width="3.71" height="2.76" fill="#d14e72"/><rect x="388.99" y="49.84" width="3.71" height="2.76" fill="#cc4778"/><rect x="392.40" y="49.84" width="3.71" height="2.76" fill="#ca457a"/><rect x="395.81" y="49.84" width="3.71" height="2.76" fill="#d14e72"/><rect x="399.22" y="49.84" width="3.71" height="2.76" fill="#ab2494"/><rect x="402.63" y="49.84" width="3.71" height="2.76" fill="#a51f99"/><rect x="406.04" y="49.84" width="3.71" height="2.76" fill="#9410a2"/><rect x="409.45" y="49.84" width="3.71" height="2.76" fill="#9410a2"/><rect x="412.86" y="49.84" width="3.71" height="2.76" fill="#b12a90"/><rect x="416.27" y="49.84" width="3.71" height="2.76" fill="#dd5e66"/><rect x="419.68" y="49.84" width="3.71" height="2.76" fill="#df6263"/><rect x="423.09" y="49.84" width="3.71" height="2.76" fill="#ba3388"/><rect x="426.50" y="49.84" width="3.71" height="2.76" fill="#ea7457"/><rect x="429.91" y="49.84" width="3.71" height="2.76" fill="#f3874a"/><rect x="433.32" y="49.84" width="3.71" height="2.76" fill="#9a169f"/><rect x="436.73" y="49.84" width="3.71" height="2.76" fill="#cf4c74"/><rect x="440.14" y="49.84" width="3.71" height="2.76" fill="#7401a8"/><rect x="446.97" y="49.84" width="3.71" height="2.76" fill="#7b02a8"/><rect x="450.38" y="49.84" width="3.71" height="2.76" fill="#9c179e"/><rect x="453.79" y="49.84" width="3.71" height="2.76" fill="#d35171"/><rect x="457.20" y="49.84" width="3.71" height="2.76" fill="#d5546e"/><rect x="460.61" y="49.84" width="3.71" height="2.76" fill="#d14e72"/><rect x="464.02" y="49.84" width="3.71" height="2.76" fill="#df6263"/><rect x="467.43" y="49.84" width="3.71" height="2.76" fill="#db5c68"/><rect x="470.84" y="49.84" width="3.71" height="2.76" fill="#e26660"/><rect x="474.25" y="49.84" width="3.71" height="2.76" fill="#e26561"/><rect x="477.66" y="49.84" width="3.71" height="2.76" fill="#e56b5d"/><rect x="481.07" y="49.84" width="3.71" height="2.76" fill="#e76f5a"/><rect x="484.48" y="49.84" width="3.71" height="2.76" fill="#e16462"/><rect x="487.89" y="49.84" width="3.71" height="2.76" fill="#e97257"/><rect x="491.30" y="49.84" width="3.71" height="2.76" fill="#e56a5d"/><rect x="494.71" y="49.84" width="3.71" height="2.76" fill="#e4695e"/><rect x="498.12" y="49.84" width="3.71" height="2.76" fill="#e26660"/><rect x="501.53" y="49.84" width="3.71" height="2.76" fill="#e4695e"/><rect x="504.94" y="49.84" width="3.71" height="2.76" fill="#e56b5d"/><rect x="508.35" y="49.84" width="3.71" height="2.76" fill="#e4695e"/><rect x="511.76" y="49.84" width="3.71" height="2.76" fill="#eb7655"/><rect x="515.18" y="49.84" width="3.71" height="2.76" fill="#e26660"/><rect x="518.59" y="49.84" width="3.71" height="2.76" fill="#e97257"/><rect x="522.00" y="49.84" width="3.71" height="2.76" fill="#e87059"/><rect x="525.41" y="49.84" width="3.71" height="2.76" fill="#ed7953"/><rect x="528.82" y="49.84" width="3.71" height="2.76" fill="#df6263"/><rect x="532.23" y="49.84" width="3.71" height="2.76" fill="#e06363"/><rect x="535.64" y="49.84" width="3.71" height="2.76" fill="#ec7754"/><rect x="539.05" y="49.84" width="3.71" height="2.76" fill="#e4695e"/><rect x="542.46" y="49.84" width="3.71" height="2.76" fill="#e97257"/><rect x="545.87" y="49.84" width="3.71" height="2.76" fill="#e06363"/><rect x="549.28" y="49.84" width="3.71" height="2.76" fill="#e66c5c"/><rect x="552.69" y="49.84" width="3.71" height="2.76" fill="#e3685f"/><rect x="556.10" y="49.84" width="3.71" height="2.76" fill="#df6263"/><rect x="559.51" y="49.84" width="3.71" height="2.76" fill="#e76f5a"/><rect x="562.92" y="49.84" width="3.71" height="2.76" fill="#e16462"/><rect x="566.33" y="49.84" width="3.71" height="2.76" fill="#e56a5d"/><rect x="569.74" y="49.84" width="3.71" height="2.76" fill="#ec7754"/><rect x="573.15" y="49.84" width="3.71" height="2.76" fill="#ec7754"/><rect x="576.56" y="49.84" width="3.71" height="2.76" fill="#ea7457"/><rect x="579.97" y="49.84" width="3.71" height="2.76" fill="#e56a5d"/><rect x="583.38" y="49.84" width="3.71" height="2.76" fill="#eb7556"/><rect x="586.80" y="49.84" width="3.71" height="2.76" fill="#e26561"/><rect x="590.21" y="49.84" width="3.71" height="2.76" fill="#e3685f"/><rect x="593.62" y="49.84" width="3.71" height="2.76" fill="#e3685f"/><rect x="597.03" y="49.84" width="3.71" height="2.76" fill="#e06363"/><rect x="600.44" y="49.84" width="3.71" height="2.76" fill="#e76e5b"/><rect x="603.85" y="49.84" width="3.71" height="2.76" fill="#eb7556"/><rect x="607.26" y="49.84" width="3.71" height="2.76" fill="#e76e5b"/><rect x="610.67" y="49.84" width="3.71" height="2.76" fill="#e26561"/><rect x="614.08" y="49.84" width="3.71" height="2.76" fill="#e56b5d"/><rect x="617.49" y="49.84" width="1.61" height="2.76" fill="#ec7754"/><rect x="261.00" y="52.30" width="2.10" height="2.76" fill="#9e199d"/><rect x="262.80" y="52.30" width="3.71" height="2.76" fill="#99159f"/><rect x="266.21" y="52.30" width="3.71" height="2.76" fill="#9410a2"/><rect x="269.62" y="52.30" width="3.71" height="2.76" fill="#a82296"/><rect x="273.03" y="52.30" width="3.71" height="2.76" fill="#9613a1"/><rect x="276.44" y="52.30" width="3.71" height="2.76" fill="#9c179e"/><rect x="279.85" y="52.30" width="3.71" height="2.76" fill="#a31e9a"/><rect x="283.26" y="52.30" width="3.71" height="2.76" fill="#9a169f"/><rect x="286.67" y="52.30" width="3.71" height="2.76" fill="#8f0da4"/><rect x="290.08" y="52.30" width="3.71" height="2.76" fill="#9c179e"/><rect x="293.49" y="52.30" width="3.71" height="2.76" fill="#9613a1"/><rect x="296.90" y="52.30" width="3.71" height="2.76" fill="#910ea3"/><rect x="300.32" y="52.30" width="3.71" height="2.76" fill="#910ea3"/><rect x="303.73" y="52.30" width="3.71" height="2.76" fill="#9511a1"/><rect x="307.14" y="52.30" width="3.71" height="2.76" fill="#9e199d"/><rect x="310.55" y="52.30" width="3.71" height="2.76" fill="#a11b9b"/><rect x="313.96" y="52.30" width="3.71" height="2.76" fill="#8b0aa5"/><rect x="317.37" y="52.30" width="3.71" height="2.76" fill="#9c179e"/><rect x="320.78" y="52.30" width="3.71" height="2.76" fill="#a82296"/><rect x="324.19" y="52.30" width="3.71" height="2.76" fill="#910ea3"/><rect x="327.60" y="52.30" width="3.71" height="2.76" fill="#9a169f"/><rect x="331.01" y="52.30" width="3.71" height="2.76" fill="#9c179e"/><rect x="334.42" y="52.30" width="3.71" height="2.76" fill="#9613a1"/><rect x="337.83" y="52.30" width="3.71" height="2.76" fill="#9814a0"/><rect x="341.24" y="52.30" width="3.71" height="2.76" fill="#910ea3"/><rect x="344.65" y="52.30" width="3.71" height="2.76" fill="#99159f"/><rect x="348.06" y="52.30" width="3.71" height="2.76" fill="#920fa3"/><rect x="351.47" y="52.30" width="3.71" height="2.76" fill="#a62098"/><rect x="354.88" y="52.30" width="3.71" height="2.76" fill="#8f0da4"/><rect x="358.29" y="52.30" width="3.71" height="2.76" fill="#ad2793"/><rect x="361.70" y="52.30" width="3.71" height="2.76" fill="#a01a9c"/><rect x="365.11" y="52.30" width="3.71" height="2.76" fill="#9d189d"/><rect x="368.52" y="52.30" width="3.71" height="2.76" fill="#99159f"/><rect x="371.94" y="52.30" width="3.71" height="2.76" fill="#8d0ba5"/><rect x="375.35" y="52.30" width="3.71" height="2.76" fill="#9c179e"/><rect x="378.76" y="52.30" width="3.71" height="2.76" fill="#9c179e"/><rect x="382.17" y="52.30" width="3.71" height="2.76" fill="#a72197"/><rect x="385.58" y="52.30" width="3.71" height="2.76" fill="#a82296"/><rect x="388.99" y="52.30" width="3.71" height="2.76" fill="#9511a1"/><rect x="392.40" y="52.30" width="3.71" height="2.76" fill="#a11b9b"/><rect x="395.81" y="52.30" width="3.71" height="2.76" fill="#8808a6"/><rect x="399.22" y="52.30" width="3.71" height="2.76" fill="#7701a8"/><rect x="402.63" y="52.30" width="3.71" height="2.76" fill="#7701a8"/><rect x="406.04" y="52.30" width="3.71" height="2.76" fill="#6e00a8"/><rect x="409.45" y="52.30" width="3.71" height="2.76" fill="#7100a8"/><rect x="412.86" y="52.30" width="3.71" height="2.76" fill="#7201a8"/><rect x="416.27" y="52.30" width="3.71" height="2.76" fill="#c43e7f"/><rect x="419.68" y="52.30" width="3.71" height="2.76" fill="#b32c8e"/><rect x="423.09" y="52.30" width="3.71" height="2.76" fill="#a11b9b"/><rect x="426.50" y="52.30" width="3.71" height="2.76" fill="#d6556d"/><rect x="429.91" y="52.30" width="3.71" height="2.76" fill="#df6263"/><rect x="433.32" y="52.30" width="3.71" height="2.76" fill="#9d189d"/><rect x="436.73" y="52.30" width="3.71" height="2.76" fill="#a31e9a"/><rect x="440.14" y="52.30" width="3.71" height="2.76" fill="#220690"/><rect x="450.38" y="52.30" width="3.71" height="2.76" fill="#8808a6"/><rect x="453.79" y="52.30" width="3.71" height="2.76" fill="#ae2892"/><rect x="457.20" y="52.30" width="3.71" height="2.76" fill="#9613a1"/><rect x="460.61" y="52.30" width="3.71" height="2.76" fill="#9d189d"/><rect x="464.02" y="52.30" width="3.71" height="2.76" fill="#b42e8d"/><rect x="467.43" y="52.30" width="3.71" height="2.76" fill="#b02991"/><rect x="470.84" y="52.30" width="3.71" height="2.76" fill="#b32c8e"/><rect x="474.25" y="52.30" width="3.71" height="2.76" fill="#b02991"/><rect x="477.66" y="52.30" width="3.71" height="2.76" fill="#bc3587"/><rect x="481.07" y="52.30" width="3.71" height="2.76" fill="#b6308b"/><rect x="484.48" y="52.30" width="3.71" height="2.76" fill="#b83289"/><rect x="487.89" y="52.30" width="3.71" height="2.76" fill="#b42e8d"/><rect x="491.30" y="52.30" width="3.71" height="2.76" fill="#ae2892"/><rect x="494.71" y="52.30" width="3.71" height="2.76" fill="#c03a83"/><rect x="498.12" y="52.30" width="3.71" height="2.76" fill="#b22b8f"/><rect x="501.53" y="52.30" width="3.71" height="2.76" fill="#b7318a"/><rect x="504.94" y="52.30" width="3.71" height="2.76" fill="#b32c8e"/><rect x="508.35" y="52.30" width="3.71" height="2.76" fill="#b12a90"/><rect x="511.76" y="52.30" width="3.71" height="2.76" fill="#b83289"/><rect x="515.18" y="52.30" width="3.71" height="2.76" fill="#b7318a"/><rect x="518.59" y="52.30" width="3.71" height="2.76" fill="#b7318a"/><rect x="522.00" y="52.30" width="3.71" height="2.76" fill="#ac2694"/><rect x="525.41" y="52.30" width="3.71" height="2.76" fill="#c13b82"/><rect x="528.82" y="52.30" width="3.71" height="2.76" fill="#b42e8d"/><rect x="532.23" y="52.30" width="3.71" height="2.76" fill="#b83289"/><rect x="535.64" y="52.30" width="3.71" height="2.76" fill="#ba3388"/><rect x="539.05" y="52.30" width="3.71" height="2.76" fill="#c13b82"/><rect x="542.46" y="52.30" width="3.71" height="2.76" fill="#c33d80"/><rect x="545.87" y="52.30" width="3.71" height="2.76" fill="#b32c8e"/><rect x="549.28" y="52.30" width="3.71" height="2.76" fill="#bb3488"/><rect x="552.69" y="52.30" width="3.71" height="2.76" fill="#bf3984"/><rect x="556.10" y="52.30" width="3.71" height="2.76" fill="#ba3388"/><rect x="559.51" y="52.30" width="3.71" height="2.76" fill="#c6417d"/><rect x="562.92" y="52.30" width="3.71" height="2.76" fill="#bc3587"/><rect x="566.33" y="52.30" width="3.71" height="2.76" fill="#a51f99"/><rect x="569.74" y="52.30" width="3.71" height="2.76" fill="#b12a90"/><rect x="573.15" y="52.30" width="3.71" height="2.76" fill="#c5407e"/><rect x="576.56" y="52.30" width="3.71" height="2.76" fill="#ae2892"/><rect x="579.97" y="52.30" width="3.71" height="2.76" fill="#bf3984"/><rect x="583.38" y="52.30" width="3.71" height="2.76" fill="#bb3488"/><rect x="586.80" y="52.30" width="3.71" height="2.76" fill="#b52f8c"/><rect x="590.21" y="52.30" width="3.71" height="2.76" fill="#c8437b"/><rect x="593.62" y="52.30" width="3.71" height="2.76" fill="#bf3984"/><rect x="597.03" y="52.30" width="3.71" height="2.76" fill="#c13b82"/><rect x="600.44" y="52.30" width="3.71" height="2.76" fill="#ba3388"/><rect x="603.85" y="52.30" width="3.71" height="2.76" fill="#b42e8d"/><rect x="607.26" y="52.30" width="3.71" height="2.76" fill="#b42e8d"/><rect x="610.67" y="52.30" width="3.71" height="2.76" fill="#bd3786"/><rect x="614.08" y="52.30" width="3.71" height="2.76" fill="#b7318a"/><rect x="617.49" y="52.30" width="1.61" height="2.76" fill="#c03a83"/><rect x="261.00" y="54.76" width="2.10" height="2.76" fill="#6c00a8"/><rect x="262.80" y="54.76" width="3.71" height="2.76" fill="#6001a6"/><rect x="266.21" y="54.76" width="3.71" height="2.76" fill="#7801a8"/><rect x="269.62" y="54.76" width="3.71" height="2.76" fill="#6300a7"/><rect x="273.03" y="54.76" width="3.71" height="2.76" fill="#7501a8"/><rect x="276.44" y="54.76" width="3.71" height="2.76" fill="#6300a7"/><rect x="279.85" y="54.76" width="3.71" height="2.76" fill="#6700a8"/><rect x="283.26" y="54.76" width="3.71" height="2.76" fill="#6600a7"/><rect x="286.67" y="54.76" width="3.71" height="2.76" fill="#6300a7"/><rect x="290.08" y="54.76" width="3.71" height="2.76" fill="#7401a8"/><rect x="293.49" y="54.76" width="3.71" height="2.76" fill="#6900a8"/><rect x="296.90" y="54.76" width="3.71" height="2.76" fill="#6400a7"/><rect x="300.32" y="54.76" width="3.71" height="2.76" fill="#6e00a8"/><rect x="303.73" y="54.76" width="3.71" height="2.76" fill="#6900a8"/><rect x="307.14" y="54.76" width="3.71" height="2.76" fill="#8405a7"/><rect x="310.55" y="54.76" width="3.71" height="2.76" fill="#6c00a8"/><rect x="313.96" y="54.76" width="3.71" height="2.76" fill="#6700a8"/><rect x="317.37" y="54.76" width="3.71" height="2.76" fill="#7b02a8"/><rect x="320.78" y="54.76" width="3.71" height="2.76" fill="#7201a8"/><rect x="324.19" y="54.76" width="3.71" height="2.76" fill="#6600a7"/><rect x="327.60" y="54.76" width="3.71" height="2.76" fill="#6600a7"/><rect x="331.01" y="54.76" width="3.71" height="2.76" fill="#7201a8"/><rect x="334.42" y="54.76" width="3.71" height="2.76" fill="#6400a7"/><rect x="337.83" y="54.76" width="3.71" height="2.76" fill="#6e00a8"/><rect x="341.24" y="54.76" width="3.71" height="2.76" fill="#6600a7"/><rect x="344.65" y="54.76" width="3.71" height="2.76" fill="#6c00a8"/><rect x="348.06" y="54.76" width="3.71" height="2.76" fill="#6300a7"/><rect x="351.47" y="54.76" width="3.71" height="2.76" fill="#6900a8"/><rect x="354.88" y="54.76" width="3.71" height="2.76" fill="#5e01a6"/><rect x="358.29" y="54.76" width="3.71" height="2.76" fill="#6c00a8"/><rect x="361.70" y="54.76" width="3.71" height="2.76" fill="#6001a6"/><rect x="365.11" y="54.76" width="3.71" height="2.76" fill="#6001a6"/><rect x="368.52" y="54.76" width="3.71" height="2.76" fill="#6600a7"/><rect x="371.94" y="54.76" width="3.71" height="2.76" fill="#6c00a8"/><rect x="375.35" y="54.76" width="3.71" height="2.76" fill="#6700a8"/><rect x="378.76" y="54.76" width="3.71" height="2.76" fill="#6700a8"/><rect x="382.17" y="54.76" width="3.71" height="2.76" fill="#6f00a8"/><rect x="385.58" y="54.76" width="3.71" height="2.76" fill="#6c00a8"/><rect x="388.99" y="54.76" width="3.71" height="2.76" fill="#6700a8"/><rect x="392.40" y="54.76" width="3.71" height="2.76" fill="#6f00a8"/><rect x="395.81" y="54.76" width="3.71" height="2.76" fill="#6e00a8"/><rect x="399.22" y="54.76" width="3.71" height="2.76" fill="#46039f"/><rect x="406.04" y="54.76" width="3.71" height="2.76" fill="#41049d"/><rect x="409.45" y="54.76" width="3.71" height="2.76" fill="#240691"/><rect x="412.86" y="54.76" width="3.71" height="2.76" fill="#5002a2"/><rect x="416.27" y="54.76" width="3.71" height="2.76" fill="#8f0da4"/><rect x="419.68" y="54.76" width="3.71" height="2.76" fill="#6f00a8"/><rect x="423.09" y="54.76" width="3.71" height="2.76" fill="#a31e9a"/><rect x="426.50" y="54.76" width="3.71" height="2.76" fill="#ac2694"/><rect x="429.91" y="54.76" width="3.71" height="2.76" fill="#910ea3"/><rect x="433.32" y="54.76" width="3.71" height="2.76" fill="#8707a6"/><rect x="436.73" y="54.76" width="3.71" height="2.76" fill="#5c01a6"/><rect x="446.97" y="54.76" width="3.71" height="2.76" fill="#4c02a1"/><rect x="450.38" y="54.76" width="3.71" height="2.76" fill="#6f00a8"/><rect x="453.79" y="54.76" width="3.71" height="2.76" fill="#6400a7"/><rect x="460.61" y="54.76" width="3.71" height="2.76" fill="#5601a4"/><rect x="464.02" y="54.76" width="3.71" height="2.76" fill="#6e00a8"/><rect x="467.43" y="54.76" width="3.71" height="2.76" fill="#6400a7"/><rect x="470.84" y="54.76" width="3.71" height="2.76" fill="#7e03a8"/><rect x="474.25" y="54.76" width="3.71" height="2.76" fill="#8305a7"/><rect x="477.66" y="54.76" width="3.71" height="2.76" fill="#7a02a8"/><rect x="481.07" y="54.76" width="3.71" height="2.76" fill="#7801a8"/><rect x="484.48" y="54.76" width="3.71" height="2.76" fill="#8707a6"/><rect x="487.89" y="54.76" width="3.71" height="2.76" fill="#8b0aa5"/><rect x="491.30" y="54.76" width="3.71" height="2.76" fill="#7501a8"/><rect x="494.71" y="54.76" width="3.71" height="2.76" fill="#8606a6"/><rect x="498.12" y="54.76" width="3.71" height="2.76" fill="#910ea3"/><rect x="501.53" y="54.76" width="3.71" height="2.76" fill="#8606a6"/><rect x="504.94" y="54.76" width="3.71" height="2.76" fill="#8b0aa5"/><rect x="508.35" y="54.76" width="3.71" height="2.76" fill="#920fa3"/><rect x="511.76" y="54.76" width="3.71" height="2.76" fill="#920fa3"/><rect x="515.18" y="54.76" width="3.71" height="2.76" fill="#8a09a5"/><rect x="518.59" y="54.76" width="3.71" height="2.76" fill="#920fa3"/><rect x="522.00" y="54.76" width="3.71" height="2.76" fill="#7d03a8"/><rect x="525.41" y="54.76" width="3.71" height="2.76" fill="#8e0ca4"/><rect x="528.82" y="54.76" width="3.71" height="2.76" fill="#7e03a8"/><rect x="532.23" y="54.76" width="3.71" height="2.76" fill="#910ea3"/><rect x="535.64" y="54.76" width="3.71" height="2.76" fill="#8a09a5"/><rect x="539.05" y="54.76" width="3.71" height="2.76" fill="#9410a2"/><rect x="542.46" y="54.76" width="3.71" height="2.76" fill="#8707a6"/><rect x="545.87" y="54.76" width="3.71" height="2.76" fill="#8104a7"/><rect x="549.28" y="54.76" width="3.71" height="2.76" fill="#910ea3"/><rect x="552.69" y="54.76" width="3.71" height="2.76" fill="#920fa3"/><rect x="556.10" y="54.76" width="3.71" height="2.76" fill="#8004a8"/><rect x="559.51" y="54.76" width="3.71" height="2.76" fill="#9511a1"/><rect x="562.92" y="54.76" width="3.71" height="2.76" fill="#920fa3"/><rect x="566.33" y="54.76" width="3.71" height="2.76" fill="#8808a6"/><rect x="569.74" y="54.76" width="3.71" height="2.76" fill="#8e0ca4"/><rect x="573.15" y="54.76" width="3.71" height="2.76" fill="#9814a0"/><rect x="576.56" y="54.76" width="3.71" height="2.76" fill="#8f0da4"/><rect x="579.97" y="54.76" width="3.71" height="2.76" fill="#9c179e"/><rect x="583.38" y="54.76" width="3.71" height="2.76" fill="#9613a1"/><rect x="586.80" y="54.76" width="3.71" height="2.76" fill="#8d0ba5"/><rect x="590.21" y="54.76" width="3.71" height="2.76" fill="#8b0aa5"/><rect x="593.62" y="54.76" width="3.71" height="2.76" fill="#8d0ba5"/><rect x="597.03" y="54.76" width="3.71" height="2.76" fill="#99159f"/><rect x="600.44" y="54.76" width="3.71" height="2.76" fill="#8e0ca4"/><rect x="603.85" y="54.76" width="3.71" height="2.76" fill="#9613a1"/><rect x="607.26" y="54.76" width="3.71" height="2.76" fill="#8808a6"/><rect x="610.67" y="54.76" width="3.71" height="2.76" fill="#8a09a5"/><rect x="614.08" y="54.76" width="3.71" height="2.76" fill="#9e199d"/><rect x="617.49" y="54.76" width="1.61" height="2.76" fill="#8b0aa5"/><rect x="261.00" y="57.22" width="2.10" height="2.76" fill="#3c049b"/><rect x="262.80" y="57.22" width="3.71" height="2.76" fill="#3c049b"/><rect x="266.21" y="57.22" width="3.71" height="2.76" fill="#3e049c"/><rect x="269.62" y="57.22" width="3.71" height="2.76" fill="#2e0595"/><rect x="273.03" y="57.22" width="3.71" height="2.76" fill="#2f0596"/><rect x="279.85" y="57.22" width="3.71" height="2.76" fill="#43039e"/><rect x="283.26" y="57.22" width="3.71" height="2.76" fill="#310597"/><rect x="286.67" y="57.22" width="3.71" height="2.76" fill="#4b03a1"/><rect x="290.08" y="57.22" width="3.71" height="2.76" fill="#44039e"/><rect x="293.49" y="57.22" width="3.71" height="2.76" fill="#44039e"/><rect x="296.90" y="57.22" width="3.71" height="2.76" fill="#2f0596"/><rect x="300.32" y="57.22" width="3.71" height="2.76" fill="#5102a3"/><rect x="307.14" y="57.22" width="3.71" height="2.76" fill="#48039f"/><rect x="310.55" y="57.22" width="3.71" height="2.76" fill="#3e049c"/><rect x="317.37" y="57.22" width="3.71" height="2.76" fill="#280592"/><rect x="320.78" y="57.22" width="3.71" height="2.76" fill="#41049d"/><rect x="324.19" y="57.22" width="3.71" height="2.76" fill="#46039f"/><rect x="327.60" y="57.22" width="3.71" height="2.76" fill="#3c049b"/><rect x="331.01" y="57.22" width="3.71" height="2.76" fill="#4903a0"/><rect x="334.42" y="57.22" width="3.71" height="2.76" fill="#3e049c"/><rect x="337.83" y="57.22" width="3.71" height="2.76" fill="#41049d"/><rect x="341.24" y="57.22" width="3.71" height="2.76" fill="#43039e"/><rect x="344.65" y="57.22" width="3.71" height="2.76" fill="#41049d"/><rect x="348.06" y="57.22" width="3.71" height="2.76" fill="#4903a0"/><rect x="351.47" y="57.22" width="3.71" height="2.76" fill="#3e049c"/><rect x="358.29" y="57.22" width="3.71" height="2.76" fill="#38049a"/><rect x="361.70" y="57.22" width="3.71" height="2.76" fill="#48039f"/><rect x="365.11" y="57.22" width="3.71" height="2.76" fill="#3c049b"/><rect x="368.52" y="57.22" width="3.71" height="2.76" fill="#41049d"/><rect x="371.94" y="57.22" width="3.71" height="2.76" fill="#310597"/><rect x="375.35" y="57.22" width="3.71" height="2.76" fill="#330597"/><rect x="378.76" y="57.22" width="3.71" height="2.76" fill="#330597"/><rect x="382.17" y="57.22" width="3.71" height="2.76" fill="#330597"/><rect x="392.40" y="57.22" width="3.71" height="2.76" fill="#41049d"/><rect x="395.81" y="57.22" width="3.71" height="2.76" fill="#38049a"/><rect x="399.22" y="57.22" width="3.71" height="2.76" fill="#260591"/><rect x="402.63" y="57.22" width="3.71" height="2.76" fill="#100788"/><rect x="406.04" y="57.22" width="3.71" height="2.76" fill="#2a0593"/><rect x="412.86" y="57.22" width="3.71" height="2.76" fill="#280592"/><rect x="416.27" y="57.22" width="3.71" height="2.76" fill="#6c00a8"/><rect x="419.68" y="57.22" width="3.71" height="2.76" fill="#46039f"/><rect x="423.09" y="57.22" width="3.71" height="2.76" fill="#8d0ba5"/><rect x="426.50" y="57.22" width="3.71" height="2.76" fill="#6001a6"/><rect x="433.32" y="57.22" width="3.71" height="2.76" fill="#7d03a8"/><rect x="436.73" y="57.22" width="3.71" height="2.76" fill="#16078a"/><rect x="446.97" y="57.22" width="3.71" height="2.76" fill="#2a0593"/><rect x="474.25" y="57.22" width="3.71" height="2.76" fill="#5601a4"/><rect x="477.66" y="57.22" width="3.71" height="2.76" fill="#5b01a5"/><rect x="481.07" y="57.22" width="3.71" height="2.76" fill="#4e02a2"/><rect x="484.48" y="57.22" width="3.71" height="2.76" fill="#5302a3"/><rect x="487.89" y="57.22" width="3.71" height="2.76" fill="#6001a6"/><rect x="491.30" y="57.22" width="3.71" height="2.76" fill="#4903a0"/><rect x="494.71" y="57.22" width="3.71" height="2.76" fill="#5b01a5"/><rect x="501.53" y="57.22" width="3.71" height="2.76" fill="#6001a6"/><rect x="504.94" y="57.22" width="3.71" height="2.76" fill="#6400a7"/><rect x="508.35" y="57.22" width="3.71" height="2.76" fill="#6100a7"/><rect x="511.76" y="57.22" width="3.71" height="2.76" fill="#6a00a8"/><rect x="515.18" y="57.22" width="3.71" height="2.76" fill="#6c00a8"/><rect x="518.59" y="57.22" width="3.71" height="2.76" fill="#7201a8"/><rect x="522.00" y="57.22" width="3.71" height="2.76" fill="#6a00a8"/><rect x="525.41" y="57.22" width="3.71" height="2.76" fill="#6700a8"/><rect x="528.82" y="57.22" width="3.71" height="2.76" fill="#5901a5"/><rect x="532.23" y="57.22" width="3.71" height="2.76" fill="#6700a8"/><rect x="535.64" y="57.22" width="3.71" height="2.76" fill="#6001a6"/><rect x="539.05" y="57.22" width="3.71" height="2.76" fill="#5801a4"/><rect x="542.46" y="57.22" width="3.71" height="2.76" fill="#6100a7"/><rect x="545.87" y="57.22" width="3.71" height="2.76" fill="#5e01a6"/><rect x="549.28" y="57.22" width="3.71" height="2.76" fill="#6400a7"/><rect x="552.69" y="57.22" width="3.71" height="2.76" fill="#6100a7"/><rect x="556.10" y="57.22" width="3.71" height="2.76" fill="#5901a5"/><rect x="559.51" y="57.22" width="3.71" height="2.76" fill="#5e01a6"/><rect x="566.33" y="57.22" width="3.71" height="2.76" fill="#6600a7"/><rect x="569.74" y="57.22" width="3.71" height="2.76" fill="#6e00a8"/><rect x="573.15" y="57.22" width="3.71" height="2.76" fill="#7100a8"/><rect x="576.56" y="57.22" width="3.71" height="2.76" fill="#5002a2"/><rect x="579.97" y="57.22" width="3.71" height="2.76" fill="#6e00a8"/><rect x="583.38" y="57.22" width="3.71" height="2.76" fill="#6100a7"/><rect x="586.80" y="57.22" width="3.71" height="2.76" fill="#6001a6"/><rect x="590.21" y="57.22" width="3.71" height="2.76" fill="#7401a8"/><rect x="593.62" y="57.22" width="3.71" height="2.76" fill="#5901a5"/><rect x="597.03" y="57.22" width="3.71" height="2.76" fill="#6400a7"/><rect x="600.44" y="57.22" width="3.71" height="2.76" fill="#6100a7"/><rect x="603.85" y="57.22" width="3.71" height="2.76" fill="#6300a7"/><rect x="607.26" y="57.22" width="3.71" height="2.76" fill="#5e01a6"/><rect x="610.67" y="57.22" width="3.71" height="2.76" fill="#6100a7"/><rect x="614.08" y="57.22" width="3.71" height="2.76" fill="#6400a7"/><rect x="617.49" y="57.22" width="1.61" height="2.76" fill="#6a00a8"/><rect x="266.21" y="59.68" width="3.71" height="2.76" fill="#0d0887"/><rect x="276.44" y="59.68" width="3.71" height="2.76" fill="#20068f"/><rect x="300.32" y="59.68" width="3.71" height="2.76" fill="#220690"/><rect x="313.96" y="59.68" width="3.71" height="2.76" fill="#16078a"/><rect x="317.37" y="59.68" width="3.71" height="2.76" fill="#1b068d"/><rect x="320.78" y="59.68" width="3.71" height="2.76" fill="#100788"/><rect x="324.19" y="59.68" width="3.71" height="2.76" fill="#1b068d"/><rect x="327.60" y="59.68" width="3.71" height="2.76" fill="#19068c"/><rect x="337.83" y="59.68" width="3.71" height="2.76" fill="#240691"/><rect x="348.06" y="59.68" width="3.71" height="2.76" fill="#16078a"/><rect x="358.29" y="59.68" width="3.71" height="2.76" fill="#260591"/><rect x="368.52" y="59.68" width="3.71" height="2.76" fill="#16078a"/><rect x="371.94" y="59.68" width="3.71" height="2.76" fill="#1b068d"/><rect x="378.76" y="59.68" width="3.71" height="2.76" fill="#100788"/><rect x="382.17" y="59.68" width="3.71" height="2.76" fill="#130789"/><rect x="385.58" y="59.68" width="3.71" height="2.76" fill="#1b068d"/><rect x="406.04" y="59.68" width="3.71" height="2.76" fill="#240691"/><rect x="409.45" y="59.68" width="3.71" height="2.76" fill="#20068f"/><rect x="412.86" y="59.68" width="3.71" height="2.76" fill="#130789"/><rect x="416.27" y="59.68" width="3.71" height="2.76" fill="#220690"/><rect x="419.68" y="59.68" width="3.71" height="2.76" fill="#130789"/><rect x="423.09" y="59.68" width="3.71" height="2.76" fill="#6c00a8"/><rect x="426.50" y="59.68" width="3.71" height="2.76" fill="#100788"/><rect x="433.32" y="59.68" width="3.71" height="2.76" fill="#6400a7"/><rect x="436.73" y="59.68" width="3.71" height="2.76" fill="#19068c"/><rect x="450.38" y="59.68" width="3.71" height="2.76" fill="#44039e"/><rect x="453.79" y="59.68" width="3.71" height="2.76" fill="#16078a"/><rect x="464.02" y="59.68" width="3.71" height="2.76" fill="#100788"/><rect x="467.43" y="59.68" width="3.71" height="2.76" fill="#16078a"/><rect x="470.84" y="59.68" width="3.71" height="2.76" fill="#2a0593"/><rect x="474.25" y="59.68" width="3.71" height="2.76" fill="#260591"/><rect x="477.66" y="59.68" width="3.71" height="2.76" fill="#310597"/><rect x="481.07" y="59.68" width="3.71" height="2.76" fill="#100788"/><rect x="484.48" y="59.68" width="3.71" height="2.76" fill="#3f049c"/><rect x="487.89" y="59.68" width="3.71" height="2.76" fill="#1d068e"/><rect x="494.71" y="59.68" width="3.71" height="2.76" fill="#2c0594"/><rect x="501.53" y="59.68" width="3.71" height="2.76" fill="#3e049c"/><rect x="504.94" y="59.68" width="3.71" height="2.76" fill="#3e049c"/><rect x="508.35" y="59.68" width="3.71" height="2.76" fill="#3c049b"/><rect x="511.76" y="59.68" width="3.71" height="2.76" fill="#4903a0"/><rect x="515.18" y="59.68" width="3.71" height="2.76" fill="#220690"/><rect x="518.59" y="59.68" width="3.71" height="2.76" fill="#6700a8"/><rect x="522.00" y="59.68" width="3.71" height="2.76" fill="#43039e"/><rect x="525.41" y="59.68" width="3.71" height="2.76" fill="#3c049b"/><rect x="528.82" y="59.68" width="3.71" height="2.76" fill="#3c049b"/><rect x="532.23" y="59.68" width="3.71" height="2.76" fill="#100788"/><rect x="535.64" y="59.68" width="3.71" height="2.76" fill="#310597"/><rect x="539.05" y="59.68" width="3.71" height="2.76" fill="#330597"/><rect x="542.46" y="59.68" width="3.71" height="2.76" fill="#3c049b"/><rect x="545.87" y="59.68" width="3.71" height="2.76" fill="#330597"/><rect x="549.28" y="59.68" width="3.71" height="2.76" fill="#310597"/><rect x="556.10" y="59.68" width="3.71" height="2.76" fill="#46039f"/><rect x="562.92" y="59.68" width="3.71" height="2.76" fill="#370499"/><rect x="566.33" y="59.68" width="3.71" height="2.76" fill="#370499"/><rect x="569.74" y="59.68" width="3.71" height="2.76" fill="#220690"/><rect x="573.15" y="59.68" width="3.71" height="2.76" fill="#4b03a1"/><rect x="586.80" y="59.68" width="3.71" height="2.76" fill="#330597"/><rect x="590.21" y="59.68" width="3.71" height="2.76" fill="#43039e"/><rect x="593.62" y="59.68" width="3.71" height="2.76" fill="#3e049c"/><rect x="597.03" y="59.68" width="3.71" height="2.76" fill="#48039f"/><rect x="600.44" y="59.68" width="3.71" height="2.76" fill="#46039f"/><rect x="603.85" y="59.68" width="3.71" height="2.76" fill="#3f049c"/><rect x="610.67" y="59.68" width="3.71" height="2.76" fill="#44039e"/><rect x="614.08" y="59.68" width="3.71" height="2.76" fill="#3f049c"/><rect x="617.49" y="59.68" width="1.61" height="2.76" fill="#4903a0"/><rect x="269.62" y="62.14" width="3.71" height="2.76" fill="#2a0593"/><rect x="276.44" y="62.14" width="3.71" height="2.76" fill="#1b068d"/><rect x="307.14" y="62.14" width="3.71" height="2.76" fill="#19068c"/><rect x="320.78" y="62.14" width="3.71" height="2.76" fill="#1b068d"/><rect x="324.19" y="62.14" width="3.71" height="2.76" fill="#2c0594"/><rect x="327.60" y="62.14" width="3.71" height="2.76" fill="#130789"/><rect x="334.42" y="62.14" width="3.71" height="2.76" fill="#1d068e"/><rect x="337.83" y="62.14" width="3.71" height="2.76" fill="#1b068d"/><rect x="344.65" y="62.14" width="3.71" height="2.76" fill="#130789"/><rect x="358.29" y="62.14" width="3.71" height="2.76" fill="#240691"/><rect x="361.70" y="62.14" width="3.71" height="2.76" fill="#2a0593"/><rect x="365.11" y="62.14" width="3.71" height="2.76" fill="#20068f"/><rect x="371.94" y="62.14" width="3.71" height="2.76" fill="#280592"/><rect x="375.35" y="62.14" width="3.71" height="2.76" fill="#16078a"/><rect x="399.22" y="62.14" width="3.71" height="2.76" fill="#19068c"/><rect x="409.45" y="62.14" width="3.71" height="2.76" fill="#280592"/><rect x="450.38" y="62.14" width="3.71" height="2.76" fill="#2a0593"/><rect x="467.43" y="62.14" width="3.71" height="2.76" fill="#16078a"/><rect x="474.25" y="62.14" width="3.71" height="2.76" fill="#1b068d"/><rect x="477.66" y="62.14" width="3.71" height="2.76" fill="#280592"/><rect x="484.48" y="62.14" width="3.71" height="2.76" fill="#130789"/><rect x="487.89" y="62.14" width="3.71" height="2.76" fill="#1d068e"/><rect x="491.30" y="62.14" width="3.71" height="2.76" fill="#220690"/><rect x="501.53" y="62.14" width="3.71" height="2.76" fill="#19068c"/><rect x="511.76" y="62.14" width="3.71" height="2.76" fill="#2c0594"/><rect x="515.18" y="62.14" width="3.71" height="2.76" fill="#130789"/><rect x="522.00" y="62.14" width="3.71" height="2.76" fill="#0d0887"/><rect x="525.41" y="62.14" width="3.71" height="2.76" fill="#240691"/><rect x="528.82" y="62.14" width="3.71" height="2.76" fill="#2a0593"/><rect x="535.64" y="62.14" width="3.71" height="2.76" fill="#100788"/><rect x="539.05" y="62.14" width="3.71" height="2.76" fill="#0d0887"/><rect x="549.28" y="62.14" width="3.71" height="2.76" fill="#0d0887"/><rect x="552.69" y="62.14" width="3.71" height="2.76" fill="#2e0595"/><rect x="562.92" y="62.14" width="3.71" height="2.76" fill="#16078a"/><rect x="566.33" y="62.14" width="3.71" height="2.76" fill="#350498"/><rect x="569.74" y="62.14" width="3.71" height="2.76" fill="#0d0887"/><rect x="573.15" y="62.14" width="3.71" height="2.76" fill="#19068c"/><rect x="576.56" y="62.14" width="3.71" height="2.76" fill="#240691"/><rect x="586.80" y="62.14" width="3.71" height="2.76" fill="#130789"/><rect x="590.21" y="62.14" width="3.71" height="2.76" fill="#1b068d"/><rect x="593.62" y="62.14" width="3.71" height="2.76" fill="#260591"/><rect x="597.03" y="62.14" width="3.71" height="2.76" fill="#16078a"/><rect x="603.85" y="62.14" width="3.71" height="2.76" fill="#130789"/><rect x="607.26" y="62.14" width="3.71" height="2.76" fill="#220690"/><rect x="614.08" y="62.14" width="3.71" height="2.76" fill="#130789"/><rect x="617.49" y="62.14" width="1.61" height="2.76" fill="#2e0595"/><rect x="269.62" y="64.60" width="3.71" height="2.76" fill="#280592"/><rect x="279.85" y="64.60" width="3.71" height="2.76" fill="#220690"/><rect x="290.08" y="64.60" width="3.71" height="2.76" fill="#1b068d"/><rect x="307.14" y="64.60" width="3.71" height="2.76" fill="#240691"/><rect x="313.96" y="64.60" width="3.71" height="2.76" fill="#100788"/><rect x="331.01" y="64.60" width="3.71" height="2.76" fill="#220690"/><rect x="371.94" y="64.60" width="3.71" height="2.76" fill="#130789"/><rect x="378.76" y="64.60" width="3.71" height="2.76" fill="#130789"/><rect x="388.99" y="64.60" width="3.71" height="2.76" fill="#280592"/><rect x="395.81" y="64.60" width="3.71" height="2.76" fill="#2a0593"/><rect x="412.86" y="64.60" width="3.71" height="2.76" fill="#100788"/><rect x="416.27" y="64.60" width="3.71" height="2.76" fill="#1d068e"/><rect x="419.68" y="64.60" width="3.71" height="2.76" fill="#220690"/><rect x="453.79" y="64.60" width="3.71" height="2.76" fill="#240691"/><rect x="460.61" y="64.60" width="3.71" height="2.76" fill="#220690"/><rect x="484.48" y="64.60" width="3.71" height="2.76" fill="#260591"/><rect x="498.12" y="64.60" width="3.71" height="2.76" fill="#280592"/><rect x="501.53" y="64.60" width="3.71" height="2.76" fill="#16078a"/><rect x="504.94" y="64.60" width="3.71" height="2.76" fill="#1b068d"/><rect x="511.76" y="64.60" width="3.71" height="2.76" fill="#16078a"/><rect x="525.41" y="64.60" width="3.71" height="2.76" fill="#19068c"/><rect x="542.46" y="64.60" width="3.71" height="2.76" fill="#1b068d"/><rect x="549.28" y="64.60" width="3.71" height="2.76" fill="#19068c"/><rect x="556.10" y="64.60" width="3.71" height="2.76" fill="#20068f"/><rect x="559.51" y="64.60" width="3.71" height="2.76" fill="#16078a"/><rect x="566.33" y="64.60" width="3.71" height="2.76" fill="#2c0594"/><rect x="569.74" y="64.60" width="3.71" height="2.76" fill="#2a0593"/><rect x="586.80" y="64.60" width="3.71" height="2.76" fill="#19068c"/><rect x="590.21" y="64.60" width="3.71" height="2.76" fill="#280592"/><rect x="593.62" y="64.60" width="3.71" height="2.76" fill="#2a0593"/><rect x="600.44" y="64.60" width="3.71" height="2.76" fill="#2c0594"/><rect x="607.26" y="64.60" width="3.71" height="2.76" fill="#220690"/><rect x="610.67" y="64.60" width="3.71" height="2.76" fill="#19068c"/><rect x="262.80" y="67.06" width="3.71" height="2.76" fill="#1d068e"/><rect x="320.78" y="67.06" width="3.71" height="2.76" fill="#19068c"/><rect x="406.04" y="67.06" width="3.71" height="2.76" fill="#2e0595"/><rect x="474.25" y="67.06" width="3.71" height="2.76" fill="#1d068e"/><rect x="522.00" y="67.06" width="3.71" height="2.76" fill="#16078a"/><rect x="532.23" y="67.06" width="3.71" height="2.76" fill="#280592"/><rect x="542.46" y="67.06" width="3.71" height="2.76" fill="#19068c"/><rect x="552.69" y="67.06" width="3.71" height="2.76" fill="#1d068e"/><rect x="583.38" y="67.06" width="3.71" height="2.76" fill="#19068c"/><rect x="603.85" y="67.06" width="3.71" height="2.76" fill="#2a0593"/><rect x="617.49" y="67.06" width="1.61" height="2.76" fill="#1d068e"/><rect x="261.00" y="69.52" width="2.10" height="2.76" fill="#2a0593"/><rect x="310.55" y="69.52" width="3.71" height="2.76" fill="#260591"/><rect x="331.01" y="69.52" width="3.71" height="2.76" fill="#280592"/><rect x="423.09" y="69.52" width="3.71" height="2.76" fill="#19068c"/><rect x="436.73" y="69.52" width="3.71" height="2.76" fill="#2a0593"/><rect x="474.25" y="69.52" width="3.71" height="2.76" fill="#240691"/><rect x="498.12" y="69.52" width="3.71" height="2.76" fill="#2a0593"/><rect x="511.76" y="69.52" width="3.71" height="2.76" fill="#130789"/><rect x="559.51" y="69.52" width="3.71" height="2.76" fill="#1b068d"/><rect x="566.33" y="69.52" width="3.71" height="2.76" fill="#260591"/><rect x="614.08" y="69.52" width="3.71" height="2.76" fill="#2e0595"/><rect x="508.35" y="71.98" width="3.71" height="2.76" fill="#100788"/><rect x="522.00" y="71.98" width="3.71" height="2.76" fill="#16078a"/><rect x="532.23" y="71.98" width="3.71" height="2.76" fill="#2c0594"/><rect x="539.05" y="71.98" width="3.71" height="2.76" fill="#2a0593"/><rect x="559.51" y="71.98" width="3.71" height="2.76" fill="#130789"/><rect x="562.92" y="71.98" width="3.71" height="2.76" fill="#220690"/><rect x="324.19" y="74.44" width="3.71" height="2.76" fill="#1d068e"/><rect x="351.47" y="74.44" width="3.71" height="2.76" fill="#1b068d"/><rect x="412.86" y="74.44" width="3.71" height="2.76" fill="#16078a"/><rect x="498.12" y="74.44" width="3.71" height="2.76" fill="#240691"/><rect x="511.76" y="74.44" width="3.71" height="2.76" fill="#16078a"/><rect x="528.82" y="74.44" width="3.71" height="2.76" fill="#19068c"/><rect x="556.10" y="74.44" width="3.71" height="2.76" fill="#2c0594"/><rect x="559.51" y="74.44" width="3.71" height="2.76" fill="#16078a"/><rect x="583.38" y="74.44" width="3.71" height="2.76" fill="#2a0593"/><rect x="603.85" y="74.44" width="3.71" height="2.76" fill="#280592"/><rect x="433.32" y="79.36" width="3.71" height="2.76" fill="#19068c"/><rect x="446.97" y="79.36" width="3.71" height="2.76" fill="#2c0594"/><rect x="549.28" y="91.66" width="3.71" height="2.76" fill="#130789"/><rect x="344.65" y="94.12" width="3.71" height="2.76" fill="#2a0593"/><rect x="494.71" y="94.12" width="3.71" height="2.76" fill="#2e0595"/><rect x="562.92" y="94.12" width="3.71" height="2.76" fill="#240691"/><rect x="610.67" y="94.12" width="3.71" height="2.76" fill="#1d068e"/><rect x="487.89" y="96.58" width="3.71" height="0.72" fill="#280592"/></g>
<path d="M261.0 180.53H619.1M261.0 177.80H619.1M261.0 175.87H619.1M261.0 174.37H619.1M261.0 173.14H619.1M261.0 172.10H619.1M261.0 171.20H619.1M261.0 170.41H619.1M261.0 165.03H619.1M261.0 162.30H619.1M261.0 160.37H619.1M261.0 158.87H619.1M261.0 157.64H619.1M261.0 156.60H619.1M261.0 155.70H619.1M261.0 154.91H619.1M261.0 149.53H619.1M261.0 146.80H619.1M261.0 144.87H619.1M261.0 143.37H619.1M261.0 142.14H619.1M261.0 141.10H619.1M261.0 140.20H619.1M261.0 139.41H619.1M261.0 134.03H619.1M261.0 131.30H619.1M261.0 129.37H619.1M261.0 127.87H619.1M261.0 126.64H619.1M261.0 125.60H619.1M261.0 124.70H619.1M261.0 123.91H619.1M261.0 118.53H619.1M261.0 115.80H619.1M261.0 113.87H619.1M261.0 112.37H619.1M261.0 111.14H619.1M261.0 110.10H619.1M261.0 109.20H619.1M261.0 108.41H619.1M261.0 103.03H619.1M261.0 100.30H619.1M261.0 98.37H619.1" stroke="#000" stroke-opacity="0.10" stroke-width="0.6" stroke-dasharray="0.8 1.2" fill="none"/>
<path d="M312.16 97.3V181.4M363.31 97.3V181.4M414.47 97.3V181.4M465.63 97.3V181.4M516.79 97.3V181.4M567.94 97.3V181.4M261.0 169.70H619.1M261.0 154.20H619.1M261.0 138.70H619.1M261.0 123.20H619.1M261.0 107.70H619.1" stroke="#000" stroke-opacity="0.09" stroke-width="0.6" fill="none"/>
<g><rect x="440.14" y="97.30" width="3.71" height="2.40" fill="#19068c"/><rect x="416.27" y="104.32" width="3.71" height="2.76" fill="#19068c"/><rect x="286.67" y="106.78" width="3.71" height="2.76" fill="#19068c"/><rect x="293.49" y="106.78" width="3.71" height="2.76" fill="#19068c"/><rect x="337.83" y="106.78" width="3.71" height="2.76" fill="#19068c"/><rect x="436.73" y="106.78" width="3.71" height="2.76" fill="#19068c"/><rect x="457.20" y="106.78" width="3.71" height="2.76" fill="#19068c"/><rect x="464.02" y="106.78" width="3.71" height="2.76" fill="#19068c"/><rect x="470.84" y="106.78" width="3.71" height="2.76" fill="#19068c"/><rect x="474.25" y="106.78" width="3.71" height="2.76" fill="#19068c"/><rect x="549.28" y="106.78" width="3.71" height="2.76" fill="#19068c"/><rect x="576.56" y="106.78" width="3.71" height="2.76" fill="#19068c"/><rect x="337.83" y="109.24" width="3.71" height="2.76" fill="#19068c"/><rect x="416.27" y="109.24" width="3.71" height="2.76" fill="#fa9b3d"/><rect x="419.68" y="109.24" width="3.71" height="2.76" fill="#fec029"/><rect x="423.09" y="109.24" width="3.71" height="2.76" fill="#d35171"/><rect x="433.32" y="109.24" width="3.71" height="2.76" fill="#8405a7"/><rect x="436.73" y="109.24" width="3.71" height="2.76" fill="#fa9b3d"/><rect x="457.20" y="109.24" width="3.71" height="2.76" fill="#5601a4"/><rect x="460.61" y="109.24" width="3.71" height="2.76" fill="#8405a7"/><rect x="464.02" y="109.24" width="3.71" height="2.76" fill="#8405a7"/><rect x="467.43" y="109.24" width="3.71" height="2.76" fill="#19068c"/><rect x="470.84" y="109.24" width="3.71" height="2.76" fill="#8405a7"/><rect x="474.25" y="109.24" width="3.71" height="2.76" fill="#8405a7"/><rect x="477.66" y="109.24" width="3.71" height="2.76" fill="#8405a7"/><rect x="515.18" y="109.24" width="3.71" height="2.76" fill="#19068c"/><rect x="518.59" y="109.24" width="3.71" height="2.76" fill="#19068c"/><rect x="532.23" y="109.24" width="3.71" height="2.76" fill="#19068c"/><rect x="617.49" y="109.24" width="1.61" height="2.76" fill="#19068c"/><rect x="371.94" y="111.70" width="3.71" height="2.76" fill="#19068c"/><rect x="406.04" y="111.70" width="3.71" height="2.76" fill="#19068c"/><rect x="412.86" y="111.70" width="3.71" height="2.76" fill="#19068c"/><rect x="416.27" y="111.70" width="3.71" height="2.76" fill="#fec029"/><rect x="419.68" y="111.70" width="3.71" height="2.76" fill="#f3ee27"/><rect x="423.09" y="111.70" width="3.71" height="2.76" fill="#f3ee27"/><rect x="426.50" y="111.70" width="3.71" height="2.76" fill="#fa9b3d"/><rect x="429.91" y="111.70" width="3.71" height="2.76" fill="#d35171"/><rect x="433.32" y="111.70" width="3.71" height="2.76" fill="#fa9b3d"/><rect x="436.73" y="111.70" width="3.71" height="2.76" fill="#fa9b3d"/><rect x="440.14" y="111.70" width="3.71" height="2.76" fill="#b12a90"/><rect x="443.56" y="111.70" width="3.71" height="2.76" fill="#8405a7"/><rect x="446.97" y="111.70" width="3.71" height="2.76" fill="#8405a7"/><rect x="450.38" y="111.70" width="3.71" height="2.76" fill="#8405a7"/><rect x="453.79" y="111.70" width="3.71" height="2.76" fill="#5601a4"/><rect x="457.20" y="111.70" width="3.71" height="2.76" fill="#b12a90"/><rect x="460.61" y="111.70" width="3.71" height="2.76" fill="#8405a7"/><rect x="464.02" y="111.70" width="3.71" height="2.76" fill="#d35171"/><rect x="467.43" y="111.70" width="3.71" height="2.76" fill="#d35171"/><rect x="470.84" y="111.70" width="3.71" height="2.76" fill="#8405a7"/><rect x="508.35" y="111.70" width="3.71" height="2.76" fill="#19068c"/><rect x="535.64" y="111.70" width="3.71" height="2.76" fill="#19068c"/><rect x="539.05" y="111.70" width="3.71" height="2.76" fill="#19068c"/><rect x="579.97" y="111.70" width="3.71" height="2.76" fill="#19068c"/><rect x="341.24" y="114.16" width="3.71" height="2.76" fill="#19068c"/><rect x="365.11" y="114.16" width="3.71" height="2.76" fill="#19068c"/><rect x="416.27" y="114.16" width="3.71" height="2.76" fill="#fec029"/><rect x="419.68" y="114.16" width="3.71" height="2.76" fill="#fa9b3d"/><rect x="423.09" y="114.16" width="3.71" height="2.76" fill="#fa9b3d"/><rect x="426.50" y="114.16" width="3.71" height="2.76" fill="#fa9b3d"/><rect x="429.91" y="114.16" width="3.71" height="2.76" fill="#fa9b3d"/><rect x="433.32" y="114.16" width="3.71" height="2.76" fill="#fec029"/><rect x="436.73" y="114.16" width="3.71" height="2.76" fill="#d35171"/><rect x="440.14" y="114.16" width="3.71" height="2.76" fill="#b12a90"/><rect x="443.56" y="114.16" width="3.71" height="2.76" fill="#8405a7"/><rect x="446.97" y="114.16" width="3.71" height="2.76" fill="#ed7953"/><rect x="450.38" y="114.16" width="3.71" height="2.76" fill="#d35171"/><rect x="453.79" y="114.16" width="3.71" height="2.76" fill="#d35171"/><rect x="457.20" y="114.16" width="3.71" height="2.76" fill="#ed7953"/><rect x="460.61" y="114.16" width="3.71" height="2.76" fill="#ed7953"/><rect x="464.02" y="114.16" width="3.71" height="2.76" fill="#d35171"/><rect x="467.43" y="114.16" width="3.71" height="2.76" fill="#19068c"/><rect x="539.05" y="114.16" width="3.71" height="2.76" fill="#19068c"/><rect x="416.27" y="116.62" width="3.71" height="2.76" fill="#fec029"/><rect x="419.68" y="116.62" width="3.71" height="2.76" fill="#fa9b3d"/><rect x="423.09" y="116.62" width="3.71" height="2.76" fill="#fa9b3d"/><rect x="426.50" y="116.62" width="3.71" height="2.76" fill="#fa9b3d"/><rect x="429.91" y="116.62" width="3.71" height="2.76" fill="#d35171"/><rect x="433.32" y="116.62" width="3.71" height="2.76" fill="#b12a90"/><rect x="436.73" y="116.62" width="3.71" height="2.76" fill="#d35171"/><rect x="440.14" y="116.62" width="3.71" height="2.76" fill="#8405a7"/><rect x="443.56" y="116.62" width="3.71" height="2.76" fill="#5601a4"/><rect x="446.97" y="116.62" width="3.71" height="2.76" fill="#fa9b3d"/><rect x="450.38" y="116.62" width="3.71" height="2.76" fill="#fa9b3d"/><rect x="453.79" y="116.62" width="3.71" height="2.76" fill="#d35171"/><rect x="457.20" y="116.62" width="3.71" height="2.76" fill="#8405a7"/><rect x="464.02" y="116.62" width="3.71" height="2.76" fill="#19068c"/><rect x="416.27" y="119.08" width="3.71" height="2.76" fill="#fa9b3d"/><rect x="419.68" y="119.08" width="3.71" height="2.76" fill="#fa9b3d"/><rect x="423.09" y="119.08" width="3.71" height="2.76" fill="#ed7953"/><rect x="426.50" y="119.08" width="3.71" height="2.76" fill="#d35171"/><rect x="429.91" y="119.08" width="3.71" height="2.76" fill="#d35171"/><rect x="433.32" y="119.08" width="3.71" height="2.76" fill="#8405a7"/><rect x="440.14" y="119.08" width="3.71" height="2.76" fill="#8405a7"/><rect x="446.97" y="119.08" width="3.71" height="2.76" fill="#ed7953"/><rect x="450.38" y="119.08" width="3.71" height="2.76" fill="#d35171"/><rect x="453.79" y="119.08" width="3.71" height="2.76" fill="#8405a7"/><rect x="416.27" y="121.54" width="3.71" height="2.76" fill="#d35171"/><rect x="419.68" y="121.54" width="3.71" height="2.76" fill="#b12a90"/><rect x="423.09" y="121.54" width="3.71" height="2.76" fill="#8405a7"/><rect x="426.50" y="121.54" width="3.71" height="2.76" fill="#5601a4"/><rect x="429.91" y="121.54" width="3.71" height="2.76" fill="#b12a90"/><rect x="440.14" y="121.54" width="3.71" height="2.76" fill="#19068c"/><rect x="443.56" y="121.54" width="3.71" height="2.76" fill="#19068c"/><rect x="446.97" y="121.54" width="3.71" height="2.76" fill="#8405a7"/><rect x="416.27" y="124.00" width="3.71" height="2.76" fill="#8405a7"/><rect x="423.09" y="124.00" width="3.71" height="2.76" fill="#19068c"/><rect x="426.50" y="124.00" width="3.71" height="2.76" fill="#19068c"/><rect x="416.27" y="126.46" width="3.71" height="2.76" fill="#8405a7"/><rect x="498.12" y="126.46" width="3.71" height="2.76" fill="#19068c"/><rect x="412.86" y="128.92" width="3.71" height="2.76" fill="#19068c"/><rect x="416.27" y="131.38" width="3.71" height="2.76" fill="#19068c"/><rect x="419.68" y="131.38" width="3.71" height="2.76" fill="#19068c"/><rect x="433.32" y="133.84" width="3.71" height="2.76" fill="#19068c"/><rect x="423.09" y="136.30" width="3.71" height="2.76" fill="#8405a7"/><rect x="522.00" y="136.30" width="3.71" height="2.76" fill="#19068c"/><rect x="416.27" y="138.76" width="3.71" height="2.76" fill="#19068c"/><rect x="419.68" y="141.22" width="3.71" height="2.76" fill="#19068c"/><rect x="423.09" y="141.22" width="3.71" height="2.76" fill="#19068c"/><rect x="433.32" y="143.68" width="3.71" height="2.76" fill="#19068c"/><rect x="446.97" y="143.68" width="3.71" height="2.76" fill="#19068c"/><rect x="532.23" y="143.68" width="3.71" height="2.76" fill="#19068c"/><rect x="416.27" y="146.14" width="3.71" height="2.76" fill="#8405a7"/><rect x="481.07" y="146.14" width="3.71" height="2.76" fill="#19068c"/><rect x="317.37" y="148.60" width="3.71" height="2.76" fill="#19068c"/><rect x="436.73" y="148.60" width="3.71" height="2.76" fill="#19068c"/><rect x="416.27" y="151.06" width="3.71" height="2.76" fill="#19068c"/><rect x="481.07" y="153.52" width="3.71" height="2.76" fill="#19068c"/><rect x="586.80" y="153.52" width="3.71" height="2.76" fill="#19068c"/><rect x="593.62" y="155.98" width="3.71" height="2.76" fill="#19068c"/><rect x="494.71" y="158.44" width="3.71" height="2.76" fill="#19068c"/><rect x="276.44" y="160.90" width="3.71" height="2.76" fill="#19068c"/><rect x="375.35" y="165.82" width="3.71" height="2.76" fill="#19068c"/></g>
<path d="M261.0 264.63H619.1M261.0 261.90H619.1M261.0 259.97H619.1M261.0 258.47H619.1M261.0 257.24H619.1M261.0 256.20H619.1M261.0 255.30H619.1M261.0 254.51H619.1M261.0 249.13H619.1M261.0 246.40H619.1M261.0 244.47H619.1M261.0 242.97H619.1M261.0 241.74H619.1M261.0 240.70H619.1M261.0 239.80H619.1M261.0 239.01H619.1M261.0 233.63H619.1M261.0 230.90H619.1M261.0 228.97H619.1M261.0 227.47H619.1M261.0 226.24H619.1M261.0 225.20H619.1M261.0 224.30H619.1M261.0 223.51H619.1M261.0 218.13H619.1M261.0 215.40H619.1M261.0 213.47H619.1M261.0 211.97H619.1M261.0 210.74H619.1M261.0 209.70H619.1M261.0 208.80H619.1M261.0 208.01H619.1M261.0 202.63H619.1M261.0 199.90H619.1M261.0 197.97H619.1M261.0 196.47H619.1M261.0 195.24H619.1M261.0 194.20H619.1M261.0 193.30H619.1M261.0 192.51H619.1M261.0 187.13H619.1M261.0 184.40H619.1M261.0 182.47H619.1" stroke="#000" stroke-opacity="0.10" stroke-width="0.6" stroke-dasharray="0.8 1.2" fill="none"/>
<path d="M312.16 181.4V265.5M363.31 181.4V265.5M414.47 181.4V265.5M465.63 181.4V265.5M516.79 181.4V265.5M567.94 181.4V265.5M261.0 253.80H619.1M261.0 238.30H619.1M261.0 222.80H619.1M261.0 207.30H619.1M261.0 191.80H619.1" stroke="#000" stroke-opacity="0.09" stroke-width="0.6" fill="none"/>
<g><rect x="416.27" y="190.88" width="3.71" height="2.76" fill="#fa9b3d"/><rect x="419.68" y="190.88" width="3.71" height="2.76" fill="#fec029"/><rect x="423.09" y="190.88" width="3.71" height="2.76" fill="#ed7953"/><rect x="433.32" y="190.88" width="3.71" height="2.76" fill="#5601a4"/><rect x="436.73" y="190.88" width="3.71" height="2.76" fill="#8405a7"/><rect x="470.84" y="190.88" width="3.71" height="2.76" fill="#8405a7"/><rect x="481.07" y="190.88" width="3.71" height="2.76" fill="#8405a7"/><rect x="484.48" y="190.88" width="3.71" height="2.76" fill="#8405a7"/><rect x="487.89" y="190.88" width="3.71" height="2.76" fill="#8405a7"/><rect x="416.27" y="193.34" width="3.71" height="2.76" fill="#fa9b3d"/><rect x="419.68" y="193.34" width="3.71" height="2.76" fill="#f3ee27"/><rect x="423.09" y="193.34" width="3.71" height="2.76" fill="#f3ee27"/><rect x="426.50" y="193.34" width="3.71" height="2.76" fill="#fec029"/><rect x="429.91" y="193.34" width="3.71" height="2.76" fill="#19068c"/><rect x="433.32" y="193.34" width="3.71" height="2.76" fill="#d35171"/><rect x="436.73" y="193.34" width="3.71" height="2.76" fill="#fa9b3d"/><rect x="440.14" y="193.34" width="3.71" height="2.76" fill="#19068c"/><rect x="443.56" y="193.34" width="3.71" height="2.76" fill="#d35171"/><rect x="446.97" y="193.34" width="3.71" height="2.76" fill="#19068c"/><rect x="450.38" y="193.34" width="3.71" height="2.76" fill="#ed7953"/><rect x="453.79" y="193.34" width="3.71" height="2.76" fill="#8405a7"/><rect x="457.20" y="193.34" width="3.71" height="2.76" fill="#fa9b3d"/><rect x="460.61" y="193.34" width="3.71" height="2.76" fill="#fa9b3d"/><rect x="464.02" y="193.34" width="3.71" height="2.76" fill="#ed7953"/><rect x="467.43" y="193.34" width="3.71" height="2.76" fill="#fa9b3d"/><rect x="470.84" y="193.34" width="3.71" height="2.76" fill="#ed7953"/><rect x="474.25" y="193.34" width="3.71" height="2.76" fill="#d35171"/><rect x="477.66" y="193.34" width="3.71" height="2.76" fill="#ed7953"/><rect x="481.07" y="193.34" width="3.71" height="2.76" fill="#d35171"/><rect x="484.48" y="193.34" width="3.71" height="2.76" fill="#b12a90"/><rect x="375.35" y="195.80" width="3.71" height="2.76" fill="#19068c"/><rect x="406.04" y="195.80" width="3.71" height="2.76" fill="#19068c"/><rect x="416.27" y="195.80" width="3.71" height="2.76" fill="#fa9b3d"/><rect x="419.68" y="195.80" width="3.71" height="2.76" fill="#fec029"/><rect x="423.09" y="195.80" width="3.71" height="2.76" fill="#f3ee27"/><rect x="426.50" y="195.80" width="3.71" height="2.76" fill="#fec029"/><rect x="429.91" y="195.80" width="3.71" height="2.76" fill="#fa9b3d"/><rect x="433.32" y="195.80" width="3.71" height="2.76" fill="#fa9b3d"/><rect x="436.73" y="195.80" width="3.71" height="2.76" fill="#fec029"/><rect x="440.14" y="195.80" width="3.71" height="2.76" fill="#b12a90"/><rect x="443.56" y="195.80" width="3.71" height="2.76" fill="#fa9b3d"/><rect x="446.97" y="195.80" width="3.71" height="2.76" fill="#d35171"/><rect x="450.38" y="195.80" width="3.71" height="2.76" fill="#fa9b3d"/><rect x="453.79" y="195.80" width="3.71" height="2.76" fill="#fec029"/><rect x="457.20" y="195.80" width="3.71" height="2.76" fill="#fec029"/><rect x="460.61" y="195.80" width="3.71" height="2.76" fill="#fa9b3d"/><rect x="464.02" y="195.80" width="3.71" height="2.76" fill="#fec029"/><rect x="467.43" y="195.80" width="3.71" height="2.76" fill="#fa9b3d"/><rect x="470.84" y="195.80" width="3.71" height="2.76" fill="#d35171"/><rect x="416.27" y="198.26" width="3.71" height="2.76" fill="#d35171"/><rect x="419.68" y="198.26" width="3.71" height="2.76" fill="#fa9b3d"/><rect x="423.09" y="198.26" width="3.71" height="2.76" fill="#fec029"/><rect x="426.50" y="198.26" width="3.71" height="2.76" fill="#fa9b3d"/><rect x="429.91" y="198.26" width="3.71" height="2.76" fill="#fa9b3d"/><rect x="433.32" y="198.26" width="3.71" height="2.76" fill="#fec029"/><rect x="436.73" y="198.26" width="3.71" height="2.76" fill="#f3ee27"/><rect x="440.14" y="198.26" width="3.71" height="2.76" fill="#fa9b3d"/><rect x="443.56" y="198.26" width="3.71" height="2.76" fill="#fa9b3d"/><rect x="446.97" y="198.26" width="3.71" height="2.76" fill="#fa9b3d"/><rect x="450.38" y="198.26" width="3.71" height="2.76" fill="#fec029"/><rect x="453.79" y="198.26" width="3.71" height="2.76" fill="#fec029"/><rect x="457.20" y="198.26" width="3.71" height="2.76" fill="#fa9b3d"/><rect x="460.61" y="198.26" width="3.71" height="2.76" fill="#fa9b3d"/><rect x="464.02" y="198.26" width="3.71" height="2.76" fill="#d35171"/><rect x="467.43" y="198.26" width="3.71" height="2.76" fill="#b12a90"/><rect x="470.84" y="198.26" width="3.71" height="2.76" fill="#19068c"/><rect x="518.59" y="198.26" width="3.71" height="2.76" fill="#19068c"/><rect x="416.27" y="200.72" width="3.71" height="2.76" fill="#d35171"/><rect x="419.68" y="200.72" width="3.71" height="2.76" fill="#ed7953"/><rect x="423.09" y="200.72" width="3.71" height="2.76" fill="#ed7953"/><rect x="426.50" y="200.72" width="3.71" height="2.76" fill="#ed7953"/><rect x="429.91" y="200.72" width="3.71" height="2.76" fill="#d35171"/><rect x="433.32" y="200.72" width="3.71" height="2.76" fill="#ed7953"/><rect x="436.73" y="200.72" width="3.71" height="2.76" fill="#fa9b3d"/><rect x="440.14" y="200.72" width="3.71" height="2.76" fill="#d35171"/><rect x="443.56" y="200.72" width="3.71" height="2.76" fill="#8405a7"/><rect x="446.97" y="200.72" width="3.71" height="2.76" fill="#fa9b3d"/><rect x="450.38" y="200.72" width="3.71" height="2.76" fill="#fa9b3d"/><rect x="453.79" y="200.72" width="3.71" height="2.76" fill="#d35171"/><rect x="457.20" y="200.72" width="3.71" height="2.76" fill="#b12a90"/><rect x="416.27" y="203.18" width="3.71" height="2.76" fill="#5601a4"/><rect x="419.68" y="203.18" width="3.71" height="2.76" fill="#8405a7"/><rect x="423.09" y="203.18" width="3.71" height="2.76" fill="#8405a7"/><rect x="426.50" y="203.18" width="3.71" height="2.76" fill="#8405a7"/><rect x="429.91" y="203.18" width="3.71" height="2.76" fill="#ed7953"/><rect x="433.32" y="203.18" width="3.71" height="2.76" fill="#ed7953"/><rect x="436.73" y="203.18" width="3.71" height="2.76" fill="#d35171"/><rect x="440.14" y="203.18" width="3.71" height="2.76" fill="#5601a4"/><rect x="446.97" y="203.18" width="3.71" height="2.76" fill="#d35171"/><rect x="450.38" y="203.18" width="3.71" height="2.76" fill="#d35171"/><rect x="453.79" y="203.18" width="3.71" height="2.76" fill="#19068c"/><rect x="426.50" y="205.64" width="3.71" height="2.76" fill="#19068c"/><rect x="429.91" y="205.64" width="3.71" height="2.76" fill="#19068c"/><rect x="433.32" y="205.64" width="3.71" height="2.76" fill="#19068c"/><rect x="423.09" y="208.10" width="3.71" height="2.76" fill="#19068c"/><rect x="429.91" y="208.10" width="3.71" height="2.76" fill="#19068c"/><rect x="436.73" y="208.10" width="3.71" height="2.76" fill="#19068c"/><rect x="443.56" y="208.10" width="3.71" height="2.76" fill="#19068c"/><rect x="293.49" y="210.56" width="3.71" height="2.76" fill="#19068c"/><rect x="569.74" y="210.56" width="3.71" height="2.76" fill="#19068c"/><rect x="416.27" y="213.02" width="3.71" height="2.76" fill="#19068c"/><rect x="419.68" y="213.02" width="3.71" height="2.76" fill="#19068c"/><rect x="423.09" y="213.02" width="3.71" height="2.76" fill="#19068c"/><rect x="436.73" y="213.02" width="3.71" height="2.76" fill="#6a00a8"/><rect x="440.14" y="213.02" width="3.71" height="2.76" fill="#19068c"/><rect x="446.97" y="213.02" width="3.71" height="2.76" fill="#19068c"/><rect x="324.19" y="215.48" width="3.71" height="2.76" fill="#19068c"/><rect x="416.27" y="215.48" width="3.71" height="2.76" fill="#6a00a8"/><rect x="419.68" y="215.48" width="3.71" height="2.76" fill="#6a00a8"/><rect x="436.73" y="215.48" width="3.71" height="2.76" fill="#19068c"/><rect x="450.38" y="215.48" width="3.71" height="2.76" fill="#19068c"/><rect x="453.79" y="215.48" width="3.71" height="2.76" fill="#19068c"/><rect x="460.61" y="215.48" width="3.71" height="2.76" fill="#19068c"/><rect x="464.02" y="215.48" width="3.71" height="2.76" fill="#19068c"/><rect x="474.25" y="215.48" width="3.71" height="2.76" fill="#19068c"/><rect x="508.35" y="215.48" width="3.71" height="2.76" fill="#19068c"/><rect x="545.87" y="215.48" width="3.71" height="2.76" fill="#19068c"/><rect x="416.27" y="217.94" width="3.71" height="2.76" fill="#6a00a8"/><rect x="419.68" y="217.94" width="3.71" height="2.76" fill="#9613a1"/><rect x="423.09" y="217.94" width="3.71" height="2.76" fill="#6a00a8"/><rect x="429.91" y="217.94" width="3.71" height="2.76" fill="#19068c"/><rect x="443.56" y="217.94" width="3.71" height="2.76" fill="#19068c"/><rect x="446.97" y="217.94" width="3.71" height="2.76" fill="#19068c"/><rect x="450.38" y="217.94" width="3.71" height="2.76" fill="#19068c"/><rect x="453.79" y="217.94" width="3.71" height="2.76" fill="#19068c"/><rect x="457.20" y="217.94" width="3.71" height="2.76" fill="#19068c"/><rect x="617.49" y="217.94" width="1.61" height="2.76" fill="#19068c"/><rect x="293.49" y="220.40" width="3.71" height="2.76" fill="#19068c"/><rect x="416.27" y="220.40" width="3.71" height="2.76" fill="#6a00a8"/><rect x="419.68" y="220.40" width="3.71" height="2.76" fill="#6a00a8"/><rect x="423.09" y="220.40" width="3.71" height="2.76" fill="#19068c"/><rect x="433.32" y="220.40" width="3.71" height="2.76" fill="#6a00a8"/><rect x="440.14" y="220.40" width="3.71" height="2.76" fill="#19068c"/><rect x="443.56" y="220.40" width="3.71" height="2.76" fill="#19068c"/><rect x="446.97" y="220.40" width="3.71" height="2.76" fill="#19068c"/><rect x="450.38" y="220.40" width="3.71" height="2.76" fill="#19068c"/><rect x="453.79" y="220.40" width="3.71" height="2.76" fill="#19068c"/><rect x="457.20" y="220.40" width="3.71" height="2.76" fill="#19068c"/><rect x="416.27" y="222.86" width="3.71" height="2.76" fill="#9613a1"/><rect x="419.68" y="222.86" width="3.71" height="2.76" fill="#6a00a8"/><rect x="423.09" y="222.86" width="3.71" height="2.76" fill="#6a00a8"/><rect x="426.50" y="222.86" width="3.71" height="2.76" fill="#19068c"/><rect x="433.32" y="222.86" width="3.71" height="2.76" fill="#6a00a8"/><rect x="440.14" y="222.86" width="3.71" height="2.76" fill="#19068c"/><rect x="446.97" y="222.86" width="3.71" height="2.76" fill="#19068c"/><rect x="450.38" y="222.86" width="3.71" height="2.76" fill="#19068c"/><rect x="453.79" y="222.86" width="3.71" height="2.76" fill="#19068c"/><rect x="457.20" y="222.86" width="3.71" height="2.76" fill="#19068c"/><rect x="460.61" y="222.86" width="3.71" height="2.76" fill="#19068c"/><rect x="481.07" y="222.86" width="3.71" height="2.76" fill="#19068c"/><rect x="327.60" y="225.32" width="3.71" height="2.76" fill="#19068c"/><rect x="358.29" y="225.32" width="3.71" height="2.76" fill="#19068c"/><rect x="412.86" y="225.32" width="3.71" height="2.76" fill="#19068c"/><rect x="416.27" y="225.32" width="3.71" height="2.76" fill="#9613a1"/><rect x="419.68" y="225.32" width="3.71" height="2.76" fill="#6a00a8"/><rect x="423.09" y="225.32" width="3.71" height="2.76" fill="#19068c"/><rect x="433.32" y="225.32" width="3.71" height="2.76" fill="#6a00a8"/><rect x="440.14" y="225.32" width="3.71" height="2.76" fill="#19068c"/><rect x="443.56" y="225.32" width="3.71" height="2.76" fill="#19068c"/><rect x="450.38" y="225.32" width="3.71" height="2.76" fill="#19068c"/><rect x="453.79" y="225.32" width="3.71" height="2.76" fill="#19068c"/><rect x="494.71" y="225.32" width="3.71" height="2.76" fill="#19068c"/><rect x="511.76" y="225.32" width="3.71" height="2.76" fill="#19068c"/><rect x="416.27" y="227.78" width="3.71" height="2.76" fill="#6a00a8"/><rect x="419.68" y="227.78" width="3.71" height="2.76" fill="#6a00a8"/><rect x="426.50" y="227.78" width="3.71" height="2.76" fill="#19068c"/><rect x="429.91" y="227.78" width="3.71" height="2.76" fill="#19068c"/><rect x="433.32" y="227.78" width="3.71" height="2.76" fill="#6a00a8"/><rect x="440.14" y="227.78" width="3.71" height="2.76" fill="#19068c"/><rect x="443.56" y="227.78" width="3.71" height="2.76" fill="#19068c"/><rect x="450.38" y="227.78" width="3.71" height="2.76" fill="#19068c"/><rect x="453.79" y="227.78" width="3.71" height="2.76" fill="#19068c"/><rect x="464.02" y="227.78" width="3.71" height="2.76" fill="#19068c"/><rect x="477.66" y="227.78" width="3.71" height="2.76" fill="#19068c"/><rect x="522.00" y="227.78" width="3.71" height="2.76" fill="#19068c"/><rect x="590.21" y="227.78" width="3.71" height="2.76" fill="#19068c"/><rect x="279.85" y="230.24" width="3.71" height="2.76" fill="#19068c"/><rect x="416.27" y="230.24" width="3.71" height="2.76" fill="#6a00a8"/><rect x="419.68" y="230.24" width="3.71" height="2.76" fill="#6a00a8"/><rect x="423.09" y="230.24" width="3.71" height="2.76" fill="#48039f"/><rect x="429.91" y="230.24" width="3.71" height="2.76" fill="#19068c"/><rect x="436.73" y="230.24" width="3.71" height="2.76" fill="#6a00a8"/><rect x="440.14" y="230.24" width="3.71" height="2.76" fill="#6a00a8"/><rect x="460.61" y="230.24" width="3.71" height="2.76" fill="#19068c"/><rect x="590.21" y="230.24" width="3.71" height="2.76" fill="#19068c"/><rect x="593.62" y="230.24" width="3.71" height="2.76" fill="#19068c"/><rect x="368.52" y="232.70" width="3.71" height="2.76" fill="#19068c"/><rect x="416.27" y="232.70" width="3.71" height="2.76" fill="#6a00a8"/><rect x="419.68" y="232.70" width="3.71" height="2.76" fill="#9613a1"/><rect x="423.09" y="232.70" width="3.71" height="2.76" fill="#6a00a8"/><rect x="429.91" y="232.70" width="3.71" height="2.76" fill="#19068c"/><rect x="433.32" y="232.70" width="3.71" height="2.76" fill="#19068c"/><rect x="436.73" y="232.70" width="3.71" height="2.76" fill="#48039f"/><rect x="440.14" y="232.70" width="3.71" height="2.76" fill="#19068c"/><rect x="446.97" y="232.70" width="3.71" height="2.76" fill="#6a00a8"/><rect x="450.38" y="232.70" width="3.71" height="2.76" fill="#19068c"/><rect x="457.20" y="232.70" width="3.71" height="2.76" fill="#19068c"/><rect x="460.61" y="232.70" width="3.71" height="2.76" fill="#19068c"/><rect x="464.02" y="232.70" width="3.71" height="2.76" fill="#19068c"/><rect x="470.84" y="232.70" width="3.71" height="2.76" fill="#19068c"/><rect x="317.37" y="235.16" width="3.71" height="2.76" fill="#19068c"/><rect x="416.27" y="235.16" width="3.71" height="2.76" fill="#6a00a8"/><rect x="419.68" y="235.16" width="3.71" height="2.76" fill="#19068c"/><rect x="423.09" y="235.16" width="3.71" height="2.76" fill="#19068c"/><rect x="429.91" y="235.16" width="3.71" height="2.76" fill="#19068c"/><rect x="433.32" y="235.16" width="3.71" height="2.76" fill="#19068c"/><rect x="440.14" y="235.16" width="3.71" height="2.76" fill="#19068c"/><rect x="464.02" y="235.16" width="3.71" height="2.76" fill="#19068c"/><rect x="269.62" y="237.62" width="3.71" height="2.76" fill="#19068c"/><rect x="276.44" y="237.62" width="3.71" height="2.76" fill="#19068c"/><rect x="337.83" y="237.62" width="3.71" height="2.76" fill="#19068c"/><rect x="375.35" y="237.62" width="3.71" height="2.76" fill="#19068c"/><rect x="416.27" y="237.62" width="3.71" height="2.76" fill="#19068c"/><rect x="419.68" y="237.62" width="3.71" height="2.76" fill="#19068c"/><rect x="423.09" y="237.62" width="3.71" height="2.76" fill="#19068c"/><rect x="440.14" y="237.62" width="3.71" height="2.76" fill="#19068c"/><rect x="446.97" y="237.62" width="3.71" height="2.76" fill="#48039f"/><rect x="460.61" y="237.62" width="3.71" height="2.76" fill="#19068c"/><rect x="474.25" y="237.62" width="3.71" height="2.76" fill="#19068c"/><rect x="416.27" y="240.08" width="3.71" height="2.76" fill="#6a00a8"/><rect x="419.68" y="240.08" width="3.71" height="2.76" fill="#19068c"/><rect x="429.91" y="240.08" width="3.71" height="2.76" fill="#19068c"/><rect x="433.32" y="240.08" width="3.71" height="2.76" fill="#19068c"/><rect x="453.79" y="240.08" width="3.71" height="2.76" fill="#19068c"/><rect x="457.20" y="240.08" width="3.71" height="2.76" fill="#19068c"/><rect x="365.11" y="242.54" width="3.71" height="2.76" fill="#19068c"/><rect x="419.68" y="242.54" width="3.71" height="2.76" fill="#19068c"/><rect x="429.91" y="242.54" width="3.71" height="2.76" fill="#19068c"/></g>
<path d="M261.00 315.41L264.34 311.04L267.75 313.06L271.16 317.76L274.57 313.06L277.98 317.76L281.39 315.41L284.80 317.76L288.21 317.76L291.62 315.41L295.03 319.77L298.44 316.08L301.85 315.41L305.26 314.40L308.67 313.73L312.08 313.06L315.49 314.40L318.90 315.41L322.31 310.37L325.73 311.04L329.14 313.06L332.55 310.37L335.96 313.73L339.37 316.41L342.78 310.37L346.19 313.06L349.60 315.41L353.01 317.76L356.42 313.06L359.83 311.04L363.24 308.02L366.65 312.05L370.06 314.40L373.47 315.41L376.88 316.08L380.29 312.05L383.70 316.08L387.11 313.06L390.52 313.73L393.93 317.76L397.35 319.44L400.76 317.09L404.17 312.72L407.58 315.41L410.99 318.76L414.40 317.09L417.81 305.02L421.09 327.35L424.70 343.61L427.99 329.32L431.44 328.83L434.89 342.79L438.33 332.61L441.78 336.71L445.07 339.18L448.51 348.70L451.96 344.10L455.41 338.68L458.86 326.86L462.14 317.83L465.59 314.22L469.04 312.90L472.32 310.11L475.77 309.29L479.22 315.04L482.50 314.22L485.95 308.80L489.40 307.16L492.85 307.65L496.30 300.10L499.75 305.51L503.19 310.11L506.60 311.04L510.01 301.97L513.43 299.62L516.84 302.98L520.25 304.66L523.66 308.69L527.07 316.08L530.48 305.33L533.89 304.66L537.30 312.05L540.71 310.37L544.12 310.37L547.53 314.40L550.94 311.04L554.35 308.69L557.76 308.02L561.17 308.69L564.58 311.38L567.99 307.01L571.40 312.72L574.81 310.37L578.22 308.02L581.63 306.34L585.05 305.67L588.46 310.37L591.87 309.36L595.28 308.69L598.69 305.33L602.10 311.04L605.51 312.05L608.92 304.66L612.33 301.97L615.74 305.33L619.10 313.00" fill="none" stroke="#000" stroke-width="0.6" stroke-linejoin="round"/>
<g fill="#000"><circle cx="261.00" cy="315.41" r="0.9"/><circle cx="264.34" cy="311.04" r="0.9"/><circle cx="267.75" cy="313.06" r="0.9"/><circle cx="271.16" cy="317.76" r="0.9"/><circle cx="274.57" cy="313.06" r="0.9"/><circle cx="277.98" cy="317.76" r="0.9"/><circle cx="281.39" cy="315.41" r="0.9"/><circle cx="284.80" cy="317.76" r="0.9"/><circle cx="288.21" cy="317.76" r="0.9"/><circle cx="291.62" cy="315.41" r="0.9"/><circle cx="295.03" cy="319.77" r="0.9"/><circle cx="298.44" cy="316.08" r="0.9"/><circle cx="301.85" cy="315.41" r="0.9"/><circle cx="305.26" cy="314.40" r="0.9"/><circle cx="308.67" cy="313.73" r="0.9"/><circle cx="312.08" cy="313.06" r="0.9"/><circle cx="315.49" cy="314.40" r="0.9"/><circle cx="318.90" cy="315.41" r="0.9"/><circle cx="322.31" cy="310.37" r="0.9"/><circle cx="325.73" cy="311.04" r="0.9"/><circle cx="329.14" cy="313.06" r="0.9"/><circle cx="332.55" cy="310.37" r="0.9"/><circle cx="335.96" cy="313.73" r="0.9"/><circle cx="339.37" cy="316.41" r="0.9"/><circle cx="342.78" cy="310.37" r="0.9"/><circle cx="346.19" cy="313.06" r="0.9"/><circle cx="349.60" cy="315.41" r="0.9"/><circle cx="353.01" cy="317.76" r="0.9"/><circle cx="356.42" cy="313.06" r="0.9"/><circle cx="359.83" cy="311.04" r="0.9"/><circle cx="363.24" cy="308.02" r="0.9"/><circle cx="366.65" cy="312.05" r="0.9"/><circle cx="370.06" cy="314.40" r="0.9"/><circle cx="373.47" cy="315.41" r="0.9"/><circle cx="376.88" cy="316.08" r="0.9"/><circle cx="380.29" cy="312.05" r="0.9"/><circle cx="383.70" cy="316.08" r="0.9"/><circle cx="387.11" cy="313.06" r="0.9"/><circle cx="390.52" cy="313.73" r="0.9"/><circle cx="393.93" cy="317.76" r="0.9"/><circle cx="397.35" cy="319.44" r="0.9"/><circle cx="400.76" cy="317.09" r="0.9"/><circle cx="404.17" cy="312.72" r="0.9"/><circle cx="407.58" cy="315.41" r="0.9"/><circle cx="410.99" cy="318.76" r="0.9"/><circle cx="414.40" cy="317.09" r="0.9"/><circle cx="417.81" cy="305.02" r="0.9"/><circle cx="421.09" cy="327.35" r="0.9"/><circle cx="424.70" cy="343.61" r="0.9"/><circle cx="427.99" cy="329.32" r="0.9"/><circle cx="431.44" cy="328.83" r="0.9"/><circle cx="434.89" cy="342.79" r="0.9"/><circle cx="438.33" cy="332.61" r="0.9"/><circle cx="441.78" cy="336.71" r="0.9"/><circle cx="445.07" cy="339.18" r="0.9"/><circle cx="448.51" cy="348.70" r="0.9"/><circle cx="451.96" cy="344.10" r="0.9"/><circle cx="455.41" cy="338.68" r="0.9"/><circle cx="458.86" cy="326.86" r="0.9"/><circle cx="462.14" cy="317.83" r="0.9"/><circle cx="465.59" cy="314.22" r="0.9"/><circle cx="469.04" cy="312.90" r="0.9"/><circle cx="472.32" cy="310.11" r="0.9"/><circle cx="475.77" cy="309.29" r="0.9"/><circle cx="479.22" cy="315.04" r="0.9"/><circle cx="482.50" cy="314.22" r="0.9"/><circle cx="485.95" cy="308.80" r="0.9"/><circle cx="489.40" cy="307.16" r="0.9"/><circle cx="492.85" cy="307.65" r="0.9"/><circle cx="496.30" cy="300.10" r="0.9"/><circle cx="499.75" cy="305.51" r="0.9"/><circle cx="503.19" cy="310.11" r="0.9"/><circle cx="506.60" cy="311.04" r="0.9"/><circle cx="510.01" cy="301.97" r="0.9"/><circle cx="513.43" cy="299.62" r="0.9"/><circle cx="516.84" cy="302.98" r="0.9"/><circle cx="520.25" cy="304.66" r="0.9"/><circle cx="523.66" cy="308.69" r="0.9"/><circle cx="527.07" cy="316.08" r="0.9"/><circle cx="530.48" cy="305.33" r="0.9"/><circle cx="533.89" cy="304.66" r="0.9"/><circle cx="537.30" cy="312.05" r="0.9"/><circle cx="540.71" cy="310.37" r="0.9"/><circle cx="544.12" cy="310.37" r="0.9"/><circle cx="547.53" cy="314.40" r="0.9"/><circle cx="550.94" cy="311.04" r="0.9"/><circle cx="554.35" cy="308.69" r="0.9"/><circle cx="557.76" cy="308.02" r="0.9"/><circle cx="561.17" cy="308.69" r="0.9"/><circle cx="564.58" cy="311.38" r="0.9"/><circle cx="567.99" cy="307.01" r="0.9"/><circle cx="571.40" cy="312.72" r="0.9"/><circle cx="574.81" cy="310.37" r="0.9"/><circle cx="578.22" cy="308.02" r="0.9"/><circle cx="581.63" cy="306.34" r="0.9"/><circle cx="585.05" cy="305.67" r="0.9"/><circle cx="588.46" cy="310.37" r="0.9"/><circle cx="591.87" cy="309.36" r="0.9"/><circle cx="595.28" cy="308.69" r="0.9"/><circle cx="598.69" cy="305.33" r="0.9"/><circle cx="602.10" cy="311.04" r="0.9"/><circle cx="605.51" cy="312.05" r="0.9"/><circle cx="608.92" cy="304.66" r="0.9"/><circle cx="612.33" cy="301.97" r="0.9"/><circle cx="615.74" cy="305.33" r="0.9"/><circle cx="619.10" cy="313.00" r="0.9"/></g>
<path d="M414.36 348.70L417.81 322.26L421.09 276.78L424.70 273.49L427.99 318.32L431.44 332.94L434.89 317.34L438.33 292.05L441.78 338.03L445.07 335.07L448.51 328.50L451.96 311.26L455.41 305.84L458.86 320.29L462.14 322.26L465.59 322.92L469.04 341.64L472.32 343.61L475.77 341.64L479.22 347.06L482.50 347.39L485.95 348.54L489.40 348.70L492.85 348.70" fill="none" stroke="#0000ff" stroke-width="0.7" stroke-linejoin="round"/>
<g fill="#0000ff"><circle cx="414.36" cy="348.70" r="1.4"/><circle cx="417.81" cy="322.26" r="1.4"/><circle cx="421.09" cy="276.78" r="1.4"/><circle cx="424.70" cy="273.49" r="1.4"/><circle cx="427.99" cy="318.32" r="1.4"/><circle cx="431.44" cy="332.94" r="1.4"/><circle cx="434.89" cy="317.34" r="1.4"/><circle cx="438.33" cy="292.05" r="1.4"/><circle cx="441.78" cy="338.03" r="1.4"/><circle cx="445.07" cy="335.07" r="1.4"/><circle cx="448.51" cy="328.50" r="1.4"/><circle cx="451.96" cy="311.26" r="1.4"/><circle cx="455.41" cy="305.84" r="1.4"/><circle cx="458.86" cy="320.29" r="1.4"/><circle cx="462.14" cy="322.26" r="1.4"/><circle cx="465.59" cy="322.92" r="1.4"/><circle cx="469.04" cy="341.64" r="1.4"/><circle cx="472.32" cy="343.61" r="1.4"/><circle cx="475.77" cy="341.64" r="1.4"/><circle cx="479.22" cy="347.06" r="1.4"/><circle cx="482.50" cy="347.39" r="1.4"/><circle cx="485.95" cy="348.54" r="1.4"/><circle cx="489.40" cy="348.70" r="1.4"/><circle cx="492.85" cy="348.70" r="1.4"/></g>
<path d="M414.36 348.70L417.81 303.05L421.09 307.65L424.70 317.34L427.99 337.21L431.44 338.68L434.89 332.28L438.33 341.97L441.78 347.06L445.07 347.39L448.51 336.22L451.96 340.00L455.41 344.59L458.86 345.74L462.14 346.07L465.59 347.39L469.04 347.88L472.32 348.21L475.77 348.54L479.22 348.70" fill="none" stroke="#ff0000" stroke-width="0.7" stroke-linejoin="round"/>
<g fill="#ff0000"><circle cx="414.36" cy="348.70" r="1.4"/><circle cx="417.81" cy="303.05" r="1.4"/><circle cx="421.09" cy="307.65" r="1.4"/><circle cx="424.70" cy="317.34" r="1.4"/><circle cx="427.99" cy="337.21" r="1.4"/><circle cx="431.44" cy="338.68" r="1.4"/><circle cx="434.89" cy="332.28" r="1.4"/><circle cx="438.33" cy="341.97" r="1.4"/><circle cx="441.78" cy="347.06" r="1.4"/><circle cx="445.07" cy="347.39" r="1.4"/><circle cx="448.51" cy="336.22" r="1.4"/><circle cx="451.96" cy="340.00" r="1.4"/><circle cx="455.41" cy="344.59" r="1.4"/><circle cx="458.86" cy="345.74" r="1.4"/><circle cx="462.14" cy="346.07" r="1.4"/><circle cx="465.59" cy="347.39" r="1.4"/><circle cx="469.04" cy="347.88" r="1.4"/><circle cx="472.32" cy="348.21" r="1.4"/><circle cx="475.77" cy="348.54" r="1.4"/><circle cx="479.22" cy="348.70" r="1.4"/></g>
<path d="M417.81 401.34L421.09 407.25L424.70 409.22L427.99 408.89L431.44 408.89L434.89 415.46L438.33 427.28L441.78 418.25L445.07 418.25L448.51 404.29L451.96 406.43L455.41 408.73L458.86 420.22L462.14 421.21L465.59 423.18L469.04 428.10L472.32 431.39L475.77 428.43L479.22 424.49" fill="none" stroke="#ff0000" stroke-width="0.7" stroke-linejoin="round"/>
<g fill="#ff0000"><circle cx="417.81" cy="401.34" r="1.4"/><circle cx="421.09" cy="407.25" r="1.4"/><circle cx="424.70" cy="409.22" r="1.4"/><circle cx="427.99" cy="408.89" r="1.4"/><circle cx="431.44" cy="408.89" r="1.4"/><circle cx="434.89" cy="415.46" r="1.4"/><circle cx="438.33" cy="427.28" r="1.4"/><circle cx="441.78" cy="418.25" r="1.4"/><circle cx="445.07" cy="418.25" r="1.4"/><circle cx="448.51" cy="404.29" r="1.4"/><circle cx="451.96" cy="406.43" r="1.4"/><circle cx="455.41" cy="408.73" r="1.4"/><circle cx="458.86" cy="420.22" r="1.4"/><circle cx="462.14" cy="421.21" r="1.4"/><circle cx="465.59" cy="423.18" r="1.4"/><circle cx="469.04" cy="428.10" r="1.4"/><circle cx="472.32" cy="431.39" r="1.4"/><circle cx="475.77" cy="428.43" r="1.4"/><circle cx="479.22" cy="424.49" r="1.4"/></g>
<path d="M417.81 397.40L421.09 403.47L424.70 402.98L427.99 401.50L431.44 397.72L434.89 400.68L438.33 406.43L441.78 402.32L445.07 409.55L448.51 398.05L451.96 400.19L455.41 400.68L458.86 405.61L462.14 405.93L465.59 407.25L469.04 412.17L472.32 412.50L475.77 414.97L479.22 417.76L482.50 416.11L485.95 410.37" fill="none" stroke="#0000ff" stroke-width="0.7" stroke-linejoin="round"/>
<g fill="#0000ff"><circle cx="417.81" cy="397.40" r="1.4"/><circle cx="421.09" cy="403.47" r="1.4"/><circle cx="424.70" cy="402.98" r="1.4"/><circle cx="427.99" cy="401.50" r="1.4"/><circle cx="431.44" cy="397.72" r="1.4"/><circle cx="434.89" cy="400.68" r="1.4"/><circle cx="438.33" cy="406.43" r="1.4"/><circle cx="441.78" cy="402.32" r="1.4"/><circle cx="445.07" cy="409.55" r="1.4"/><circle cx="448.51" cy="398.05" r="1.4"/><circle cx="451.96" cy="400.19" r="1.4"/><circle cx="455.41" cy="400.68" r="1.4"/><circle cx="458.86" cy="405.61" r="1.4"/><circle cx="462.14" cy="405.93" r="1.4"/><circle cx="465.59" cy="407.25" r="1.4"/><circle cx="469.04" cy="412.17" r="1.4"/><circle cx="472.32" cy="412.50" r="1.4"/><circle cx="475.77" cy="414.97" r="1.4"/><circle cx="479.22" cy="417.76" r="1.4"/><circle cx="482.50" cy="416.11" r="1.4"/><circle cx="485.95" cy="410.37" r="1.4"/></g>
<clipPath id="ch"><rect x="261.0" y="433.4" width="358.1" height="83.89999999999998"/></clipPath>
<g clip-path="url(#ch)">
<path d="M261.00 495.14L261.30 494.86L261.60 495.17L261.90 494.97L262.20 494.99L262.50 495.00L262.80 495.00L263.10 494.77L263.40 494.63L263.70 494.58L264.00 494.73L264.30 494.90L264.60 494.95L264.90 494.84L265.20 494.62L265.50 494.67L265.80 494.61L266.10 495.01L266.40 495.38L266.70 494.84L267.00 494.48L267.30 494.30L267.60 493.90L267.90 494.58L268.20 495.05L268.50 495.45L268.80 495.30L269.10 495.18L269.40 495.68L269.70 495.29L270.00 495.65L270.30 495.70L270.60 495.13L270.90 495.10L271.20 495.05L271.50 494.89L271.80 494.97L272.10 494.88L272.40 494.61L272.70 494.67L273.00 494.75L273.30 494.77L273.60 494.79L273.90 494.81L274.20 494.92L274.50 494.93L274.80 495.01L275.10 495.14L275.40 494.89L275.70 494.85L276.00 494.86L276.30 494.93L276.60 495.12L276.90 494.69L277.20 494.83L277.50 494.64L277.80 494.73L278.10 494.81L278.40 494.52L278.70 494.62L279.00 494.56L279.30 494.66L279.60 494.97L279.90 494.60L280.20 494.69L280.50 495.02L280.80 494.96L281.10 495.13L281.40 495.23L281.70 495.29L282.00 495.50L282.30 495.54L282.60 495.06L282.90 495.00L283.20 494.75L283.50 495.04L283.80 495.23L284.10 494.75L284.40 494.55L284.70 494.71L285.00 494.79L285.30 494.88L285.60 495.06L285.90 494.99L286.20 494.92L286.50 495.31L286.80 495.21L287.10 495.01L287.40 494.80L287.70 494.71L288.00 494.07L288.30 494.20L288.60 494.32L288.90 493.88L289.20 494.41L289.50 494.24L289.80 494.30L290.10 494.52L290.40 494.65L290.70 494.93L291.00 494.72L291.30 494.64L291.60 494.19L291.90 494.35L292.20 494.14L292.50 494.13L292.80 494.48L293.10 494.30L293.40 494.41L293.70 494.62L294.00 494.59L294.30 494.46L294.60 494.43L294.90 494.17L295.20 494.38L295.50 494.86L295.80 494.63L296.10 494.39L296.40 494.41L296.70 494.78L297.00 494.95L297.30 495.06L297.60 494.94L297.90 494.32L298.20 494.45L298.50 494.45L298.80 494.51L299.10 494.56L299.40 494.77L299.70 494.80L300.00 494.62L300.30 494.52L300.60 494.23L300.90 494.10L301.20 494.21L301.50 494.07L301.80 494.49L302.10 494.41L302.40 494.60L302.70 494.83L303.00 494.52L303.30 494.57L303.60 494.50L303.90 494.53L304.20 494.27L304.50 494.23L304.80 493.92L305.10 493.63L305.40 493.70L305.70 493.37L306.00 493.69L306.30 493.70L306.60 494.05L306.90 493.63L307.20 493.21L307.50 493.76L307.80 493.79L308.10 493.98L308.40 494.04L308.70 493.88L309.00 494.01L309.30 494.56L309.60 494.82L309.90 494.63L310.20 494.29L310.50 493.98L310.80 493.94L311.10 494.05L311.40 494.18L311.70 493.86L312.00 493.91L312.30 493.75L312.60 493.60L312.90 494.01L313.20 494.12L313.50 494.39L313.80 494.66L314.10 494.44L314.40 494.74L314.70 494.90L315.00 494.76L315.30 494.90L315.60 494.26L315.90 493.88L316.20 494.03L316.50 494.02L316.80 494.07L317.10 494.59L317.40 494.01L317.70 494.10L318.00 493.58L318.30 493.47L318.60 493.78L318.90 493.90L319.20 494.09L319.50 494.05L319.80 494.46L320.10 494.22L320.40 494.53L320.70 494.00L321.00 493.58L321.30 493.45L321.60 493.75L321.90 493.73L322.20 493.67L322.50 493.95L322.80 493.53L323.10 493.68L323.40 493.47L323.70 493.32L324.00 493.31L324.30 493.22L324.60 493.31L324.90 493.24L325.20 493.61L325.50 493.64L325.80 493.79L326.10 493.88L326.40 493.76L326.70 493.78L327.00 493.42L327.30 493.42L327.60 493.65L327.90 493.58L328.20 493.56L328.50 494.07L328.80 493.97L329.10 494.00L329.40 493.66L329.70 493.68L330.00 493.62L330.30 493.50L330.60 493.96L330.90 493.58L331.20 493.25L331.50 493.70L331.80 493.50L332.10 493.62L332.40 493.69L332.70 494.00L333.00 493.84L333.30 493.49L333.60 493.85L333.90 493.36L334.20 493.41L334.50 493.62L334.80 493.62L335.10 493.66L335.40 493.38L335.70 493.51L336.00 493.49L336.30 493.25L336.60 493.31L336.90 493.29L337.20 493.35L337.50 493.33L337.80 493.62L338.10 493.41L338.40 493.39L338.70 493.52L339.00 493.17L339.30 493.53L339.60 493.87L339.90 494.16L340.20 494.40L340.50 494.19L340.80 494.30L341.10 493.71L341.40 494.45L341.70 494.49L342.00 494.30L342.30 494.90L342.60 494.38L342.90 494.32L343.20 494.64L343.50 494.71L343.80 494.53L344.10 494.84L344.40 494.93L344.70 494.62L345.00 494.81L345.30 494.84L345.60 494.58L345.90 494.40L346.20 494.27L346.50 493.92L346.80 494.08L347.10 494.30L347.40 494.48L347.70 494.70L348.00 494.61L348.30 494.38L348.60 494.33L348.90 494.58L349.20 494.40L349.50 494.53L349.80 494.28L350.10 493.88L350.40 493.78L350.70 493.89L351.00 493.78L351.30 494.16L351.60 494.24L351.90 494.18L352.20 494.35L352.50 494.07L352.80 494.40L353.10 494.32L353.40 494.05L353.70 493.99L354.00 493.78L354.30 493.75L354.60 493.95L354.90 493.81L355.20 494.17L355.50 494.46L355.80 494.30L356.10 494.33L356.40 494.08L356.70 494.10L357.00 493.92L357.30 493.94L357.60 493.83L357.90 493.78L358.20 494.16L358.50 494.33L358.80 494.43L359.10 494.63L359.40 494.22L359.70 494.09L360.00 494.16L360.30 494.09L360.60 494.58L360.90 493.94L361.20 494.04L361.50 493.71L361.80 493.47L362.10 493.61L362.40 493.43L362.70 493.78L363.00 493.67L363.30 493.84L363.60 493.89L363.90 493.62L364.20 493.57L364.50 493.56L364.80 493.46L365.10 493.68L365.40 493.35L365.70 493.65L366.00 494.04L366.30 494.00L366.60 493.77L366.90 493.77L367.20 493.72L367.50 493.87L367.80 494.21L368.10 493.86L368.40 493.94L368.70 493.82L369.00 493.65L369.30 494.00L369.60 493.86L369.90 494.04L370.20 493.91L370.50 494.18L370.80 494.10L371.10 493.78L371.40 493.72L371.70 493.04L372.00 493.13L372.30 493.40L372.60 493.39L372.90 493.55L373.20 493.85L373.50 493.80L373.80 493.94L374.10 494.07L374.40 494.30L374.70 494.01L375.00 493.67L375.30 493.66L375.60 493.74L375.90 494.04L376.20 493.88L376.50 494.11L376.80 494.05L377.10 493.96L377.40 494.03L377.70 493.91L378.00 493.64L378.30 493.65L378.60 493.63L378.90 493.45L379.20 493.90L379.50 493.53L379.80 493.36L380.10 493.53L380.40 493.97L380.70 493.84L381.00 494.13L381.30 494.31L381.60 493.96L381.90 494.67L382.20 494.42L382.50 493.90L382.80 493.90L383.10 493.42L383.40 493.40L383.70 493.46L384.00 493.42L384.30 493.84L384.60 493.77L384.90 494.16L385.20 494.08L385.50 493.74L385.80 493.86L386.10 493.63L386.40 493.76L386.70 493.84L387.00 493.71L387.30 493.98L387.60 493.73L387.90 493.69L388.20 493.86L388.50 494.09L388.80 494.09L389.10 494.41L389.40 494.38L389.70 494.13L390.00 494.05L390.30 493.84L390.60 493.68L390.90 493.37L391.20 493.33L391.50 493.05L391.80 492.98L392.10 493.53L392.40 494.20L392.70 494.53L393.00 494.79L393.30 494.55L393.60 494.30L393.90 494.12L394.20 494.41L394.50 494.68L394.80 494.59L395.10 494.47L395.40 493.97L395.70 493.61L396.00 493.51L396.30 493.47L396.60 493.97L396.90 494.22L397.20 494.49L397.50 494.58L397.80 494.18L398.10 494.40L398.40 494.29L398.70 493.99L399.00 494.02L399.30 493.79L399.60 493.74L399.90 493.84L400.20 493.77L400.50 493.77L400.80 493.61L401.10 493.53L401.40 493.15L401.70 493.23L402.00 493.44L402.30 493.46L402.60 493.79L402.90 494.10L403.20 493.99L403.50 494.01L403.80 494.11L404.10 494.15L404.40 494.45L404.70 495.01L405.00 495.02L405.30 495.22L405.60 495.49L405.90 494.90L406.20 494.85L406.50 494.62L406.80 494.51L407.10 494.89L407.40 495.11L407.70 495.23L408.00 495.15L408.30 495.02L408.60 494.45L408.90 494.44L409.20 494.55L409.50 494.33L409.80 495.19L410.10 494.97L410.40 494.89L410.70 495.13L411.00 495.48L411.30 496.01L411.60 496.79L411.90 497.48L412.20 497.71L412.50 498.02L412.80 497.04L413.10 495.79L413.40 493.96L413.70 492.62L414.00 491.16L414.30 486.58L414.60 482.37L414.90 478.24L415.20 473.49L415.50 469.01L415.80 465.46L416.10 468.64L416.40 472.71L416.70 477.22L417.00 484.11L417.30 491.70L417.60 498.81L417.90 505.00L418.20 511.66L418.50 514.84L418.80 511.29L419.10 508.39L419.40 505.64L419.70 503.20L420.00 501.59L420.30 500.44L420.60 499.20L420.90 499.67L421.20 501.03L421.50 501.97L421.80 502.68L422.10 502.10L422.40 501.26L422.70 500.54L423.00 499.85L423.30 499.43L423.60 498.36L423.90 497.69L424.20 497.13L424.50 496.05L424.80 495.40L425.10 494.37L425.40 493.11L425.70 492.82L426.00 492.59L426.30 492.18L426.60 492.22L426.90 491.58L427.20 491.03L427.50 490.24L427.80 490.06L428.10 489.77L428.40 489.43L428.70 489.11L429.00 488.60L429.30 487.86L429.60 487.62L429.90 487.61L430.20 487.06L430.50 487.00L430.80 487.06L431.10 487.08L431.40 487.45L431.70 487.27L432.00 486.50L432.30 485.90L432.60 485.29L432.90 485.24L433.20 485.53L433.50 486.38L433.80 487.09L434.10 487.90L434.40 488.17L434.70 488.28L435.00 488.94L435.30 489.00L435.60 488.88L435.90 489.32L436.20 491.68L436.50 493.76L436.80 496.69L437.10 499.42L437.40 500.63L437.70 502.28L438.00 503.54L438.30 504.84L438.60 506.23L438.90 505.17L439.20 503.63L439.50 502.15L439.80 500.57L440.10 499.32L440.40 498.52L440.70 497.44L441.00 496.44L441.30 494.75L441.60 493.57L441.90 492.00L442.20 491.25L442.50 492.22L442.80 492.50L443.10 493.33L443.40 493.80L443.70 494.05L444.00 494.04L444.30 493.04L444.60 492.64L444.90 491.80L445.20 490.80L445.50 490.29L445.80 489.71L446.10 489.06L446.40 488.29L446.70 487.18L447.00 486.57L447.30 485.93L447.60 487.15L447.90 488.21L448.20 488.70L448.50 489.29L448.80 489.65L449.10 489.68L449.40 490.14L449.70 491.04L450.00 490.99L450.30 491.75L450.60 492.13L450.90 492.41L451.20 493.10L451.50 493.59L451.80 494.15L452.10 494.20L452.40 494.60L452.70 494.46L453.00 493.72L453.30 493.05L453.60 492.20L453.90 491.90L454.20 491.96L454.50 492.09L454.80 491.90L455.10 491.36L455.40 490.66L455.70 490.32L456.00 490.12L456.30 489.86L456.60 489.75L456.90 489.97L457.20 489.45L457.50 489.56L457.80 489.22L458.10 488.92L458.40 489.22L458.70 488.65L459.00 488.96L459.30 489.04L459.60 488.98L459.90 489.61L460.20 489.50L460.50 488.72L460.80 488.78L461.10 488.58L461.40 488.25L461.70 488.95L462.00 488.96L462.30 488.93L462.60 489.42L462.90 489.07L463.20 489.30L463.50 489.26L463.80 489.33L464.10 489.39L464.40 489.74L464.70 489.92L465.00 490.08L465.30 490.34L465.60 490.00L465.90 490.26L466.20 489.67L466.50 489.69L466.80 490.12L467.10 490.22L467.40 490.92L467.70 491.31L468.00 491.49L468.30 491.44L468.60 491.06L468.90 490.86L469.20 490.81L469.50 490.98L469.80 491.31L470.10 491.07L470.40 491.08L470.70 491.05L471.00 491.35L471.30 492.27L471.60 492.55L471.90 492.43L472.20 492.86L472.50 492.89L472.80 493.40L473.10 494.22L473.40 493.91L473.70 494.19L474.00 494.12L474.30 493.71L474.60 493.93L474.90 494.05L475.20 494.22L475.50 494.87L475.80 495.12L476.10 494.98L476.40 495.22L476.70 494.89L477.00 494.35L477.30 494.28L477.60 494.11L477.90 494.53L478.20 494.91L478.50 495.32L478.80 495.63L479.10 495.53L479.40 495.34L479.70 494.96L480.00 495.11L480.30 494.90L480.60 494.93L480.90 495.29L481.20 494.91L481.50 494.84L481.80 495.00L482.10 494.72L482.40 494.94L482.70 495.16L483.00 495.29L483.30 495.61L483.60 495.85L483.90 495.50L484.20 495.45L484.50 494.98L484.80 495.05L485.10 495.54L485.40 495.69L485.70 495.79L486.00 495.69L486.30 495.58L486.60 495.20L486.90 495.45L487.20 495.61L487.50 495.57L487.80 495.66L488.10 495.67L488.40 495.45L488.70 495.40L489.00 495.56L489.30 495.59L489.60 495.91L489.90 495.95L490.20 495.34L490.50 495.48L490.80 495.47L491.10 495.65L491.40 495.71L491.70 495.46L492.00 494.97L492.30 495.24L492.60 495.07L492.90 495.04L493.20 494.83L493.50 494.79L493.80 495.53L494.10 495.65L494.40 496.14L494.70 496.01L495.00 495.52L495.30 495.25L495.60 495.33L495.90 495.43L496.20 495.87L496.50 495.91L496.80 495.76L497.10 495.78L497.40 495.65L497.70 496.23L498.00 496.18L498.30 495.88L498.60 495.41L498.90 495.11L499.20 495.26L499.50 495.31L499.80 495.48L500.10 494.62L500.40 494.11L500.70 494.45L501.00 494.46L501.30 494.78L501.60 494.95L501.90 494.90L502.20 495.23L502.50 495.04L502.80 495.21L503.10 494.81L503.40 494.57L503.70 494.86L504.00 494.80L504.30 494.64L504.60 494.41L504.90 494.26L505.20 494.32L505.50 494.35L505.80 494.42L506.10 494.37L506.40 494.31L506.70 494.50L507.00 494.32L507.30 494.43L507.60 494.55L507.90 494.33L508.20 494.34L508.50 494.40L508.80 493.91L509.10 493.94L509.40 494.25L509.70 494.22L510.00 494.12L510.30 494.10L510.60 493.64L510.90 493.35L511.20 493.59L511.50 493.23L511.80 493.60L512.10 493.65L512.40 493.69L512.70 494.00L513.00 493.91L513.30 494.27L513.60 493.82L513.90 493.66L514.20 492.91L514.50 492.67L514.80 493.01L515.10 493.08L515.40 493.83L515.70 493.77L516.00 493.67L516.30 493.53L516.60 493.56L516.90 494.07L517.20 494.01L517.50 494.77L517.80 494.58L518.10 494.18L518.40 494.28L518.70 493.59L519.00 493.66L519.30 493.48L519.60 493.71L519.90 493.68L520.20 493.90L520.50 494.20L520.80 493.79L521.10 493.53L521.40 493.01L521.70 492.76L522.00 493.02L522.30 493.15L522.60 493.22L522.90 493.34L523.20 493.64L523.50 493.36L523.80 493.52L524.10 493.55L524.40 493.12L524.70 493.25L525.00 493.57L525.30 493.73L525.60 493.89L525.90 493.63L526.20 493.58L526.50 493.36L526.80 493.01L527.10 493.09L527.40 492.58L527.70 492.99L528.00 493.07L528.30 493.20L528.60 492.68L528.90 492.29L529.20 491.94L529.50 491.75L529.80 492.16L530.10 491.85L530.40 492.27L530.70 492.77L531.00 492.42L531.30 492.59L531.60 492.12L531.90 491.72L532.20 492.13L532.50 491.87L532.80 492.45L533.10 492.47L533.40 492.17L533.70 492.43L534.00 492.31L534.30 492.11L534.60 492.41L534.90 492.31L535.20 492.43L535.50 492.73L535.80 492.66L536.10 493.09L536.40 492.64L536.70 492.58L537.00 493.11L537.30 492.83L537.60 493.27L537.90 493.39L538.20 492.89L538.50 492.81L538.80 492.67L539.10 492.71L539.40 492.69L539.70 492.47L540.00 492.03L540.30 492.10L540.60 492.38L540.90 492.72L541.20 492.71L541.50 492.80L541.80 492.82L542.10 492.23L542.40 492.53L542.70 492.61L543.00 492.74L543.30 493.18L543.60 493.16L543.90 493.09L544.20 492.92L544.50 492.36L544.80 492.09L545.10 492.02L545.40 491.86L545.70 492.32L546.00 492.68L546.30 492.68L546.60 493.34L546.90 493.06L547.20 493.05L547.50 493.03L547.80 492.46L548.10 492.67L548.40 492.27L548.70 492.64L549.00 492.63L549.30 492.51L549.60 492.25L549.90 492.08L550.20 492.06L550.50 491.77L550.80 492.04L551.10 491.84L551.40 491.61L551.70 491.94L552.00 492.04L552.30 492.47L552.60 492.75L552.90 493.11L553.20 492.80L553.50 492.53L553.80 492.28L554.10 491.94L554.40 492.32L554.70 492.80L555.00 493.25L555.30 493.07L555.60 492.61L555.90 492.10L556.20 492.44L556.50 492.62L556.80 492.71L557.10 492.85L557.40 492.48L557.70 492.18L558.00 492.00L558.30 491.63L558.60 491.89L558.90 491.89L559.20 492.10L559.50 492.60L559.80 492.68L560.10 492.85L560.40 493.03L560.70 492.50L561.00 491.97L561.30 492.26L561.60 491.95L561.90 492.38L562.20 492.69L562.50 492.19L562.80 492.49L563.10 492.25L563.40 491.66L563.70 491.54L564.00 490.92L564.30 491.07L564.60 491.52L564.90 491.92L565.20 492.03L565.50 492.48L565.80 492.63L566.10 492.53L566.40 492.82L566.70 492.28L567.00 492.22L567.30 492.29L567.60 492.38L567.90 492.55L568.20 492.89L568.50 492.79L568.80 492.49L569.10 492.81L569.40 492.44L569.70 492.67L570.00 492.90L570.30 492.73L570.60 492.54L570.90 492.24L571.20 491.89L571.50 491.60L571.80 491.53L572.10 491.69L572.40 491.31L572.70 491.35L573.00 491.99L573.30 492.28L573.60 492.63L573.90 492.75L574.20 492.54L574.50 492.28L574.80 492.28L575.10 492.03L575.40 492.29L575.70 492.69L576.00 492.50L576.30 492.51L576.60 492.60L576.90 492.41L577.20 492.98L577.50 492.74L577.80 492.76L578.10 492.25L578.40 492.25L578.70 492.80L579.00 493.09L579.30 493.49L579.60 493.58L579.90 493.27L580.20 492.89L580.50 492.94L580.80 492.68L581.10 492.71L581.40 492.44L581.70 492.27L582.00 492.28L582.30 492.03L582.60 492.18L582.90 492.55L583.20 492.34L583.50 492.40L583.80 492.23L584.10 491.82L584.40 491.67L584.70 491.98L585.00 492.08L585.30 492.54L585.60 492.28L585.90 492.00L586.20 492.22L586.50 491.92L586.80 491.95L587.10 492.13L587.40 492.16L587.70 491.84L588.00 492.02L588.30 491.93L588.60 491.70L588.90 492.09L589.20 492.07L589.50 491.99L589.80 492.06L590.10 492.06L590.40 492.10L590.70 492.39L591.00 492.24L591.30 492.38L591.60 492.20L591.90 491.72L592.20 491.97L592.50 492.18L592.80 492.61L593.10 492.49L593.40 492.66L593.70 492.19L594.00 491.73L594.30 491.92L594.60 491.68L594.90 491.88L595.20 491.94L595.50 491.87L595.80 491.87L596.10 491.62L596.40 491.76L596.70 491.51L597.00 491.54L597.30 491.64L597.60 491.80L597.90 491.96L598.20 491.72L598.50 491.49L598.80 491.45L599.10 491.62L599.40 491.75L599.70 492.17L600.00 492.21L600.30 492.25L600.60 492.24L600.90 491.75L601.20 491.80L601.50 491.34L601.80 491.24L602.10 491.56L602.40 491.56L602.70 491.72L603.00 491.92L603.30 491.68L603.60 491.83L603.90 492.12L604.20 492.06L604.50 492.04L604.80 492.14L605.10 491.57L605.40 491.29L605.70 491.77L606.00 491.33L606.30 491.65L606.60 491.61L606.90 490.99L607.20 491.00L607.50 490.81L607.80 491.09L608.10 491.01L608.40 491.32L608.70 491.58L609.00 491.78L609.30 491.95L609.60 492.05L609.90 492.26L610.20 491.83L610.50 491.60L610.80 491.59L611.10 491.19L611.40 491.03L611.70 491.53L612.00 491.39L612.30 491.61L612.60 491.65L612.90 491.33L613.20 491.34L613.50 492.03L613.80 491.68L614.10 491.81L614.40 491.03L614.70 490.47L615.00 490.51L615.30 490.72L615.60 491.48L615.90 491.40L616.20 491.50L616.50 490.98L616.80 491.03L617.10 491.26L617.40 491.54L617.70 491.93L618.00 492.09L618.30 491.94L618.60 491.53L618.90 491.09" fill="none" stroke="#0000ff" stroke-width="0.7" stroke-linejoin="round"/>
<path d="M261.00 486.98L261.30 486.99L261.60 487.50L261.90 487.25L262.20 486.91L262.50 487.21L262.80 487.00L263.10 486.91L263.40 486.98L263.70 486.77L264.00 486.85L264.30 486.96L264.60 486.99L264.90 487.01L265.20 486.83L265.50 486.94L265.80 486.91L266.10 487.00L266.40 487.28L266.70 486.96L267.00 487.21L267.30 487.54L267.60 487.24L267.90 487.21L268.20 486.91L268.50 486.61L268.80 486.88L269.10 487.34L269.40 487.73L269.70 487.56L270.00 487.64L270.30 487.53L270.60 487.60L270.90 487.34L271.20 487.29L271.50 487.26L271.80 487.42L272.10 487.50L272.40 487.35L272.70 487.32L273.00 487.23L273.30 487.38L273.60 487.85L273.90 487.64L274.20 487.63L274.50 487.72L274.80 487.38L275.10 487.70L275.40 487.67L275.70 487.60L276.00 487.97L276.30 488.35L276.60 488.19L276.90 488.01L277.20 487.77L277.50 487.49L277.80 487.41L278.10 487.42L278.40 487.60L278.70 487.56L279.00 487.52L279.30 487.18L279.60 486.77L279.90 486.90L280.20 486.99L280.50 487.64L280.80 488.05L281.10 487.81L281.40 487.77L281.70 487.43L282.00 487.11L282.30 487.05L282.60 487.27L282.90 487.29L283.20 487.60L283.50 487.74L283.80 487.47L284.10 487.56L284.40 487.37L284.70 487.23L285.00 487.16L285.30 486.92L285.60 487.02L285.90 487.44L286.20 487.27L286.50 487.68L286.80 487.47L287.10 487.41L287.40 487.35L287.70 487.14L288.00 487.15L288.30 487.11L288.60 487.16L288.90 487.18L289.20 487.09L289.50 486.84L289.80 486.88L290.10 486.93L290.40 487.21L290.70 487.66L291.00 488.22L291.30 488.23L291.60 487.98L291.90 488.16L292.20 487.53L292.50 487.66L292.80 487.39L293.10 487.21L293.40 487.16L293.70 487.15L294.00 487.51L294.30 487.19L294.60 487.73L294.90 487.63L295.20 487.68L295.50 487.73L295.80 487.54L296.10 487.43L296.40 487.52L296.70 487.69L297.00 487.68L297.30 487.64L297.60 487.44L297.90 486.99L298.20 487.07L298.50 487.24L298.80 487.44L299.10 487.97L299.40 487.96L299.70 487.94L300.00 487.73L300.30 487.83L300.60 487.87L300.90 487.82L301.20 487.86L301.50 487.41L301.80 487.54L302.10 487.24L302.40 487.40L302.70 487.30L303.00 487.29L303.30 487.23L303.60 487.51L303.90 487.73L304.20 487.71L304.50 487.60L304.80 487.36L305.10 487.25L305.40 487.02L305.70 487.34L306.00 487.15L306.30 487.29L306.60 487.41L306.90 487.51L307.20 487.52L307.50 487.18L307.80 486.97L308.10 486.81L308.40 486.44L308.70 486.92L309.00 487.06L309.30 487.03L309.60 487.52L309.90 487.67L310.20 487.54L310.50 487.36L310.80 487.19L311.10 487.22L311.40 487.00L311.70 487.34L312.00 487.35L312.30 486.94L312.60 487.07L312.90 486.75L313.20 486.95L313.50 487.44L313.80 487.12L314.10 487.20L314.40 487.04L314.70 486.80L315.00 487.24L315.30 487.62L315.60 487.59L315.90 487.67L316.20 487.15L316.50 487.09L316.80 487.31L317.10 487.22L317.40 487.39L317.70 487.38L318.00 487.52L318.30 487.68L318.60 487.67L318.90 487.68L319.20 487.13L319.50 487.19L319.80 487.32L320.10 487.21L320.40 487.45L320.70 487.67L321.00 487.85L321.30 487.46L321.60 487.31L321.90 487.00L322.20 487.12L322.50 487.36L322.80 487.83L323.10 487.73L323.40 487.72L323.70 487.82L324.00 487.74L324.30 487.55L324.60 487.69L324.90 487.90L325.20 487.54L325.50 488.06L325.80 488.05L326.10 487.71L326.40 487.72L326.70 487.42L327.00 487.32L327.30 487.26L327.60 487.37L327.90 487.43L328.20 487.34L328.50 487.42L328.80 488.18L329.10 488.31L329.40 488.62L329.70 488.46L330.00 488.05L330.30 487.28L330.60 487.08L330.90 486.98L331.20 486.70L331.50 486.92L331.80 486.93L332.10 487.12L332.40 487.26L332.70 487.78L333.00 487.59L333.30 487.36L333.60 487.02L333.90 486.83L334.20 487.07L334.50 487.21L334.80 487.54L335.10 487.33L335.40 487.12L335.70 487.05L336.00 486.75L336.30 487.19L336.60 487.33L336.90 487.40L337.20 487.49L337.50 487.17L337.80 486.76L338.10 486.99L338.40 486.79L338.70 486.76L339.00 486.94L339.30 486.79L339.60 486.87L339.90 486.67L340.20 486.67L340.50 486.56L340.80 486.83L341.10 487.09L341.40 487.56L341.70 487.75L342.00 487.86L342.30 488.00L342.60 487.60L342.90 487.72L343.20 487.84L343.50 487.42L343.80 487.67L344.10 487.73L344.40 487.26L344.70 487.48L345.00 487.38L345.30 486.87L345.60 487.12L345.90 487.11L346.20 487.25L346.50 487.60L346.80 488.31L347.10 488.34L347.40 488.56L347.70 488.55L348.00 488.09L348.30 488.03L348.60 487.44L348.90 487.38L349.20 487.53L349.50 488.01L349.80 488.50L350.10 488.66L350.40 488.36L350.70 488.37L351.00 488.36L351.30 488.23L351.60 488.42L351.90 488.00L352.20 488.07L352.50 488.35L352.80 488.31L353.10 488.49L353.40 488.25L353.70 488.00L354.00 487.81L354.30 487.63L354.60 487.37L354.90 487.41L355.20 487.86L355.50 487.80L355.80 488.07L356.10 488.05L356.40 487.52L356.70 487.88L357.00 487.69L357.30 487.84L357.60 487.86L357.90 487.78L358.20 488.11L358.50 487.91L358.80 487.54L359.10 487.51L359.40 487.59L359.70 487.71L360.00 488.19L360.30 488.11L360.60 487.90L360.90 488.03L361.20 488.04L361.50 488.47L361.80 488.42L362.10 487.99L362.40 487.81L362.70 487.68L363.00 487.71L363.30 487.93L363.60 488.16L363.90 488.40L364.20 488.70L364.50 488.45L364.80 488.45L365.10 488.44L365.40 487.92L365.70 488.14L366.00 488.28L366.30 488.18L366.60 488.42L366.90 488.21L367.20 487.71L367.50 487.54L367.80 487.50L368.10 487.41L368.40 487.43L368.70 487.36L369.00 487.61L369.30 487.30L369.60 487.58L369.90 487.21L370.20 486.62L370.50 486.88L370.80 486.67L371.10 487.21L371.40 487.14L371.70 487.19L372.00 487.14L372.30 487.38L372.60 487.75L372.90 487.67L373.20 487.53L373.50 487.34L373.80 487.23L374.10 487.25L374.40 487.32L374.70 487.27L375.00 487.38L375.30 487.60L375.60 487.84L375.90 488.09L376.20 487.92L376.50 487.88L376.80 488.04L377.10 488.31L377.40 488.43L377.70 488.08L378.00 487.93L378.30 487.56L378.60 487.28L378.90 487.54L379.20 487.78L379.50 487.71L379.80 488.29L380.10 488.10L380.40 487.83L380.70 488.08L381.00 487.79L381.30 487.61L381.60 487.46L381.90 487.49L382.20 487.48L382.50 487.23L382.80 487.70L383.10 487.77L383.40 487.58L383.70 487.97L384.00 487.89L384.30 487.64L384.60 487.60L384.90 487.79L385.20 487.60L385.50 487.66L385.80 487.68L386.10 487.33L386.40 487.53L386.70 487.32L387.00 487.17L387.30 487.21L387.60 487.36L387.90 487.47L388.20 488.03L388.50 487.95L388.80 487.88L389.10 487.87L389.40 487.38L389.70 487.65L390.00 487.55L390.30 487.81L390.60 488.02L390.90 487.63L391.20 487.82L391.50 487.46L391.80 487.66L392.10 487.70L392.40 487.36L392.70 487.26L393.00 486.59L393.30 486.54L393.60 486.58L393.90 486.67L394.20 486.73L394.50 486.85L394.80 487.27L395.10 487.23L395.40 487.33L395.70 487.25L396.00 486.67L396.30 486.75L396.60 486.75L396.90 487.10L397.20 487.39L397.50 487.55L397.80 487.86L398.10 487.86L398.40 487.83L398.70 487.99L399.00 487.76L399.30 487.75L399.60 487.74L399.90 487.59L400.20 487.65L400.50 487.89L400.80 488.01L401.10 488.73L401.40 489.03L401.70 488.90L402.00 488.83L402.30 488.43L402.60 488.70L402.90 488.53L403.20 488.74L403.50 488.84L403.80 488.74L404.10 488.94L404.40 489.13L404.70 489.19L405.00 489.34L405.30 489.34L405.60 488.98L405.90 488.79L406.20 488.75L406.50 488.90L406.80 489.08L407.10 489.12L407.40 489.42L407.70 489.34L408.00 489.39L408.30 489.70L408.60 489.78L408.90 489.49L409.20 489.49L409.50 489.65L409.80 489.52L410.10 489.74L410.40 489.87L410.70 490.27L411.00 490.41L411.30 490.91L411.60 491.29L411.90 491.23L412.20 491.57L412.50 491.65L412.80 491.57L413.10 491.75L413.40 490.34L413.70 488.79L414.00 487.14L414.30 485.48L414.60 484.03L414.90 482.52L415.20 481.03L415.50 479.59L415.80 477.48L416.10 475.88L416.40 471.57L416.70 461.85L417.00 452.69L417.30 453.87L417.60 468.76L417.90 482.44L418.20 481.86L418.50 481.36L418.80 481.10L419.10 480.64L419.40 480.35L419.70 479.49L420.00 478.90L420.30 478.38L420.60 477.24L420.90 476.24L421.20 476.39L421.50 477.05L421.80 477.95L422.10 478.70L422.40 479.59L422.70 480.19L423.00 482.16L423.30 484.32L423.60 486.78L423.90 489.28L424.20 491.57L424.50 491.95L424.80 491.90L425.10 492.32L425.40 492.27L425.70 491.80L426.00 491.56L426.30 490.95L426.60 490.57L426.90 490.50L427.20 490.01L427.50 489.72L427.80 489.21L428.10 488.75L428.40 488.42L428.70 488.22L429.00 488.22L429.30 488.22L429.60 487.98L429.90 488.00L430.20 487.69L430.50 487.89L430.80 487.91L431.10 487.62L431.40 487.58L431.70 487.31L432.00 487.07L432.30 486.95L432.60 486.29L432.90 485.77L433.20 485.52L433.50 485.35L433.80 485.73L434.10 485.82L434.40 486.11L434.70 486.39L435.00 486.63L435.30 486.82L435.60 486.75L435.90 486.88L436.20 487.72L436.50 488.36L436.80 489.24L437.10 489.38L437.40 489.54L437.70 490.00L438.00 489.67L438.30 489.36L438.60 489.01L438.90 488.75L439.20 487.61L439.50 487.20L439.80 486.21L440.10 484.80L440.40 483.98L440.70 483.19L441.00 481.69L441.30 480.49L441.60 480.02L441.90 481.26L442.20 482.99L442.50 485.07L442.80 486.80L443.10 487.57L443.40 487.92L443.70 488.04L444.00 488.45L444.30 488.72L444.60 489.16L444.90 488.21L445.20 486.81L445.50 485.69L445.80 483.98L446.10 482.85L446.40 481.41L446.70 482.29L447.00 483.87L447.30 484.26L447.60 484.85L447.90 485.48L448.20 485.80L448.50 485.95L448.80 486.33L449.10 486.63L449.40 486.82L449.70 486.84L450.00 487.16L450.30 486.89L450.60 487.15L450.90 487.48L451.20 487.57L451.50 488.10L451.80 488.19L452.10 488.59L452.40 489.17L452.70 489.16L453.00 489.34L453.30 489.52L453.60 489.69L453.90 489.98L454.20 490.24L454.50 490.18L454.80 490.18L455.10 490.24L455.40 490.07L455.70 489.95L456.00 489.93L456.30 489.72L456.60 489.80L456.90 490.02L457.20 489.98L457.50 489.95L457.80 489.74L458.10 489.87L458.40 489.83L458.70 489.77L459.00 489.73L459.30 489.71L459.60 489.74L459.90 490.05L460.20 490.56L460.50 489.99L460.80 489.70L461.10 489.78L461.40 489.35L461.70 489.63L462.00 489.85L462.30 489.95L462.60 490.26L462.90 490.46L463.20 490.69L463.50 490.53L463.80 490.37L464.10 490.40L464.40 490.11L464.70 490.40L465.00 490.90L465.30 491.11L465.60 491.93L465.90 491.94L466.20 492.29L466.50 492.87L466.80 492.71L467.10 492.89L467.40 492.94L467.70 492.77L468.00 492.32L468.30 492.25L468.60 492.21L468.90 492.10L469.20 492.29L469.50 492.32L469.80 492.71L470.10 492.99L470.40 492.53L470.70 492.46L471.00 492.03L471.30 491.29L471.60 491.63L471.90 491.39L472.20 491.44L472.50 491.76L472.80 491.73L473.10 491.96L473.40 492.00L473.70 492.06L474.00 491.77L474.30 491.60L474.60 491.42L474.90 491.25L475.20 491.15L475.50 491.13L475.80 491.32L476.10 491.33L476.40 491.63L476.70 491.99L477.00 491.54L477.30 491.35L477.60 491.03L477.90 490.53L478.20 490.48L478.50 490.47L478.80 490.44L479.10 490.43L479.40 490.63L479.70 490.50L480.00 490.04L480.30 490.26L480.60 490.13L480.90 490.14L481.20 490.51L481.50 490.19L481.80 489.87L482.10 490.14L482.40 489.81L482.70 489.90L483.00 490.27L483.30 490.23L483.60 490.66L483.90 490.63L484.20 490.54L484.50 490.33L484.80 490.28L485.10 490.47L485.40 490.75L485.70 490.69L486.00 490.63L486.30 490.40L486.60 490.22L486.90 490.35L487.20 490.42L487.50 490.56L487.80 490.82L488.10 491.08L488.40 490.94L488.70 490.60L489.00 490.28L489.30 490.19L489.60 490.10L489.90 490.78L490.20 491.07L490.50 490.91L490.80 491.18L491.10 490.99L491.40 490.92L491.70 491.09L492.00 490.66L492.30 490.41L492.60 490.71L492.90 490.48L493.20 490.92L493.50 491.04L493.80 490.94L494.10 491.35L494.40 491.18L494.70 490.76L495.00 490.51L495.30 490.23L495.60 490.26L495.90 490.40L496.20 490.41L496.50 490.40L496.80 490.49L497.10 490.36L497.40 490.24L497.70 490.34L498.00 489.70L498.30 489.87L498.60 490.13L498.90 489.78L499.20 490.08L499.50 489.90L499.80 489.95L500.10 490.28L500.40 490.64L500.70 490.79L501.00 490.81L501.30 490.77L501.60 490.30L501.90 490.51L502.20 490.04L502.50 490.32L502.80 490.24L503.10 490.02L503.40 490.56L503.70 490.56L504.00 490.63L504.30 490.58L504.60 490.61L504.90 490.41L505.20 490.30L505.50 490.30L505.80 490.42L506.10 490.42L506.40 490.41L506.70 490.23L507.00 490.09L507.30 489.78L507.60 489.80L507.90 489.90L508.20 490.04L508.50 490.72L508.80 490.58L509.10 490.95L509.40 490.80L509.70 490.36L510.00 490.34L510.30 490.07L510.60 490.38L510.90 490.52L511.20 490.40L511.50 490.13L511.80 489.79L512.10 489.96L512.40 490.08L512.70 490.33L513.00 490.59L513.30 490.32L513.60 490.33L513.90 490.24L514.20 489.83L514.50 489.95L514.80 489.99L515.10 490.28L515.40 490.59L515.70 490.27L516.00 490.30L516.30 490.19L516.60 490.63L516.90 490.52L517.20 490.37L517.50 490.25L517.80 490.06L518.10 490.02L518.40 490.13L518.70 490.38L519.00 490.30L519.30 490.07L519.60 490.21L519.90 490.13L520.20 489.91L520.50 490.00L520.80 489.91L521.10 490.01L521.40 490.18L521.70 490.02L522.00 490.09L522.30 490.04L522.60 490.43L522.90 490.51L523.20 490.86L523.50 491.15L523.80 490.75L524.10 491.22L524.40 490.67L524.70 490.62L525.00 490.43L525.30 490.20L525.60 489.97L525.90 489.65L526.20 489.82L526.50 489.74L526.80 489.97L527.10 490.50L527.40 490.38L527.70 490.38L528.00 490.47L528.30 490.03L528.60 490.10L528.90 489.96L529.20 489.77L529.50 489.86L529.80 489.54L530.10 489.47L530.40 489.43L530.70 489.91L531.00 490.38L531.30 490.55L531.60 490.55L531.90 490.54L532.20 490.25L532.50 490.14L532.80 490.23L533.10 490.38L533.40 490.49L533.70 490.08L534.00 490.22L534.30 489.56L534.60 489.63L534.90 489.66L535.20 489.34L535.50 489.66L535.80 489.77L536.10 489.74L536.40 489.99L536.70 489.75L537.00 489.69L537.30 489.79L537.60 489.62L537.90 489.59L538.20 489.50L538.50 489.78L538.80 489.74L539.10 489.83L539.40 490.17L539.70 490.43L540.00 490.76L540.30 490.31L540.60 490.15L540.90 489.70L541.20 489.56L541.50 490.33L541.80 490.58L542.10 490.39L542.40 490.38L542.70 490.16L543.00 490.09L543.30 490.69L543.60 490.40L543.90 490.67L544.20 490.22L544.50 490.04L544.80 490.28L545.10 490.32L545.40 490.36L545.70 489.97L546.00 490.04L546.30 489.40L546.60 489.75L546.90 489.97L547.20 489.78L547.50 489.99L547.80 489.71L548.10 489.98L548.40 489.86L548.70 489.96L549.00 489.85L549.30 489.84L549.60 489.88L549.90 489.25L550.20 489.36L550.50 489.24L550.80 489.64L551.10 490.00L551.40 490.18L551.70 490.34L552.00 490.55L552.30 490.48L552.60 490.54L552.90 490.47L553.20 490.03L553.50 490.12L553.80 490.21L554.10 490.16L554.40 490.01L554.70 490.18L555.00 489.76L555.30 490.10L555.60 490.49L555.90 490.50L556.20 490.74L556.50 490.56L556.80 490.38L557.10 490.50L557.40 490.54L557.70 490.61L558.00 490.45L558.30 490.27L558.60 490.18L558.90 490.04L559.20 490.11L559.50 490.18L559.80 489.53L560.10 489.60L560.40 489.92L560.70 490.00L561.00 490.27L561.30 490.44L561.60 490.42L561.90 490.67L562.20 490.69L562.50 490.43L562.80 490.22L563.10 489.84L563.40 489.92L563.70 490.00L564.00 489.94L564.30 489.70L564.60 489.62L564.90 489.26L565.20 489.17L565.50 489.26L565.80 489.43L566.10 489.77L566.40 489.80L566.70 489.94L567.00 490.05L567.30 489.87L567.60 489.73L567.90 489.27L568.20 489.29L568.50 489.51L568.80 489.87L569.10 490.06L569.40 490.10L569.70 490.19L570.00 490.10L570.30 490.09L570.60 489.49L570.90 489.31L571.20 489.07L571.50 489.33L571.80 489.86L572.10 489.88L572.40 490.35L572.70 490.16L573.00 490.14L573.30 490.32L573.60 490.03L573.90 490.08L574.20 490.24L574.50 490.25L574.80 490.16L575.10 490.13L575.40 490.02L575.70 490.38L576.00 490.37L576.30 490.46L576.60 490.37L576.90 489.75L577.20 489.44L577.50 489.57L577.80 489.81L578.10 489.89L578.40 490.01L578.70 489.81L579.00 489.74L579.30 489.86L579.60 490.22L579.90 490.38L580.20 490.44L580.50 490.72L580.80 490.60L581.10 490.81L581.40 490.77L581.70 490.70L582.00 490.92L582.30 490.64L582.60 491.02L582.90 490.75L583.20 490.40L583.50 490.40L583.80 490.23L584.10 490.58L584.40 490.79L584.70 490.87L585.00 491.05L585.30 490.96L585.60 490.97L585.90 490.94L586.20 490.79L586.50 491.01L586.80 490.56L587.10 490.59L587.40 490.83L587.70 490.60L588.00 491.13L588.30 491.17L588.60 490.78L588.90 490.66L589.20 490.28L589.50 490.31L589.80 490.84L590.10 490.68L590.40 490.92L590.70 490.72L591.00 490.19L591.30 490.26L591.60 489.77L591.90 489.68L592.20 490.00L592.50 490.26L592.80 490.75L593.10 490.82L593.40 490.83L593.70 490.81L594.00 490.77L594.30 490.41L594.60 490.25L594.90 490.30L595.20 490.01L595.50 490.58L595.80 490.93L596.10 490.43L596.40 490.63L596.70 490.58L597.00 490.46L597.30 490.53L597.60 490.48L597.90 490.30L598.20 490.38L598.50 490.78L598.80 490.46L599.10 490.66L599.40 490.47L599.70 490.32L600.00 490.08L600.30 489.90L600.60 490.13L600.90 490.33L601.20 490.50L601.50 490.34L601.80 490.11L602.10 490.17L602.40 489.90L602.70 490.40L603.00 490.33L603.30 490.38L603.60 490.78L603.90 490.29L604.20 490.44L604.50 490.11L604.80 489.98L605.10 490.19L605.40 489.87L605.70 489.81L606.00 489.62L606.30 489.30L606.60 489.50L606.90 489.62L607.20 489.70L607.50 489.90L607.80 489.95L608.10 490.03L608.40 489.71L608.70 489.60L609.00 489.71L609.30 489.78L609.60 490.19L609.90 490.38L610.20 490.48L610.50 490.62L610.80 490.47L611.10 490.37L611.40 490.03L611.70 490.15L612.00 490.53L612.30 490.50L612.60 490.71L612.90 490.13L613.20 489.60L613.50 489.75L613.80 489.87L614.10 490.00L614.40 490.19L614.70 490.01L615.00 490.15L615.30 490.48L615.60 490.46L615.90 490.50L616.20 490.46L616.50 490.00L616.80 490.01L617.10 489.95L617.40 489.99L617.70 490.04L618.00 490.19L618.30 490.12L618.60 490.16L618.90 490.65" fill="none" stroke="#000" stroke-width="0.7" stroke-linejoin="round"/>
<path d="M261.00 471.78L261.30 471.37L261.60 471.47L261.90 471.37L262.20 471.99L262.50 472.44L262.80 472.45L263.10 472.62L263.40 471.82L263.70 471.61L264.00 471.65L264.30 471.73L264.60 471.96L264.90 472.27L265.20 472.26L265.50 472.14L265.80 472.51L266.10 472.56L266.40 472.50L266.70 472.42L267.00 472.28L267.30 472.53L267.60 472.51L267.90 472.56L268.20 472.56L268.50 472.06L268.80 472.00L269.10 472.28L269.40 472.19L269.70 472.30L270.00 472.48L270.30 471.57L270.60 471.63L270.90 471.45L271.20 471.03L271.50 471.70L271.80 471.70L272.10 471.86L272.40 472.10L272.70 471.86L273.00 471.77L273.30 472.07L273.60 472.28L273.90 472.47L274.20 472.70L274.50 472.34L274.80 472.08L275.10 472.11L275.40 471.94L275.70 471.99L276.00 472.09L276.30 472.13L276.60 471.56L276.90 471.62L277.20 471.91L277.50 471.70L277.80 472.17L278.10 471.83L278.40 471.98L278.70 471.92L279.00 471.76L279.30 472.17L279.60 472.16L279.90 472.12L280.20 472.23L280.50 472.05L280.80 471.71L281.10 472.37L281.40 472.21L281.70 472.27L282.00 472.14L282.30 472.25L282.60 472.60L282.90 472.37L283.20 472.30L283.50 472.45L283.80 472.53L284.10 472.81L284.40 473.55L284.70 473.28L285.00 472.93L285.30 472.54L285.60 472.22L285.90 472.54L286.20 472.38L286.50 472.24L286.80 472.23L287.10 471.96L287.40 472.32L287.70 472.17L288.00 471.91L288.30 471.81L288.60 472.01L288.90 472.42L289.20 472.80L289.50 472.77L289.80 472.54L290.10 472.33L290.40 472.31L290.70 472.27L291.00 472.26L291.30 472.26L291.60 472.16L291.90 472.39L292.20 472.85L292.50 473.03L292.80 473.20L293.10 472.77L293.40 472.08L293.70 471.61L294.00 471.41L294.30 471.30L294.60 471.67L294.90 471.87L295.20 471.54L295.50 471.79L295.80 471.46L296.10 471.28L296.40 471.66L296.70 472.21L297.00 472.33L297.30 472.48L297.60 472.32L297.90 472.26L298.20 472.39L298.50 472.51L298.80 472.24L299.10 471.84L299.40 471.62L299.70 471.62L300.00 471.87L300.30 471.75L300.60 471.84L300.90 471.73L301.20 471.46L301.50 471.46L301.80 471.64L302.10 471.94L302.40 472.04L302.70 472.12L303.00 471.84L303.30 471.29L303.60 471.37L303.90 471.67L304.20 472.02L304.50 472.42L304.80 472.36L305.10 472.24L305.40 471.88L305.70 471.80L306.00 471.77L306.30 471.46L306.60 471.79L306.90 471.63L307.20 471.50L307.50 471.86L307.80 471.91L308.10 471.96L308.40 472.19L308.70 472.09L309.00 472.51L309.30 472.08L309.60 472.02L309.90 471.75L310.20 471.45L310.50 471.95L310.80 472.05L311.10 472.40L311.40 472.33L311.70 472.52L312.00 472.33L312.30 472.04L312.60 472.20L312.90 471.78L313.20 472.12L313.50 472.36L313.80 472.61L314.10 472.65L314.40 472.12L314.70 471.92L315.00 471.64L315.30 471.71L315.60 471.83L315.90 471.86L316.20 472.04L316.50 472.03L316.80 472.19L317.10 472.06L317.40 471.59L317.70 471.68L318.00 471.39L318.30 471.56L318.60 471.92L318.90 472.11L319.20 472.34L319.50 472.57L319.80 472.31L320.10 472.26L320.40 472.01L320.70 471.39L321.00 471.44L321.30 471.09L321.60 471.28L321.90 471.57L322.20 471.71L322.50 472.04L322.80 471.81L323.10 471.80L323.40 471.54L323.70 471.51L324.00 471.67L324.30 471.54L324.60 471.50L324.90 471.38L325.20 471.45L325.50 471.05L325.80 471.06L326.10 471.02L326.40 471.19L326.70 471.75L327.00 471.32L327.30 471.71L327.60 471.57L327.90 471.08L328.20 471.59L328.50 471.54L328.80 471.28L329.10 471.38L329.40 471.26L329.70 471.36L330.00 471.36L330.30 471.60L330.60 471.74L330.90 471.46L331.20 471.46L331.50 471.39L331.80 471.02L332.10 471.71L332.40 471.89L332.70 471.86L333.00 471.82L333.30 471.44L333.60 471.94L333.90 472.09L334.20 472.26L334.50 472.34L334.80 471.97L335.10 472.48L335.40 472.42L335.70 472.49L336.00 472.53L336.30 472.14L336.60 472.00L336.90 472.25L337.20 472.23L337.50 472.04L337.80 472.17L338.10 471.78L338.40 471.97L338.70 472.24L339.00 472.66L339.30 472.79L339.60 472.79L339.90 472.71L340.20 472.80L340.50 472.57L340.80 472.55L341.10 472.60L341.40 472.65L341.70 472.50L342.00 472.42L342.30 472.49L342.60 472.64L342.90 472.54L343.20 472.62L343.50 472.42L343.80 472.16L344.10 471.95L344.40 472.02L344.70 472.38L345.00 471.95L345.30 472.58L345.60 472.60L345.90 472.22L346.20 472.43L346.50 471.89L346.80 471.66L347.10 472.20L347.40 472.03L347.70 472.66L348.00 472.76L348.30 472.69L348.60 472.80L348.90 472.06L349.20 471.99L349.50 471.87L349.80 471.57L350.10 471.74L350.40 471.85L350.70 471.70L351.00 471.51L351.30 471.64L351.60 471.64L351.90 471.70L352.20 472.23L352.50 472.80L352.80 472.64L353.10 472.48L353.40 471.98L353.70 471.59L354.00 471.80L354.30 472.16L354.60 472.49L354.90 472.43L355.20 472.34L355.50 472.13L355.80 471.91L356.10 471.76L356.40 471.39L356.70 471.38L357.00 471.22L357.30 471.31L357.60 471.90L357.90 471.96L358.20 472.75L358.50 473.18L358.80 472.89L359.10 473.07L359.40 472.62L359.70 472.23L360.00 472.61L360.30 472.31L360.60 471.77L360.90 472.00L361.20 471.61L361.50 471.86L361.80 472.32L362.10 471.82L362.40 472.20L362.70 471.74L363.00 471.89L363.30 472.29L363.60 472.02L363.90 472.12L364.20 472.09L364.50 472.00L364.80 471.85L365.10 471.82L365.40 471.93L365.70 472.22L366.00 472.33L366.30 472.14L366.60 472.11L366.90 471.45L367.20 471.38L367.50 471.50L367.80 471.69L368.10 471.77L368.40 471.59L368.70 471.08L369.00 470.71L369.30 471.01L369.60 470.82L369.90 471.22L370.20 471.08L370.50 470.96L370.80 471.05L371.10 470.96L371.40 471.36L371.70 471.35L372.00 471.36L372.30 471.47L372.60 471.75L372.90 471.83L373.20 471.72L373.50 471.74L373.80 471.37L374.10 471.57L374.40 471.66L374.70 471.98L375.00 472.15L375.30 472.18L375.60 472.38L375.90 472.29L376.20 471.95L376.50 471.83L376.80 471.78L377.10 471.85L377.40 472.61L377.70 472.46L378.00 472.36L378.30 472.23L378.60 472.40L378.90 472.51L379.20 472.56L379.50 472.43L379.80 472.18L380.10 472.44L380.40 472.70L380.70 472.81L381.00 473.25L381.30 473.29L381.60 473.31L381.90 473.50L382.20 473.43L382.50 473.30L382.80 473.26L383.10 472.99L383.40 472.91L383.70 472.80L384.00 472.83L384.30 472.62L384.60 472.45L384.90 472.47L385.20 472.00L385.50 472.34L385.80 472.28L386.10 472.19L386.40 472.06L386.70 472.04L387.00 472.03L387.30 472.18L387.60 472.29L387.90 472.47L388.20 472.26L388.50 472.32L388.80 472.13L389.10 471.88L389.40 471.71L389.70 471.13L390.00 471.27L390.30 471.60L390.60 471.68L390.90 471.79L391.20 472.07L391.50 471.64L391.80 471.73L392.10 471.49L392.40 471.06L392.70 471.38L393.00 471.41L393.30 471.53L393.60 471.79L393.90 471.74L394.20 471.80L394.50 472.01L394.80 472.34L395.10 472.12L395.40 472.12L395.70 472.05L396.00 472.01L396.30 472.35L396.60 472.75L396.90 472.74L397.20 472.52L397.50 472.48L397.80 472.12L398.10 472.32L398.40 472.72L398.70 472.47L399.00 472.44L399.30 472.22L399.60 472.36L399.90 472.99L400.20 472.85L400.50 472.90L400.80 471.94L401.10 471.49L401.40 471.52L401.70 471.45L402.00 471.95L402.30 471.46L402.60 471.42L402.90 471.69L403.20 471.22L403.50 471.64L403.80 471.89L404.10 471.42L404.40 471.24L404.70 471.08L405.00 470.92L405.30 470.86L405.60 471.02L405.90 470.88L406.20 470.81L406.50 471.25L406.80 471.43L407.10 471.71L407.40 471.93L407.70 471.96L408.00 472.09L408.30 471.96L408.60 472.05L408.90 471.70L409.20 471.78L409.50 471.56L409.80 471.90L410.10 472.20L410.40 472.11L410.70 472.11L411.00 472.16L411.30 472.36L411.60 472.02L411.90 471.99L412.20 471.69L412.50 474.90L412.80 478.82L413.10 482.80L413.40 487.29L413.70 491.14L414.00 495.05L414.30 492.33L414.60 488.98L414.90 485.82L415.20 482.70L415.50 479.58L415.80 476.56L416.10 473.91L416.40 471.30L416.70 468.56L417.00 465.90L417.30 463.63L417.60 462.82L417.90 467.31L418.20 471.45L418.50 474.01L418.80 474.66L419.10 475.45L419.40 476.34L419.70 477.45L420.00 478.12L420.30 478.45L420.60 478.11L420.90 477.33L421.20 476.93L421.50 475.90L421.80 474.99L422.10 474.93L422.40 475.85L422.70 476.35L423.00 477.09L423.30 478.20L423.60 478.69L423.90 479.52L424.20 480.05L424.50 480.65L424.80 481.37L425.10 481.92L425.40 481.99L425.70 483.00L426.00 483.80L426.30 484.41L426.60 485.81L426.90 485.98L427.20 486.47L427.50 487.44L427.80 488.15L428.10 488.25L428.40 486.99L428.70 485.76L429.00 485.08L429.30 484.69L429.60 484.48L429.90 484.01L430.20 482.79L430.50 482.24L430.80 482.40L431.10 483.03L431.40 483.84L431.70 484.40L432.00 484.97L432.30 485.41L432.60 485.69L432.90 486.05L433.20 485.70L433.50 485.24L433.80 484.69L434.10 484.08L434.40 484.30L434.70 484.71L435.00 484.47L435.30 483.98L435.60 483.56L435.90 482.64L436.20 482.68L436.50 482.49L436.80 481.94L437.10 481.88L437.40 481.36L437.70 481.02L438.00 479.69L438.30 478.58L438.60 477.62L438.90 476.68L439.20 476.16L439.50 475.09L439.80 474.06L440.10 472.95L440.40 471.86L440.70 471.57L441.00 471.07L441.30 470.89L441.60 470.43L441.90 469.73L442.20 469.65L442.50 469.59L442.80 469.92L443.10 469.94L443.40 470.76L443.70 471.47L444.00 471.03L444.30 470.71L444.60 470.21L444.90 469.52L445.20 468.59L445.50 467.76L445.80 466.68L446.10 466.22L446.40 466.00L446.70 466.42L447.00 466.51L447.30 466.71L447.60 467.04L447.90 467.04L448.20 467.14L448.50 466.97L448.80 467.05L449.10 467.21L449.40 467.28L449.70 467.74L450.00 467.80L450.30 467.45L450.60 467.96L450.90 467.75L451.20 468.56L451.50 469.34L451.80 469.83L452.10 470.39L452.40 470.82L452.70 471.79L453.00 472.78L453.30 473.81L453.60 474.61L453.90 475.32L454.20 475.87L454.50 476.47L454.80 477.15L455.10 477.84L455.40 478.54L455.70 479.05L456.00 479.30L456.30 479.78L456.60 480.62L456.90 481.26L457.20 481.93L457.50 482.48L457.80 482.44L458.10 482.24L458.40 482.36L458.70 482.39L459.00 482.56L459.30 483.18L459.60 483.69L459.90 484.50L460.20 484.60L460.50 484.89L460.80 484.65L461.10 484.80L461.40 484.97L461.70 485.19L462.00 485.75L462.30 485.88L462.60 486.52L462.90 486.43L463.20 485.86L463.50 485.61L463.80 485.45L464.10 484.92L464.40 484.72L464.70 483.94L465.00 483.36L465.30 483.39L465.60 483.08L465.90 482.85L466.20 482.36L466.50 481.84L466.80 481.65L467.10 481.58L467.40 481.44L467.70 480.71L468.00 480.45L468.30 479.94L468.60 479.43L468.90 479.38L469.20 478.24L469.50 477.68L469.80 477.30L470.10 476.88L470.40 477.49L470.70 477.43L471.00 476.97L471.30 476.72L471.60 476.37L471.90 476.25L472.20 476.16L472.50 475.80L472.80 475.59L473.10 475.56L473.40 475.51L473.70 475.29L474.00 475.26L474.30 474.47L474.60 474.23L474.90 474.89L475.20 474.27L475.50 474.83L475.80 474.66L476.10 474.46L476.40 474.08L476.70 474.00L477.00 474.44L477.30 473.95L477.60 474.29L477.90 473.99L478.20 473.56L478.50 473.82L478.80 473.47L479.10 473.68L479.40 473.90L479.70 473.67L480.00 473.49L480.30 473.24L480.60 472.90L480.90 473.00L481.20 472.98L481.50 473.06L481.80 473.00L482.10 472.63L482.40 473.00L482.70 472.70L483.00 472.78L483.30 473.12L483.60 472.75L483.90 472.88L484.20 472.73L484.50 472.30L484.80 472.18L485.10 472.02L485.40 472.20L485.70 472.44L486.00 472.78L486.30 472.79L486.60 473.01L486.90 472.88L487.20 472.67L487.50 472.29L487.80 471.84L488.10 471.95L488.40 472.16L488.70 472.51L489.00 472.82L489.30 473.04L489.60 472.64L489.90 472.48L490.20 472.46L490.50 471.98L490.80 472.15L491.10 472.60L491.40 472.74L491.70 472.68L492.00 472.57L492.30 472.19L492.60 471.82L492.90 471.97L493.20 472.11L493.50 472.21L493.80 472.63L494.10 472.38L494.40 471.97L494.70 472.11L495.00 472.21L495.30 472.20L495.60 472.60L495.90 472.43L496.20 472.31L496.50 472.70L496.80 472.48L497.10 472.46L497.40 472.46L497.70 472.39L498.00 472.09L498.30 471.57L498.60 471.47L498.90 471.26L499.20 471.55L499.50 472.36L499.80 472.54L500.10 472.83L500.40 472.80L500.70 472.92L501.00 472.77L501.30 472.99L501.60 473.16L501.90 473.11L502.20 473.55L502.50 473.33L502.80 473.38L503.10 473.15L503.40 472.81L503.70 472.61L504.00 472.49L504.30 472.50L504.60 472.61L504.90 472.49L505.20 472.66L505.50 473.17L505.80 473.18L506.10 473.85L506.40 473.66L506.70 473.67L507.00 473.62L507.30 472.95L507.60 473.04L507.90 472.42L508.20 472.18L508.50 472.27L508.80 471.57L509.10 471.57L509.40 471.51L509.70 471.87L510.00 472.21L510.30 471.88L510.60 471.81L510.90 471.36L511.20 470.89L511.50 470.96L511.80 471.09L512.10 470.98L512.40 471.04L512.70 471.19L513.00 471.44L513.30 471.87L513.60 471.99L513.90 472.18L514.20 471.75L514.50 471.60L514.80 471.49L515.10 471.40L515.40 471.39L515.70 471.08L516.00 471.22L516.30 471.10L516.60 471.04L516.90 471.02L517.20 471.06L517.50 470.94L517.80 471.15L518.10 471.20L518.40 471.06L518.70 471.29L519.00 471.45L519.30 471.20L519.60 470.84L519.90 470.50L520.20 470.58L520.50 471.00L520.80 471.71L521.10 471.52L521.40 471.16L521.70 471.30L522.00 471.17L522.30 471.29L522.60 471.30L522.90 471.18L523.20 470.99L523.50 470.99L523.80 471.07L524.10 470.85L524.40 470.84L524.70 470.96L525.00 471.30L525.30 471.36L525.60 471.20L525.90 470.93L526.20 471.13L526.50 470.98L526.80 471.00L527.10 471.28L527.40 471.24L527.70 471.49L528.00 471.94L528.30 471.90L528.60 471.92L528.90 472.09L529.20 472.19L529.50 472.00L529.80 472.21L530.10 472.14L530.40 471.99L530.70 471.68L531.00 471.10L531.30 471.43L531.60 471.14L531.90 471.41L532.20 471.37L532.50 471.48L532.80 471.52L533.10 471.24L533.40 471.49L533.70 471.44L534.00 471.24L534.30 471.48L534.60 471.89L534.90 471.89L535.20 472.13L535.50 471.86L535.80 471.57L536.10 471.16L536.40 470.67L536.70 470.69L537.00 470.34L537.30 470.96L537.60 471.44L537.90 471.29L538.20 471.25L538.50 471.11L538.80 470.82L539.10 470.89L539.40 471.12L539.70 471.05L540.00 471.14L540.30 471.33L540.60 471.54L540.90 471.75L541.20 471.42L541.50 471.86L541.80 471.71L542.10 471.56L542.40 471.62L542.70 471.10L543.00 470.91L543.30 470.71L543.60 470.95L543.90 470.88L544.20 470.65L544.50 470.62L544.80 470.57L545.10 470.52L545.40 470.59L545.70 470.59L546.00 470.41L546.30 469.97L546.60 469.85L546.90 470.27L547.20 470.24L547.50 470.44L547.80 470.51L548.10 470.38L548.40 470.66L548.70 470.55L549.00 470.86L549.30 470.39L549.60 470.25L549.90 470.64L550.20 470.47L550.50 470.88L550.80 470.63L551.10 470.38L551.40 470.57L551.70 470.15L552.00 470.11L552.30 470.03L552.60 469.92L552.90 470.02L553.20 470.48L553.50 470.33L553.80 470.26L554.10 470.31L554.40 469.99L554.70 470.21L555.00 470.41L555.30 470.74L555.60 470.35L555.90 469.94L556.20 469.74L556.50 469.72L556.80 470.05L557.10 469.75L557.40 470.43L557.70 470.23L558.00 470.15L558.30 470.72L558.60 470.37L558.90 470.58L559.20 469.98L559.50 469.72L559.80 469.70L560.10 469.72L560.40 470.19L560.70 470.04L561.00 470.03L561.30 470.42L561.60 470.57L561.90 470.92L562.20 470.64L562.50 470.26L562.80 470.31L563.10 470.42L563.40 470.60L563.70 470.99L564.00 470.98L564.30 470.93L564.60 470.75L564.90 470.54L565.20 470.33L565.50 470.46L565.80 470.20L566.10 470.22L566.40 470.58L566.70 470.13L567.00 470.31L567.30 470.41L567.60 470.24L567.90 470.41L568.20 469.98L568.50 469.46L568.80 469.43L569.10 469.13L569.40 469.37L569.70 469.77L570.00 469.78L570.30 470.00L570.60 470.07L570.90 470.19L571.20 470.47L571.50 470.47L571.80 470.13L572.10 469.92L572.40 469.90L572.70 469.80L573.00 469.83L573.30 469.69L573.60 469.21L573.90 468.88L574.20 468.75L574.50 469.28L574.80 470.05L575.10 470.24L575.40 470.04L575.70 469.95L576.00 469.78L576.30 469.74L576.60 470.21L576.90 470.12L577.20 470.34L577.50 470.59L577.80 470.54L578.10 470.53L578.40 470.07L578.70 470.02L579.00 469.64L579.30 469.58L579.60 469.56L579.90 469.30L580.20 469.40L580.50 469.71L580.80 470.21L581.10 470.59L581.40 470.15L581.70 469.84L582.00 469.55L582.30 469.34L582.60 469.38L582.90 469.44L583.20 469.59L583.50 469.40L583.80 469.73L584.10 469.98L584.40 470.03L584.70 470.47L585.00 470.66L585.30 470.43L585.60 470.50L585.90 470.21L586.20 470.28L586.50 470.19L586.80 469.96L587.10 470.12L587.40 469.81L587.70 469.80L588.00 470.12L588.30 470.19L588.60 470.24L588.90 470.30L589.20 470.36L589.50 469.93L589.80 469.67L590.10 469.85L590.40 469.78L590.70 469.67L591.00 469.67L591.30 469.50L591.60 469.21L591.90 469.73L592.20 470.00L592.50 470.06L592.80 469.98L593.10 469.99L593.40 470.39L593.70 470.04L594.00 470.57L594.30 470.74L594.60 470.60L594.90 470.69L595.20 470.35L595.50 469.90L595.80 470.07L596.10 470.37L596.40 470.81L596.70 471.34L597.00 471.46L597.30 471.11L597.60 470.85L597.90 470.74L598.20 470.67L598.50 470.72L598.80 470.56L599.10 470.34L599.40 470.00L599.70 470.04L600.00 470.25L600.30 470.18L600.60 470.49L600.90 470.44L601.20 470.91L601.50 470.75L601.80 470.22L602.10 470.50L602.40 470.49L602.70 471.19L603.00 471.66L603.30 471.53L603.60 471.20L603.90 470.66L604.20 470.36L604.50 470.32L604.80 470.13L605.10 470.74L605.40 470.66L605.70 470.41L606.00 470.63L606.30 470.22L606.60 470.20L606.90 470.08L607.20 469.74L607.50 470.14L607.80 470.59L608.10 470.96L608.40 471.02L608.70 470.90L609.00 470.73L609.30 470.47L609.60 470.42L609.90 470.33L610.20 470.55L610.50 470.64L610.80 470.90L611.10 471.32L611.40 470.89L611.70 470.49L612.00 470.58L612.30 470.35L612.60 470.33L612.90 470.67L613.20 470.51L613.50 470.54L613.80 470.50L614.10 470.51L614.40 470.27L614.70 470.04L615.00 470.21L615.30 469.94L615.60 470.28L615.90 470.45L616.20 470.24L616.50 470.37L616.80 470.07L617.10 469.81L617.40 469.60L617.70 469.25L618.00 469.19L618.30 469.51L618.60 469.94L618.90 470.21" fill="none" stroke="#ff0000" stroke-width="0.7" stroke-linejoin="round"/>
</g>
<path d="M261.0 13.3V97.3M619.1 13.3V97.3" fill="none" stroke="#262626" stroke-opacity="0.4" stroke-width="1.0"/>
<path d="M260.6 13.3H619.5M260.6 97.3H619.5" fill="none" stroke="#1c1c1c" stroke-width="0.62"/>
<path d="M271.23 97.3v-1.9M271.23 13.3v1.9M281.46 97.3v-1.9M281.46 13.3v1.9M291.69 97.3v-1.9M291.69 13.3v1.9M301.93 97.3v-1.9M301.93 13.3v1.9M322.39 97.3v-1.9M322.39 13.3v1.9M332.62 97.3v-1.9M332.62 13.3v1.9M342.85 97.3v-1.9M342.85 13.3v1.9M353.08 97.3v-1.9M353.08 13.3v1.9M373.55 97.3v-1.9M373.55 13.3v1.9M383.78 97.3v-1.9M383.78 13.3v1.9M394.01 97.3v-1.9M394.01 13.3v1.9M404.24 97.3v-1.9M404.24 13.3v1.9M424.70 97.3v-1.9M424.70 13.3v1.9M434.93 97.3v-1.9M434.93 13.3v1.9M445.17 97.3v-1.9M445.17 13.3v1.9M455.40 97.3v-1.9M455.40 13.3v1.9M475.86 97.3v-1.9M475.86 13.3v1.9M486.09 97.3v-1.9M486.09 13.3v1.9M496.32 97.3v-1.9M496.32 13.3v1.9M506.55 97.3v-1.9M506.55 13.3v1.9M527.02 97.3v-1.9M527.02 13.3v1.9M537.25 97.3v-1.9M537.25 13.3v1.9M547.48 97.3v-1.9M547.48 13.3v1.9M557.71 97.3v-1.9M557.71 13.3v1.9M578.17 97.3v-1.9M578.17 13.3v1.9M588.41 97.3v-1.9M588.41 13.3v1.9M598.64 97.3v-1.9M598.64 13.3v1.9M608.87 97.3v-1.9M608.87 13.3v1.9" stroke="#262626" stroke-width="0.6" fill="none"/>
<path d="M261.00 97.3v-3.6M261.00 13.3v3.6M312.16 97.3v-3.6M312.16 13.3v3.6M363.31 97.3v-3.6M363.31 13.3v3.6M414.47 97.3v-3.6M414.47 13.3v3.6M465.63 97.3v-3.6M465.63 13.3v3.6M516.79 97.3v-3.6M516.79 13.3v3.6M567.94 97.3v-3.6M567.94 13.3v3.6M619.10 97.3v-3.6M619.10 13.3v3.6" stroke="#262626" stroke-opacity="0.75" stroke-width="0.6" fill="none"/>
<path d="M261.0 97.3V181.4M619.1 97.3V181.4" fill="none" stroke="#262626" stroke-opacity="0.4" stroke-width="1.0"/>
<path d="M260.6 97.3H619.5M260.6 181.4H619.5" fill="none" stroke="#1c1c1c" stroke-width="0.62"/>
<path d="M271.23 181.4v-1.9M271.23 97.3v1.9M281.46 181.4v-1.9M281.46 97.3v1.9M291.69 181.4v-1.9M291.69 97.3v1.9M301.93 181.4v-1.9M301.93 97.3v1.9M322.39 181.4v-1.9M322.39 97.3v1.9M332.62 181.4v-1.9M332.62 97.3v1.9M342.85 181.4v-1.9M342.85 97.3v1.9M353.08 181.4v-1.9M353.08 97.3v1.9M373.55 181.4v-1.9M373.55 97.3v1.9M383.78 181.4v-1.9M383.78 97.3v1.9M394.01 181.4v-1.9M394.01 97.3v1.9M404.24 181.4v-1.9M404.24 97.3v1.9M424.70 181.4v-1.9M424.70 97.3v1.9M434.93 181.4v-1.9M434.93 97.3v1.9M445.17 181.4v-1.9M445.17 97.3v1.9M455.40 181.4v-1.9M455.40 97.3v1.9M475.86 181.4v-1.9M475.86 97.3v1.9M486.09 181.4v-1.9M486.09 97.3v1.9M496.32 181.4v-1.9M496.32 97.3v1.9M506.55 181.4v-1.9M506.55 97.3v1.9M527.02 181.4v-1.9M527.02 97.3v1.9M537.25 181.4v-1.9M537.25 97.3v1.9M547.48 181.4v-1.9M547.48 97.3v1.9M557.71 181.4v-1.9M557.71 97.3v1.9M578.17 181.4v-1.9M578.17 97.3v1.9M588.41 181.4v-1.9M588.41 97.3v1.9M598.64 181.4v-1.9M598.64 97.3v1.9M608.87 181.4v-1.9M608.87 97.3v1.9" stroke="#262626" stroke-width="0.6" fill="none"/>
<path d="M261.00 181.4v-3.6M261.00 97.3v3.6M312.16 181.4v-3.6M312.16 97.3v3.6M363.31 181.4v-3.6M363.31 97.3v3.6M414.47 181.4v-3.6M414.47 97.3v3.6M465.63 181.4v-3.6M465.63 97.3v3.6M516.79 181.4v-3.6M516.79 97.3v3.6M567.94 181.4v-3.6M567.94 97.3v3.6M619.10 181.4v-3.6M619.10 97.3v3.6" stroke="#262626" stroke-opacity="0.75" stroke-width="0.6" fill="none"/>
<path d="M261.0 181.4V265.5M619.1 181.4V265.5" fill="none" stroke="#262626" stroke-opacity="0.4" stroke-width="1.0"/>
<path d="M260.6 181.4H619.5M260.6 265.5H619.5" fill="none" stroke="#1c1c1c" stroke-width="0.62"/>
<path d="M271.23 265.5v-1.9M271.23 181.4v1.9M281.46 265.5v-1.9M281.46 181.4v1.9M291.69 265.5v-1.9M291.69 181.4v1.9M301.93 265.5v-1.9M301.93 181.4v1.9M322.39 265.5v-1.9M322.39 181.4v1.9M332.62 265.5v-1.9M332.62 181.4v1.9M342.85 265.5v-1.9M342.85 181.4v1.9M353.08 265.5v-1.9M353.08 181.4v1.9M373.55 265.5v-1.9M373.55 181.4v1.9M383.78 265.5v-1.9M383.78 181.4v1.9M394.01 265.5v-1.9M394.01 181.4v1.9M404.24 265.5v-1.9M404.24 181.4v1.9M424.70 265.5v-1.9M424.70 181.4v1.9M434.93 265.5v-1.9M434.93 181.4v1.9M445.17 265.5v-1.9M445.17 181.4v1.9M455.40 265.5v-1.9M455.40 181.4v1.9M475.86 265.5v-1.9M475.86 181.4v1.9M486.09 265.5v-1.9M486.09 181.4v1.9M496.32 265.5v-1.9M496.32 181.4v1.9M506.55 265.5v-1.9M506.55 181.4v1.9M527.02 265.5v-1.9M527.02 181.4v1.9M537.25 265.5v-1.9M537.25 181.4v1.9M547.48 265.5v-1.9M547.48 181.4v1.9M557.71 265.5v-1.9M557.71 181.4v1.9M578.17 265.5v-1.9M578.17 181.4v1.9M588.41 265.5v-1.9M588.41 181.4v1.9M598.64 265.5v-1.9M598.64 181.4v1.9M608.87 265.5v-1.9M608.87 181.4v1.9" stroke="#262626" stroke-width="0.6" fill="none"/>
<path d="M261.00 265.5v-3.6M261.00 181.4v3.6M312.16 265.5v-3.6M312.16 181.4v3.6M363.31 265.5v-3.6M363.31 181.4v3.6M414.47 265.5v-3.6M414.47 181.4v3.6M465.63 265.5v-3.6M465.63 181.4v3.6M516.79 265.5v-3.6M516.79 181.4v3.6M567.94 265.5v-3.6M567.94 181.4v3.6M619.10 265.5v-3.6M619.10 181.4v3.6" stroke="#262626" stroke-opacity="0.75" stroke-width="0.6" fill="none"/>
<path d="M261.0 265.5V349.3M619.1 265.5V349.3" fill="none" stroke="#262626" stroke-opacity="0.4" stroke-width="1.0"/>
<path d="M260.6 265.5H619.5M260.6 349.3H619.5" fill="none" stroke="#1c1c1c" stroke-width="0.62"/>
<path d="M271.23 349.3v-1.9M271.23 265.5v1.9M281.46 349.3v-1.9M281.46 265.5v1.9M291.69 349.3v-1.9M291.69 265.5v1.9M301.93 349.3v-1.9M301.93 265.5v1.9M322.39 349.3v-1.9M322.39 265.5v1.9M332.62 349.3v-1.9M332.62 265.5v1.9M342.85 349.3v-1.9M342.85 265.5v1.9M353.08 349.3v-1.9M353.08 265.5v1.9M373.55 349.3v-1.9M373.55 265.5v1.9M383.78 349.3v-1.9M383.78 265.5v1.9M394.01 349.3v-1.9M394.01 265.5v1.9M404.24 349.3v-1.9M404.24 265.5v1.9M424.70 349.3v-1.9M424.70 265.5v1.9M434.93 349.3v-1.9M434.93 265.5v1.9M445.17 349.3v-1.9M445.17 265.5v1.9M455.40 349.3v-1.9M455.40 265.5v1.9M475.86 349.3v-1.9M475.86 265.5v1.9M486.09 349.3v-1.9M486.09 265.5v1.9M496.32 349.3v-1.9M496.32 265.5v1.9M506.55 349.3v-1.9M506.55 265.5v1.9M527.02 349.3v-1.9M527.02 265.5v1.9M537.25 349.3v-1.9M537.25 265.5v1.9M547.48 349.3v-1.9M547.48 265.5v1.9M557.71 349.3v-1.9M557.71 265.5v1.9M578.17 349.3v-1.9M578.17 265.5v1.9M588.41 349.3v-1.9M588.41 265.5v1.9M598.64 349.3v-1.9M598.64 265.5v1.9M608.87 349.3v-1.9M608.87 265.5v1.9" stroke="#262626" stroke-width="0.6" fill="none"/>
<path d="M261.00 349.3v-3.6M261.00 265.5v3.6M312.16 349.3v-3.6M312.16 265.5v3.6M363.31 349.3v-3.6M363.31 265.5v3.6M414.47 349.3v-3.6M414.47 265.5v3.6M465.63 349.3v-3.6M465.63 265.5v3.6M516.79 349.3v-3.6M516.79 265.5v3.6M567.94 349.3v-3.6M567.94 265.5v3.6M619.10 349.3v-3.6M619.10 265.5v3.6" stroke="#262626" stroke-opacity="0.75" stroke-width="0.6" fill="none"/>
<path d="M261.0 349.3V433.4M619.1 349.3V433.4" fill="none" stroke="#262626" stroke-opacity="0.4" stroke-width="1.0"/>
<path d="M260.6 349.3H619.5M260.6 433.4H619.5" fill="none" stroke="#1c1c1c" stroke-width="0.62"/>
<path d="" stroke="#262626" stroke-width="0.6" fill="none"/>
<path d="M261.00 433.4v-3.6M261.00 349.3v3.6M312.16 433.4v-3.6M312.16 349.3v3.6M363.31 433.4v-3.6M363.31 349.3v3.6M414.47 433.4v-3.6M414.47 349.3v3.6M465.63 433.4v-3.6M465.63 349.3v3.6M516.79 433.4v-3.6M516.79 349.3v3.6M567.94 433.4v-3.6M567.94 349.3v3.6M619.10 433.4v-3.6M619.10 349.3v3.6" stroke="#262626" stroke-opacity="0.75" stroke-width="0.6" fill="none"/>
<path d="M261.0 433.4V517.3M619.1 433.4V517.3" fill="none" stroke="#262626" stroke-opacity="0.7" stroke-width="1.0"/>
<path d="M260.6 433.4H619.5M260.6 517.3H619.5" fill="none" stroke="#1c1c1c" stroke-width="0.62"/>
<path d="M271.23 517.3v-1.9M271.23 433.4v1.9M281.46 517.3v-1.9M281.46 433.4v1.9M291.69 517.3v-1.9M291.69 433.4v1.9M301.93 517.3v-1.9M301.93 433.4v1.9M322.39 517.3v-1.9M322.39 433.4v1.9M332.62 517.3v-1.9M332.62 433.4v1.9M342.85 517.3v-1.9M342.85 433.4v1.9M353.08 517.3v-1.9M353.08 433.4v1.9M373.55 517.3v-1.9M373.55 433.4v1.9M383.78 517.3v-1.9M383.78 433.4v1.9M394.01 517.3v-1.9M394.01 433.4v1.9M404.24 517.3v-1.9M404.24 433.4v1.9M424.70 517.3v-1.9M424.70 433.4v1.9M434.93 517.3v-1.9M434.93 433.4v1.9M445.17 517.3v-1.9M445.17 433.4v1.9M455.40 517.3v-1.9M455.40 433.4v1.9M475.86 517.3v-1.9M475.86 433.4v1.9M486.09 517.3v-1.9M486.09 433.4v1.9M496.32 517.3v-1.9M496.32 433.4v1.9M506.55 517.3v-1.9M506.55 433.4v1.9M527.02 517.3v-1.9M527.02 433.4v1.9M537.25 517.3v-1.9M537.25 433.4v1.9M547.48 517.3v-1.9M547.48 433.4v1.9M557.71 517.3v-1.9M557.71 433.4v1.9M578.17 517.3v-1.9M578.17 433.4v1.9M588.41 517.3v-1.9M588.41 433.4v1.9M598.64 517.3v-1.9M598.64 433.4v1.9M608.87 517.3v-1.9M608.87 433.4v1.9" stroke="#262626" stroke-width="0.6" fill="none"/>
<path d="M261.00 517.3v-3.6M261.00 433.4v3.6M312.16 517.3v-3.6M312.16 433.4v3.6M363.31 517.3v-3.6M363.31 433.4v3.6M414.47 517.3v-3.6M414.47 433.4v3.6M465.63 517.3v-3.6M465.63 433.4v3.6M516.79 517.3v-3.6M516.79 433.4v3.6M567.94 517.3v-3.6M567.94 433.4v3.6M619.10 517.3v-3.6M619.10 433.4v3.6" stroke="#262626" stroke-opacity="0.75" stroke-width="0.6" fill="none"/>
<path d="M261.0 96.53h1.3M619.1 96.53h-1.3M261.0 93.80h1.3M619.1 93.80h-1.3M261.0 91.87h1.3M619.1 91.87h-1.3M261.0 90.37h1.3M619.1 90.37h-1.3M261.0 89.14h1.3M619.1 89.14h-1.3M261.0 88.10h1.3M619.1 88.10h-1.3M261.0 87.20h1.3M619.1 87.20h-1.3M261.0 86.41h1.3M619.1 86.41h-1.3M261.0 85.70h2.6M619.1 85.70h-2.6M261.0 81.03h1.3M619.1 81.03h-1.3M261.0 78.30h1.3M619.1 78.30h-1.3M261.0 76.37h1.3M619.1 76.37h-1.3M261.0 74.87h1.3M619.1 74.87h-1.3M261.0 73.64h1.3M619.1 73.64h-1.3M261.0 72.60h1.3M619.1 72.60h-1.3M261.0 71.70h1.3M619.1 71.70h-1.3M261.0 70.91h1.3M619.1 70.91h-1.3M261.0 70.20h2.6M619.1 70.20h-2.6M261.0 65.53h1.3M619.1 65.53h-1.3M261.0 62.80h1.3M619.1 62.80h-1.3M261.0 60.87h1.3M619.1 60.87h-1.3M261.0 59.37h1.3M619.1 59.37h-1.3M261.0 58.14h1.3M619.1 58.14h-1.3M261.0 57.10h1.3M619.1 57.10h-1.3M261.0 56.20h1.3M619.1 56.20h-1.3M261.0 55.41h1.3M619.1 55.41h-1.3M261.0 54.70h2.6M619.1 54.70h-2.6M261.0 50.03h1.3M619.1 50.03h-1.3M261.0 47.30h1.3M619.1 47.30h-1.3M261.0 45.37h1.3M619.1 45.37h-1.3M261.0 43.87h1.3M619.1 43.87h-1.3M261.0 42.64h1.3M619.1 42.64h-1.3M261.0 41.60h1.3M619.1 41.60h-1.3M261.0 40.70h1.3M619.1 40.70h-1.3M261.0 39.91h1.3M619.1 39.91h-1.3M261.0 39.20h2.6M619.1 39.20h-2.6M261.0 34.53h1.3M619.1 34.53h-1.3M261.0 31.80h1.3M619.1 31.80h-1.3M261.0 29.87h1.3M619.1 29.87h-1.3M261.0 28.37h1.3M619.1 28.37h-1.3M261.0 27.14h1.3M619.1 27.14h-1.3M261.0 26.10h1.3M619.1 26.10h-1.3M261.0 25.20h1.3M619.1 25.20h-1.3M261.0 24.41h1.3M619.1 24.41h-1.3M261.0 23.70h2.6M619.1 23.70h-2.6M261.0 19.03h1.3M619.1 19.03h-1.3M261.0 16.30h1.3M619.1 16.30h-1.3M261.0 14.37h1.3M619.1 14.37h-1.3" stroke="#262626" stroke-width="0.5" fill="none"/>
<text x="256.7" y="88.90" font-size="10.3" text-anchor="end" fill="#262626">10<tspan font-size="8.2" dy="-5.1">0</tspan></text>
<text x="256.7" y="73.40" font-size="10.3" text-anchor="end" fill="#262626">10<tspan font-size="8.2" dy="-5.1">1</tspan></text>
<text x="256.7" y="57.90" font-size="10.3" text-anchor="end" fill="#262626">10<tspan font-size="8.2" dy="-5.1">2</tspan></text>
<text x="256.7" y="42.40" font-size="10.3" text-anchor="end" fill="#262626">10<tspan font-size="8.2" dy="-5.1">3</tspan></text>
<text x="256.7" y="26.90" font-size="10.3" text-anchor="end" fill="#262626">10<tspan font-size="8.2" dy="-5.1">4</tspan></text>
<text transform="translate(221.0 55.3) rotate(-90)" font-size="11" text-anchor="middle" fill="#262626">E/q</text>
<text transform="translate(234.8 55.3) rotate(-90)" font-size="11" text-anchor="middle" fill="#262626">(eV/q)</text>
<path d="M261.0 180.53h1.3M619.1 180.53h-1.3M261.0 177.80h1.3M619.1 177.80h-1.3M261.0 175.87h1.3M619.1 175.87h-1.3M261.0 174.37h1.3M619.1 174.37h-1.3M261.0 173.14h1.3M619.1 173.14h-1.3M261.0 172.10h1.3M619.1 172.10h-1.3M261.0 171.20h1.3M619.1 171.20h-1.3M261.0 170.41h1.3M619.1 170.41h-1.3M261.0 169.70h2.6M619.1 169.70h-2.6M261.0 165.03h1.3M619.1 165.03h-1.3M261.0 162.30h1.3M619.1 162.30h-1.3M261.0 160.37h1.3M619.1 160.37h-1.3M261.0 158.87h1.3M619.1 158.87h-1.3M261.0 157.64h1.3M619.1 157.64h-1.3M261.0 156.60h1.3M619.1 156.60h-1.3M261.0 155.70h1.3M619.1 155.70h-1.3M261.0 154.91h1.3M619.1 154.91h-1.3M261.0 154.20h2.6M619.1 154.20h-2.6M261.0 149.53h1.3M619.1 149.53h-1.3M261.0 146.80h1.3M619.1 146.80h-1.3M261.0 144.87h1.3M619.1 144.87h-1.3M261.0 143.37h1.3M619.1 143.37h-1.3M261.0 142.14h1.3M619.1 142.14h-1.3M261.0 141.10h1.3M619.1 141.10h-1.3M261.0 140.20h1.3M619.1 140.20h-1.3M261.0 139.41h1.3M619.1 139.41h-1.3M261.0 138.70h2.6M619.1 138.70h-2.6M261.0 134.03h1.3M619.1 134.03h-1.3M261.0 131.30h1.3M619.1 131.30h-1.3M261.0 129.37h1.3M619.1 129.37h-1.3M261.0 127.87h1.3M619.1 127.87h-1.3M261.0 126.64h1.3M619.1 126.64h-1.3M261.0 125.60h1.3M619.1 125.60h-1.3M261.0 124.70h1.3M619.1 124.70h-1.3M261.0 123.91h1.3M619.1 123.91h-1.3M261.0 123.20h2.6M619.1 123.20h-2.6M261.0 118.53h1.3M619.1 118.53h-1.3M261.0 115.80h1.3M619.1 115.80h-1.3M261.0 113.87h1.3M619.1 113.87h-1.3M261.0 112.37h1.3M619.1 112.37h-1.3M261.0 111.14h1.3M619.1 111.14h-1.3M261.0 110.10h1.3M619.1 110.10h-1.3M261.0 109.20h1.3M619.1 109.20h-1.3M261.0 108.41h1.3M619.1 108.41h-1.3M261.0 107.70h2.6M619.1 107.70h-2.6M261.0 103.03h1.3M619.1 103.03h-1.3M261.0 100.30h1.3M619.1 100.30h-1.3M261.0 98.37h1.3M619.1 98.37h-1.3" stroke="#262626" stroke-width="0.5" fill="none"/>
<text x="256.7" y="172.90" font-size="10.3" text-anchor="end" fill="#262626">10<tspan font-size="8.2" dy="-5.1">0</tspan></text>
<text x="256.7" y="157.40" font-size="10.3" text-anchor="end" fill="#262626">10<tspan font-size="8.2" dy="-5.1">1</tspan></text>
<text x="256.7" y="141.90" font-size="10.3" text-anchor="end" fill="#262626">10<tspan font-size="8.2" dy="-5.1">2</tspan></text>
<text x="256.7" y="126.40" font-size="10.3" text-anchor="end" fill="#262626">10<tspan font-size="8.2" dy="-5.1">3</tspan></text>
<text x="256.7" y="110.90" font-size="10.3" text-anchor="end" fill="#262626">10<tspan font-size="8.2" dy="-5.1">4</tspan></text>
<text transform="translate(221.0 139.3) rotate(-90)" font-size="11" text-anchor="middle" fill="#262626">E/q</text>
<text transform="translate(234.8 139.3) rotate(-90)" font-size="11" text-anchor="middle" fill="#262626">(eV/q)</text>
<path d="M261.0 264.63h1.3M619.1 264.63h-1.3M261.0 261.90h1.3M619.1 261.90h-1.3M261.0 259.97h1.3M619.1 259.97h-1.3M261.0 258.47h1.3M619.1 258.47h-1.3M261.0 257.24h1.3M619.1 257.24h-1.3M261.0 256.20h1.3M619.1 256.20h-1.3M261.0 255.30h1.3M619.1 255.30h-1.3M261.0 254.51h1.3M619.1 254.51h-1.3M261.0 253.80h2.6M619.1 253.80h-2.6M261.0 249.13h1.3M619.1 249.13h-1.3M261.0 246.40h1.3M619.1 246.40h-1.3M261.0 244.47h1.3M619.1 244.47h-1.3M261.0 242.97h1.3M619.1 242.97h-1.3M261.0 241.74h1.3M619.1 241.74h-1.3M261.0 240.70h1.3M619.1 240.70h-1.3M261.0 239.80h1.3M619.1 239.80h-1.3M261.0 239.01h1.3M619.1 239.01h-1.3M261.0 238.30h2.6M619.1 238.30h-2.6M261.0 233.63h1.3M619.1 233.63h-1.3M261.0 230.90h1.3M619.1 230.90h-1.3M261.0 228.97h1.3M619.1 228.97h-1.3M261.0 227.47h1.3M619.1 227.47h-1.3M261.0 226.24h1.3M619.1 226.24h-1.3M261.0 225.20h1.3M619.1 225.20h-1.3M261.0 224.30h1.3M619.1 224.30h-1.3M261.0 223.51h1.3M619.1 223.51h-1.3M261.0 222.80h2.6M619.1 222.80h-2.6M261.0 218.13h1.3M619.1 218.13h-1.3M261.0 215.40h1.3M619.1 215.40h-1.3M261.0 213.47h1.3M619.1 213.47h-1.3M261.0 211.97h1.3M619.1 211.97h-1.3M261.0 210.74h1.3M619.1 210.74h-1.3M261.0 209.70h1.3M619.1 209.70h-1.3M261.0 208.80h1.3M619.1 208.80h-1.3M261.0 208.01h1.3M619.1 208.01h-1.3M261.0 207.30h2.6M619.1 207.30h-2.6M261.0 202.63h1.3M619.1 202.63h-1.3M261.0 199.90h1.3M619.1 199.90h-1.3M261.0 197.97h1.3M619.1 197.97h-1.3M261.0 196.47h1.3M619.1 196.47h-1.3M261.0 195.24h1.3M619.1 195.24h-1.3M261.0 194.20h1.3M619.1 194.20h-1.3M261.0 193.30h1.3M619.1 193.30h-1.3M261.0 192.51h1.3M619.1 192.51h-1.3M261.0 191.80h2.6M619.1 191.80h-2.6M261.0 187.13h1.3M619.1 187.13h-1.3M261.0 184.40h1.3M619.1 184.40h-1.3M261.0 182.47h1.3M619.1 182.47h-1.3" stroke="#262626" stroke-width="0.5" fill="none"/>
<text x="256.7" y="257.00" font-size="10.3" text-anchor="end" fill="#262626">10<tspan font-size="8.2" dy="-5.1">0</tspan></text>
<text x="256.7" y="241.50" font-size="10.3" text-anchor="end" fill="#262626">10<tspan font-size="8.2" dy="-5.1">1</tspan></text>
<text x="256.7" y="226.00" font-size="10.3" text-anchor="end" fill="#262626">10<tspan font-size="8.2" dy="-5.1">2</tspan></text>
<text x="256.7" y="210.50" font-size="10.3" text-anchor="end" fill="#262626">10<tspan font-size="8.2" dy="-5.1">3</tspan></text>
<text x="256.7" y="195.00" font-size="10.3" text-anchor="end" fill="#262626">10<tspan font-size="8.2" dy="-5.1">4</tspan></text>
<text transform="translate(221.0 223.4) rotate(-90)" font-size="11" text-anchor="middle" fill="#262626">E/q</text>
<text transform="translate(234.8 223.4) rotate(-90)" font-size="11" text-anchor="middle" fill="#262626">(eV/q)</text>
<text x="256.7" y="339.63" font-size="10.3" text-anchor="end" fill="#262626">1</text>
<text x="256.7" y="311.70" font-size="10.3" text-anchor="end" fill="#262626">3</text>
<text x="256.7" y="283.77" font-size="10.3" text-anchor="end" fill="#262626">5</text>
<path d="M261.0 342.32h1.6M619.1 342.32h-1.6M261.0 335.33h2.4M619.1 335.33h-2.4M261.0 328.35h1.6M619.1 328.35h-1.6M261.0 321.37h2.4M619.1 321.37h-2.4M261.0 314.38h1.6M619.1 314.38h-1.6M261.0 307.40h2.4M619.1 307.40h-2.4M261.0 300.42h1.6M619.1 300.42h-1.6M261.0 293.43h2.4M619.1 293.43h-2.4M261.0 286.45h1.6M619.1 286.45h-1.6M261.0 279.47h2.4M619.1 279.47h-2.4M261.0 272.48h1.6M619.1 272.48h-1.6" stroke="#262626" stroke-width="0.6" fill="none"/>
<text transform="translate(228.2 307.4) rotate(-90)" font-size="11" text-anchor="middle" fill="#262626">N</text>
<text transform="translate(247.4 307.4) rotate(-90)" font-size="11" text-anchor="middle" fill="#262626">(cm<tspan font-size="9" dy="-5.5">-3</tspan><tspan dy="5.5">)</tspan></text>
<text x="256.7" y="437.70" font-size="10.3" text-anchor="end" fill="#262626">-200</text>
<text x="256.7" y="404.06" font-size="10.3" text-anchor="end" fill="#262626">-100</text>
<text x="256.7" y="370.42" font-size="10.3" text-anchor="end" fill="#262626">0</text>
<path d="M261.0 399.76h2.4M619.1 399.76h-2.4M261.0 366.12h2.4M619.1 366.12h-2.4" stroke="#262626" stroke-width="0.6" fill="none"/>
<text transform="translate(216.4 391.4) rotate(-90)" font-size="11" text-anchor="middle" fill="#262626">Vx</text>
<text transform="translate(230.6 391.4) rotate(-90)" font-size="11" text-anchor="middle" fill="#262626">(km/s)</text>
<text x="256.7" y="507.62" font-size="10.3" text-anchor="end" fill="#262626">-20</text>
<text x="256.7" y="479.65" font-size="10.3" text-anchor="end" fill="#262626">0</text>
<text x="256.7" y="451.68" font-size="10.3" text-anchor="end" fill="#262626">20</text>
<path d="M261.0 510.31h1.4M619.1 510.31h-1.4M261.0 503.32h1.8M619.1 503.32h-1.8M261.0 496.32h1.4M619.1 496.32h-1.4M261.0 489.33h1.4M619.1 489.33h-1.4M261.0 482.34h1.4M619.1 482.34h-1.4M261.0 475.35h1.8M619.1 475.35h-1.8M261.0 468.36h1.4M619.1 468.36h-1.4M261.0 461.37h1.4M619.1 461.37h-1.4M261.0 454.37h1.4M619.1 454.37h-1.4M261.0 447.38h1.8M619.1 447.38h-1.8M261.0 440.39h1.4M619.1 440.39h-1.4" stroke="#262626" stroke-width="0.6" fill="none"/>
<text transform="translate(221.7 475.3) rotate(-90)" font-size="11" text-anchor="middle" fill="#262626">B(nT)</text>
<text transform="translate(236.5 475.3) rotate(-90)" font-size="11" text-anchor="middle" fill="#262626">MSO</text>
<text x="261.00" y="532" font-size="10.3" text-anchor="middle" fill="#262626">13:23</text>
<text x="312.16" y="532" font-size="10.3" text-anchor="middle" fill="#262626">13:24</text>
<text x="363.31" y="532" font-size="10.3" text-anchor="middle" fill="#262626">13:25</text>
<text x="414.47" y="532" font-size="10.3" text-anchor="middle" fill="#262626">13:26</text>
<text x="465.63" y="532" font-size="10.3" text-anchor="middle" fill="#262626">13:27</text>
<text x="516.79" y="532" font-size="10.3" text-anchor="middle" fill="#262626">13:28</text>
<text x="567.94" y="532" font-size="10.3" text-anchor="middle" fill="#262626">13:29</text>
<text x="619.10" y="532" font-size="10.3" text-anchor="middle" fill="#262626">13:30</text>
<text x="440.1" y="546.2" font-size="11.2" text-anchor="middle" fill="#262626">Time UTC</text>
<text x="440.1" y="9" font-size="11.3" text-anchor="middle" fill="#000">2022-09-23 13:23--13:30</text>
<rect x="262" y="75.2" width="20.6" height="18.2" fill="#fff"/>
<rect x="262" y="103.8" width="20.6" height="18.2" fill="#fff"/>
<rect x="262" y="187.8" width="20.6" height="18.2" fill="#fff"/>
<text x="264.6" y="89" font-size="12.3" font-weight="bold" text-anchor="start" fill="#000">(c)</text>
<text x="264.6" y="117.6" font-size="12.3" font-weight="bold" text-anchor="start" fill="#000">(d)</text>
<text x="264.6" y="201.6" font-size="12.3" font-weight="bold" text-anchor="start" fill="#000">(e)</text>
<text x="264.6" y="285.6" font-size="12.3" font-weight="bold" text-anchor="start" fill="#000">(f)</text>
<text x="264.6" y="369.6" font-size="12.3" font-weight="bold" text-anchor="start" fill="#000">(g)</text>
<text x="264.6" y="453.6" font-size="12.3" font-weight="bold" text-anchor="start" fill="#000">(h)</text>
<text x="614.5" y="450.7" font-size="12.3" font-weight="bold" text-anchor="end" fill="#000">MAVEN</text>
<rect x="598.9" y="73.1" width="20.5" height="24.2" fill="#808080"/>
<rect x="598.1" y="156.6" width="21.3" height="24.8" fill="#808080"/>
<rect x="599.9" y="236.0" width="19.5" height="29.5" fill="#808080"/>
<text x="602" y="90.8" font-size="11.4" font-weight="bold" fill="#000">H<tspan font-size="8.6" dx="1.2" dy="-5.3">+</tspan></text>
<text x="600.9" y="175" font-size="11.6" font-weight="bold" fill="#000">O<tspan font-size="8.8" dx="0.6" dy="-5.5">+</tspan></text>
<text x="603.2" y="254.6" font-size="11.6" font-weight="bold" fill="#000">o<tspan font-size="9" dx="0.2" dy="4.8">2</tspan><tspan font-size="8.8" dx="-5.2" dy="-10.4">+</tspan></text>
<text x="297" y="285.2" font-size="11" fill="#ff0000">O<tspan font-size="8" font-weight="bold" dy="-5.4">+</tspan></text>
<text x="332.5" y="285.2" font-size="11" fill="#0000ff">O<tspan font-size="9.2" dy="4.6">2</tspan><tspan font-size="8" font-weight="bold" dx="-5" dy="-10">+</tspan></text>
<text x="364.5" y="285.2" font-size="11" fill="#262626">H<tspan font-size="8" font-weight="bold" dy="-5.4">+</tspan></text>
<text x="296.5" y="416.4" font-size="11" fill="#ff0000">O<tspan font-size="8" font-weight="bold" dy="-5.4">+</tspan></text>
<text x="332.5" y="416.4" font-size="11" fill="#0000ff">O<tspan font-size="9.2" dy="4.6">2</tspan><tspan font-size="8" font-weight="bold" dx="-5" dy="-10">+</tspan></text>
<text x="296.5" y="450.2" font-size="11" fill="#ff0000">B<tspan font-size="9.2" dy="4.6">x</tspan></text>
<text x="324.5" y="450.2" font-size="11" fill="#0000ff">B<tspan font-size="9.2" dy="4.6">y</tspan></text>
<text x="352" y="450.2" font-size="11" fill="#262626">B<tspan font-size="9.2" dy="4.6">z</tspan></text>
<defs><linearGradient id="cb" x1="0" y1="1" x2="0" y2="0">
<stop offset="0.00" stop-color="#0d0887"/>
<stop offset="0.05" stop-color="#2a0593"/>
<stop offset="0.10" stop-color="#41049d"/>
<stop offset="0.15" stop-color="#5601a4"/>
<stop offset="0.20" stop-color="#6a00a8"/>
<stop offset="0.25" stop-color="#7e03a8"/>
<stop offset="0.30" stop-color="#8f0da4"/>
<stop offset="0.35" stop-color="#a11b9b"/>
<stop offset="0.40" stop-color="#b12a90"/>
<stop offset="0.45" stop-color="#bf3984"/>
<stop offset="0.50" stop-color="#cc4778"/>
<stop offset="0.55" stop-color="#d6556d"/>
<stop offset="0.60" stop-color="#e16462"/>
<stop offset="0.65" stop-color="#ea7457"/>
<stop offset="0.70" stop-color="#f2844b"/>
<stop offset="0.75" stop-color="#f89540"/>
<stop offset="0.80" stop-color="#fca636"/>
<stop offset="0.85" stop-color="#feba2c"/>
<stop offset="0.90" stop-color="#fcce25"/>
<stop offset="0.95" stop-color="#f7e425"/>
<stop offset="1.00" stop-color="#f0f921"/>
</linearGradient></defs>
<rect x="626.1" y="13" width="10.7" height="252.2" fill="url(#cb)" stroke="#262626" stroke-opacity="0.7" stroke-width="0.5"/>
<path d="M636.7 14.0h-2.5" stroke="#262626" stroke-width="0.5"/>
<text x="641.2" y="18.2" font-size="9.8" fill="#262626">10<tspan font-size="7.8" dy="-4.6">7</tspan></text>
<path d="M636.7 97.6h-2.5" stroke="#262626" stroke-width="0.5"/>
<text x="641.2" y="101.8" font-size="9.8" fill="#262626">10<tspan font-size="7.8" dy="-4.6">6</tspan></text>
<path d="M636.7 181.2h-2.5" stroke="#262626" stroke-width="0.5"/>
<text x="641.2" y="185.4" font-size="9.8" fill="#262626">10<tspan font-size="7.8" dy="-4.6">5</tspan></text>
<text transform="translate(669 139.5) rotate(-90)" font-size="9.6" text-anchor="middle" fill="#262626">Log10(DEF)</text>
<text transform="translate(683 140.5) rotate(-90)" font-size="9.6" text-anchor="middle" fill="#262626">eV/[cm<tspan font-size="7.5" dy="-3.8">2</tspan><tspan dy="3.8"> s sr eV]</tspan></text>
<clipPath id="ca"><rect x="31.9" y="81.9" width="128.6" height="131.7"/></clipPath>
<g clip-path="url(#ca)">
<path d="M41.49 213.60L41.49 213.40L41.49 213.21L41.49 213.01L41.50 212.81L41.50 212.62L41.50 212.42L41.51 212.22L41.51 212.03L41.52 211.83L41.52 211.63L41.53 211.44L41.54 211.24L41.55 211.04L41.56 210.84L41.57 210.65L41.58 210.45L41.59 210.25L41.60 210.06L41.61 209.86L41.63 209.66L41.64 209.46L41.66 209.26L41.67 209.07L41.69 208.87L41.71 208.67L41.72 208.47L41.74 208.27L41.76 208.07L41.78 207.88L41.80 207.68L41.82 207.48L41.85 207.28L41.87 207.08L41.89 206.88L41.92 206.68L41.94 206.48L41.97 206.28L41.99 206.08L42.02 205.88L42.05 205.68L42.08 205.48L42.11 205.27L42.14 205.07L42.17 204.87L42.20 204.67L42.23 204.47L42.27 204.26L42.30 204.06L42.33 203.86L42.37 203.65L42.41 203.45L42.44 203.25L42.48 203.04L42.52 202.84L42.56 202.63L42.60 202.43L42.64 202.22L42.68 202.02L42.73 201.81L42.77 201.60L42.82 201.40L42.86 201.19L42.91 200.98L42.95 200.77L43.00 200.57L43.05 200.36L43.10 200.15L43.15 199.94L43.20 199.73L43.25 199.52L43.31 199.31L43.36 199.10L43.42 198.88L43.47 198.67L43.53 198.46L43.59 198.25L43.65 198.03L43.71 197.82L43.77 197.61L43.83 197.39L43.89 197.18L43.95 196.96L44.02 196.74L44.08 196.53L44.15 196.31L44.22 196.09L44.28 195.87L44.35 195.66L44.42 195.44L44.50 195.22L44.57 195.00L44.64 194.77L44.72 194.55L44.79 194.33L44.87 194.11L44.95 193.88L45.03 193.66L45.11 193.44L45.19 193.21L45.27 192.98L45.35 192.76L45.44 192.53L45.52 192.30L45.61 192.07L45.70 191.84L45.79 191.61L45.88 191.38L45.97 191.15L46.06 190.92L46.16 190.69L46.25 190.45L46.35 190.22L46.45 189.98L46.55 189.75L46.65 189.51L46.75 189.27L46.85 189.03L46.96 188.79L47.06 188.55L47.17 188.31L47.28 188.07L47.39 187.83L47.50 187.59L47.61 187.34L47.73 187.10L47.84 186.85L47.96 186.60L48.08 186.35L48.20 186.11L48.32 185.86L48.45 185.60L48.57 185.35L48.70 185.10L48.83 184.85L48.96 184.59L49.09 184.33L49.22 184.08L49.36 183.82L49.50 183.56L49.64 183.30L49.78 183.04L49.92 182.78L50.06 182.51L50.21 182.25L50.36 181.98L50.51 181.71L50.66 181.44L50.81 181.18L50.97 180.90L51.13 180.63L51.28 180.36L51.45 180.08L51.61 179.81L51.78 179.53L51.94 179.25L52.11 178.97L52.29 178.69L52.46 178.41L52.64 178.12L52.82 177.84L53.00 177.55L53.18 177.26L53.37 176.97L53.56 176.68L53.75 176.39L53.94 176.09L54.14 175.80L54.34 175.50L54.54 175.20L54.74 174.90L54.95 174.60L55.16 174.29L55.37 173.99L55.59 173.68L55.80 173.37L56.03 173.06L56.25 172.75L56.48 172.43L56.71 172.11L56.94 171.80L57.17 171.48L57.41 171.15L57.66 170.83L57.90 170.50L58.15 170.17L58.40 169.84L58.66 169.51L58.92 169.18L59.18 168.84L59.45 168.50L59.72 168.16L59.99 167.82L60.27 167.47L60.55 167.13L60.83 166.78L61.12 166.42L61.42 166.07L61.71 165.71L62.02 165.35L62.32 164.99L62.63 164.63L62.95 164.26L63.27 163.89L63.59 163.52L63.92 163.14L64.25 162.77L64.59 162.39L64.93 162.00L65.28 161.62L65.63 161.23L65.99 160.84L66.35 160.44L66.72 160.05L67.10 159.65L67.48 159.24L67.86 158.84L68.25 158.43L68.65 158.01L69.05 157.60L69.46 157.18L69.88 156.75L70.30 156.33L70.73 155.90L71.16 155.46L71.60 155.02L72.05 154.58L72.51 154.14L72.97 153.69L73.44 153.24L73.92 152.78L74.40 152.32L74.90 151.86L75.40 151.39L75.91 150.91L76.43 150.44L76.95 149.96L77.49 149.47L78.03 148.98L78.58 148.48L79.14 147.98L79.71 147.48L80.29 146.97L80.88 146.46L81.48 145.94L82.09 145.41L82.71 144.88L83.35 144.35L83.99 143.81L84.64 143.26L85.31 142.71L85.98 142.15L86.67 141.59L87.37 141.02L88.09 140.45L88.81 139.87L89.55 139.28L90.31 138.69L91.07 138.08L91.85 137.48L92.65 136.86L93.46 136.24L94.29 135.62L95.13 134.98L95.98 134.34L96.86 133.69L97.75 133.03L98.66 132.37L99.58 131.70L100.52 131.02L101.49 130.33L102.47 129.63L103.47 128.92L104.49 128.21L105.53 127.48L106.59 126.75L107.68 126.01L108.78 125.25L109.91 124.49L111.07 123.72L112.25 122.93L113.45 122.14L114.68 121.34L115.93 120.52L117.21 119.69L118.52 118.86L119.86 118.00L121.23 117.14L122.63 116.27L124.06 115.38L125.53 114.48L127.03 113.56L128.56 112.63L130.13 111.69L131.73 110.74L133.37 109.76L135.05 108.78L136.78 107.77L138.54 106.75L140.35 105.72L142.20 104.67L144.10 103.60L146.04 102.51L148.03 101.40L150.08 100.27L152.18 99.13L154.33 97.96L156.54 96.78L158.81 95.57L161.13 94.34L163.52 93.09L165.98 91.81L168.50 90.51L171.10 89.19L173.76 87.83L176.51 86.46L179.33 85.05L182.23 83.62L185.22 82.16L188.29 80.66L191.46 79.14L194.72 77.58L198.08 75.99L201.55 74.37L205.12 72.71L208.81 71.01L212.62 69.27L216.54 67.50L220.60 65.68L224.79 63.82L229.12 61.91L233.60 59.95L238.23 57.95L243.03 55.90L247.99 53.79L253.13 51.63L258.45 49.41L263.97 47.13L269.70 44.79L275.64 42.38L281.81 39.90L288.22 37.35L294.88 34.73L301.81 32.02L309.02 29.24L316.53 26.36L324.35 23.40L332.51 20.33L341.02 17.17L349.90 13.90L359.18 10.52L368.89 7.01L379.04 3.38L389.68 -0.38L400.83 -4.29L412.52 -8.35L424.80 -12.57L437.71 -16.96L451.29 -21.53L465.59 -26.30L480.67 -31.27L496.59 -36.47L513.41 -41.91L531.21 -47.61L550.08 -53.59L570.09 -59.86L591.36 -66.47L614.00 -73.42L638.13 -80.76L663.90 -88.52L691.47 -96.74L721.02 -105.46L752.77 -114.74L786.95 -124.62L823.84 -135.18L863.75 -146.49L907.06 -158.65L954.19 -171.74L1005.64 -185.90L1062.00 -201.26L1123.99 -217.99L1192.46 -236.29L1268.41 -256.41L1353.12 -278.64L1448.10 -303.34L1555.30 -330.97L1677.14 -362.10L1816.72 -397.47L1978.13 -438.04L2166.73 -485.06L2389.87 -540.28" fill="none" stroke="#000" stroke-width="0.6" stroke-linejoin="round"/>
<path d="M51.19 213.60L51.19 213.44L51.19 213.28L51.19 213.12L51.19 212.95L51.20 212.79L51.20 212.63L51.21 212.47L51.21 212.31L51.22 212.15L51.23 211.99L51.24 211.83L51.25 211.66L51.26 211.50L51.27 211.34L51.29 211.18L51.30 211.02L51.32 210.85L51.33 210.69L51.35 210.53L51.37 210.37L51.38 210.21L51.40 210.04L51.42 209.88L51.44 209.72L51.47 209.56L51.49 209.39L51.51 209.23L51.54 209.07L51.57 208.90L51.59 208.74L51.62 208.58L51.65 208.41L51.68 208.25L51.71 208.08L51.74 207.92L51.77 207.76L51.81 207.59L51.84 207.43L51.88 207.26L51.92 207.10L51.95 206.93L51.99 206.77L52.03 206.60L52.07 206.43L52.11 206.27L52.16 206.10L52.20 205.93L52.25 205.77L52.29 205.60L52.34 205.43L52.39 205.27L52.44 205.10L52.49 204.93L52.54 204.76L52.59 204.59L52.65 204.42L52.70 204.25L52.76 204.08L52.81 203.91L52.87 203.74L52.93 203.57L52.99 203.40L53.06 203.23L53.12 203.06L53.18 202.89L53.25 202.72L53.32 202.55L53.38 202.37L53.45 202.20L53.52 202.03L53.60 201.85L53.67 201.68L53.75 201.50L53.82 201.33L53.90 201.15L53.98 200.98L54.06 200.80L54.14 200.63L54.22 200.45L54.31 200.27L54.39 200.09L54.48 199.92L54.57 199.74L54.66 199.56L54.75 199.38L54.84 199.20L54.94 199.02L55.03 198.84L55.13 198.66L55.23 198.48L55.33 198.29L55.44 198.11L55.54 197.93L55.65 197.74L55.75 197.56L55.86 197.38L55.97 197.19L56.09 197.01L56.20 196.82L56.32 196.63L56.44 196.45L56.56 196.26L56.68 196.07L56.80 195.88L56.93 195.69L57.06 195.50L57.19 195.31L57.32 195.12L57.45 194.93L57.59 194.74L57.73 194.55L57.87 194.35L58.01 194.16L58.16 193.97L58.30 193.77L58.45 193.58L58.60 193.38L58.76 193.19L58.91 192.99L59.07 192.79L59.23 192.59L59.40 192.39L59.56 192.19L59.73 191.99L59.90 191.79L60.08 191.59L60.25 191.39L60.43 191.19L60.61 190.99L60.80 190.78L60.99 190.58L61.18 190.37L61.37 190.17L61.56 189.96L61.76 189.76L61.97 189.55L62.17 189.34L62.38 189.13L62.59 188.92L62.80 188.71L63.02 188.50L63.24 188.29L63.47 188.08L63.70 187.87L63.93 187.65L64.16 187.44L64.40 187.23L64.65 187.01L64.89 186.80L65.14 186.58L65.40 186.37L65.65 186.15L65.91 185.93L66.18 185.71L66.45 185.49L66.72 185.27L67.00 185.06L67.29 184.83L67.57 184.61L67.87 184.39L68.16 184.17L68.46 183.95L68.77 183.73L69.08 183.50L69.39 183.28L69.71 183.06L70.04 182.83L70.37 182.61L70.71 182.38L71.05 182.16L71.39 181.93L71.74 181.70L72.10 181.48L72.47 181.25L72.83 181.02L73.21 180.80L73.59 180.57L73.98 180.34L74.37 180.11L74.77 179.89L75.17 179.66L75.59 179.43L76.01 179.20L76.43 178.98L76.86 178.75L77.30 178.52L77.75 178.29L78.20 178.07L78.66 177.84L79.13 177.62L79.61 177.39L80.09 177.16L80.59 176.94L81.08 176.72L81.59 176.49L82.11 176.27L82.63 176.05L83.17 175.83L84.09 175.77L84.85 175.47L85.64 175.15L86.44 174.84L87.27 174.52L88.11 174.19L88.97 173.86L89.85 173.52L90.75 173.18L91.67 172.83L92.61 172.48L93.58 172.12L94.57 171.76L95.58 171.38L96.62 171.01L97.68 170.62L98.77 170.24L99.89 169.84L101.04 169.44L102.21 169.02L103.42 168.61L104.65 168.18L105.92 167.75L107.23 167.31L108.56 166.86L109.94 166.40L111.35 165.93L112.80 165.46L114.29 164.97L115.83 164.48L117.40 163.98L119.02 163.46L120.69 162.94L122.41 162.40L124.18 161.86L126.00 161.30L127.88 160.73L129.81 160.14L131.80 159.55L133.86 158.94L135.98 158.32L138.17 157.68L140.43 157.03L142.76 156.36L145.17 155.68L147.67 154.98L150.24 154.27L152.91 153.53L155.66 152.78L158.52 152.01L161.48 151.22L164.54 150.40L167.71 149.57L171.01 148.71L174.43 147.83L177.97 146.92L181.66 145.99L185.49 145.03L189.47 144.04L193.62 143.03L197.93 141.98L202.43 140.90L207.12 139.78L212.00 138.63L217.10 137.44L222.43 136.20L228.00 134.93L233.83 133.61L239.93 132.25L246.33 130.83L253.03 129.36L260.06 127.83L267.45 126.25L275.23 124.60L283.41 122.88L292.03 121.09L301.12 119.22L310.72 117.27L320.88 115.23L331.62 113.10L343.02 110.86L355.11 108.51L367.96 106.04L381.65 103.44L396.24 100.70L411.83 97.80L428.52 94.74L446.41 91.49L465.63 88.05L486.32 84.37L508.66 80.46L532.83 76.27L559.05 71.77L587.58 66.94L618.72 61.72L652.82 56.07L690.32 49.93" fill="none" stroke="#000" stroke-width="0.6" stroke-linejoin="round"/>
<path d="M83.34 213.60V187.26A25.72 26.34 0 0 1 109.06 213.60Z" fill="#808080"/>
<path d="M57.62 213.60A25.72 26.34 0 0 1 109.06 213.60" fill="none" stroke="#000" stroke-width="0.6"/>
</g>
<path d="M75.6 153H81.2" stroke="#ff0000" stroke-width="1.3"/>
<path d="M80.3 176.7L83.1 171.5" stroke="#0000ff" stroke-width="1.6"/>
<rect x="31.9" y="81.9" width="128.6" height="131.7" fill="none" stroke="#262626" stroke-width="0.6"/>
<text x="27.5" y="218.50" font-size="10.3" text-anchor="end" fill="#262626">0</text>
<text x="27.5" y="192.16" font-size="10.3" text-anchor="end" fill="#262626">1</text>
<text x="27.5" y="165.82" font-size="10.3" text-anchor="end" fill="#262626">2</text>
<text x="27.5" y="139.48" font-size="10.3" text-anchor="end" fill="#262626">3</text>
<text x="27.5" y="113.14" font-size="10.3" text-anchor="end" fill="#262626">4</text>
<text x="27.5" y="86.80" font-size="10.3" text-anchor="end" fill="#262626">5</text>
<text x="31.90" y="229.0" font-size="10.3" text-anchor="middle" fill="#262626">2</text>
<text x="83.34" y="229.0" font-size="10.3" text-anchor="middle" fill="#262626">0</text>
<text x="134.78" y="229.0" font-size="10.3" text-anchor="middle" fill="#262626">-2</text>
<path d="M31.9 200.43h0.9M160.5 200.43h-0.9M31.9 174.09h0.9M160.5 174.09h-0.9M31.9 147.75h0.9M160.5 147.75h-0.9M31.9 121.41h0.9M160.5 121.41h-0.9M31.9 95.07h0.9M160.5 95.07h-0.9M147.64 213.6v-0.9M147.64 81.9v0.9M121.92 213.6v-0.9M121.92 81.9v0.9M96.20 213.6v-0.9M96.20 81.9v0.9M70.48 213.6v-0.9M70.48 81.9v0.9M44.76 213.6v-0.9M44.76 81.9v0.9M31.9 187.26h1.6M160.5 187.26h-1.6M31.9 160.92h1.6M160.5 160.92h-1.6M31.9 134.58h1.6M160.5 134.58h-1.6M31.9 108.24h1.6M160.5 108.24h-1.6M31.90 213.6v-1.6M31.90 81.9v1.6M83.34 213.6v-1.6M83.34 81.9v1.6M134.78 213.6v-1.6M134.78 81.9v1.6" stroke="#262626" stroke-width="0.5" fill="none"/>
<text x="38.8" y="100.6" font-size="11.6" font-weight="bold" text-anchor="start" fill="#000">(a)</text>
<text x="84.7" y="154.6" font-size="10.2" fill="#ff0000">MAVEN</text>
<text x="89.4" y="184.5" font-size="10.2" fill="#0000ff">Tianwen-1</text>
<text x="96" y="243" font-size="11.4" text-anchor="middle" fill="#262626">X<tspan font-size="9.3" dy="5.6">MSO</tspan><tspan dy="-5.6">(R</tspan><tspan font-size="9.3" dy="5.6">M</tspan><tspan dy="-5.6">)</tspan></text>
<text transform="translate(12.5 147.8) rotate(-90)" font-size="11.4" text-anchor="middle" fill="#262626">R<tspan font-size="9.3" dy="5.6">MSO</tspan><tspan dy="-5.6">(R</tspan><tspan font-size="9.3" dy="5.6">M</tspan><tspan dy="-5.6">)</tspan></text>
<ellipse cx="96.45" cy="376.80" rx="21.38" ry="21.80" fill="none" stroke="#000" stroke-width="0.95"/>
<path d="M64.2 338.5L68.3 335.7" stroke="#ff0000" stroke-width="1.25"/>
<path d="M62.1 379.1L67.8 385.9" stroke="#0000ff" stroke-width="1.8"/>
<rect x="32.3" y="311.4" width="128.3" height="130.8" fill="none" stroke="#262626" stroke-width="0.6"/>
<text x="27.9" y="447.10" font-size="10.3" text-anchor="end" fill="#262626">-3</text>
<text x="27.9" y="425.30" font-size="10.3" text-anchor="end" fill="#262626">-2</text>
<text x="27.9" y="403.50" font-size="10.3" text-anchor="end" fill="#262626">-1</text>
<text x="27.9" y="381.70" font-size="10.3" text-anchor="end" fill="#262626">0</text>
<text x="27.9" y="359.90" font-size="10.3" text-anchor="end" fill="#262626">1</text>
<text x="27.9" y="338.10" font-size="10.3" text-anchor="end" fill="#262626">2</text>
<text x="27.9" y="316.30" font-size="10.3" text-anchor="end" fill="#262626">3</text>
<text x="53.68" y="457.6" font-size="10.3" text-anchor="middle" fill="#262626">-2</text>
<text x="96.45" y="457.6" font-size="10.3" text-anchor="middle" fill="#262626">0</text>
<text x="139.22" y="457.6" font-size="10.3" text-anchor="middle" fill="#262626">2</text>
<path d="M32.3 431.30h0.9M160.6 431.30h-0.9M42.99 442.2v-0.9M42.99 311.4v0.9M32.3 409.50h0.9M160.6 409.50h-0.9M64.38 442.2v-0.9M64.38 311.4v0.9M32.3 387.70h0.9M160.6 387.70h-0.9M85.76 442.2v-0.9M85.76 311.4v0.9M32.3 365.90h0.9M160.6 365.90h-0.9M107.14 442.2v-0.9M107.14 311.4v0.9M32.3 344.10h0.9M160.6 344.10h-0.9M128.53 442.2v-0.9M128.53 311.4v0.9M32.3 322.30h0.9M160.6 322.30h-0.9M149.91 442.2v-0.9M149.91 311.4v0.9M32.3 420.40h1.6M160.6 420.40h-1.6M32.3 398.60h1.6M160.6 398.60h-1.6M32.3 376.80h1.6M160.6 376.80h-1.6M32.3 355.00h1.6M160.6 355.00h-1.6M32.3 333.20h1.6M160.6 333.20h-1.6M53.68 442.2v-1.6M53.68 311.4v1.6M96.45 442.2v-1.6M96.45 311.4v1.6M139.22 442.2v-1.6M139.22 311.4v1.6" stroke="#262626" stroke-width="0.5" fill="none"/>
<text x="38.5" y="330.3" font-size="11.6" font-weight="bold" text-anchor="start" fill="#000">(b)</text>
<text x="96" y="471.5" font-size="11.4" text-anchor="middle" fill="#262626">Y<tspan font-size="9.3" dy="5.6">MSO</tspan><tspan dy="-5.6">(R</tspan><tspan font-size="9.3" dy="5.6">M</tspan><tspan dy="-5.6">)</tspan></text>
<text transform="translate(12.5 376.8) rotate(-90)" font-size="11.4" text-anchor="middle" fill="#262626">Z<tspan font-size="9.3" dy="5.6">MSO</tspan><tspan dy="-5.6">(R</tspan><tspan font-size="9.3" dy="5.6">M</tspan><tspan dy="-5.6">)</tspan></text>
</svg>
</body></html>
